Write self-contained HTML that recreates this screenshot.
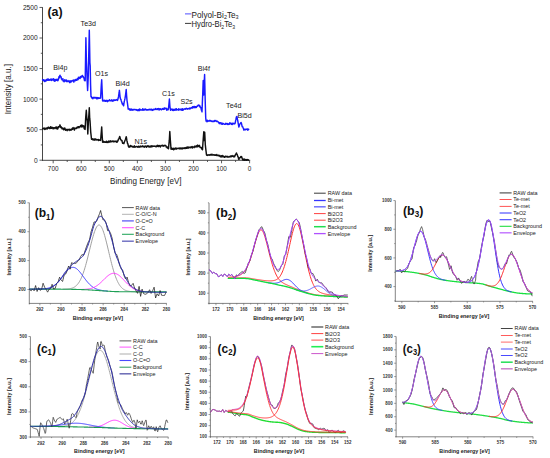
<!DOCTYPE html>
<html><head><meta charset="utf-8"><style>
html,body{margin:0;padding:0;background:#fff;}
svg{display:block;font-family:"Liberation Sans", sans-serif;}
</style></head><body>
<svg width="550" height="458" viewBox="0 0 550 458">
<rect width="550" height="458" fill="#fff"/>
<line x1="42.5" y1="7.2" x2="42.5" y2="160.8" stroke="#333" stroke-width="0.9"/>
<line x1="42.1" y1="160.3" x2="250.2" y2="160.3" stroke="#333" stroke-width="0.9"/>
<line x1="39.5" y1="160.2" x2="42.5" y2="160.2" stroke="#333" stroke-width="0.8"/>
<text x="37.6" y="162.6" font-size="6.6" text-anchor="end" font-weight="normal" fill="#222" >0</text>
<line x1="40.8" y1="144.92" x2="42.5" y2="144.92" stroke="#333" stroke-width="0.8"/>
<line x1="39.5" y1="129.65" x2="42.5" y2="129.65" stroke="#333" stroke-width="0.8"/>
<text x="37.6" y="132.05" font-size="6.6" text-anchor="end" font-weight="normal" fill="#222" >500</text>
<line x1="40.8" y1="114.37" x2="42.5" y2="114.37" stroke="#333" stroke-width="0.8"/>
<line x1="39.5" y1="99.1" x2="42.5" y2="99.1" stroke="#333" stroke-width="0.8"/>
<text x="37.6" y="101.5" font-size="6.6" text-anchor="end" font-weight="normal" fill="#222" >1000</text>
<line x1="40.8" y1="83.82" x2="42.5" y2="83.82" stroke="#333" stroke-width="0.8"/>
<line x1="39.5" y1="68.55" x2="42.5" y2="68.55" stroke="#333" stroke-width="0.8"/>
<text x="37.6" y="70.95" font-size="6.6" text-anchor="end" font-weight="normal" fill="#222" >1500</text>
<line x1="40.8" y1="53.27" x2="42.5" y2="53.27" stroke="#333" stroke-width="0.8"/>
<line x1="39.5" y1="38" x2="42.5" y2="38" stroke="#333" stroke-width="0.8"/>
<text x="37.6" y="40.4" font-size="6.6" text-anchor="end" font-weight="normal" fill="#222" >2000</text>
<line x1="40.8" y1="22.72" x2="42.5" y2="22.72" stroke="#333" stroke-width="0.8"/>
<line x1="39.5" y1="7.45" x2="42.5" y2="7.45" stroke="#333" stroke-width="0.8"/>
<text x="37.6" y="9.85" font-size="6.6" text-anchor="end" font-weight="normal" fill="#222" >2500</text>
<line x1="249.6" y1="160.3" x2="249.6" y2="163.3" stroke="#333" stroke-width="0.8"/>
<text x="249.6" y="170.6" font-size="6.4" text-anchor="middle" font-weight="normal" fill="#222" >0</text>
<line x1="235.57" y1="160.3" x2="235.57" y2="162" stroke="#333" stroke-width="0.8"/>
<line x1="221.54" y1="160.3" x2="221.54" y2="163.3" stroke="#333" stroke-width="0.8"/>
<text x="221.54" y="170.6" font-size="6.4" text-anchor="middle" font-weight="normal" fill="#222" >100</text>
<line x1="207.51" y1="160.3" x2="207.51" y2="162" stroke="#333" stroke-width="0.8"/>
<line x1="193.48" y1="160.3" x2="193.48" y2="163.3" stroke="#333" stroke-width="0.8"/>
<text x="193.48" y="170.6" font-size="6.4" text-anchor="middle" font-weight="normal" fill="#222" >200</text>
<line x1="179.45" y1="160.3" x2="179.45" y2="162" stroke="#333" stroke-width="0.8"/>
<line x1="165.42" y1="160.3" x2="165.42" y2="163.3" stroke="#333" stroke-width="0.8"/>
<text x="165.42" y="170.6" font-size="6.4" text-anchor="middle" font-weight="normal" fill="#222" >300</text>
<line x1="151.39" y1="160.3" x2="151.39" y2="162" stroke="#333" stroke-width="0.8"/>
<line x1="137.36" y1="160.3" x2="137.36" y2="163.3" stroke="#333" stroke-width="0.8"/>
<text x="137.36" y="170.6" font-size="6.4" text-anchor="middle" font-weight="normal" fill="#222" >400</text>
<line x1="123.33" y1="160.3" x2="123.33" y2="162" stroke="#333" stroke-width="0.8"/>
<line x1="109.3" y1="160.3" x2="109.3" y2="163.3" stroke="#333" stroke-width="0.8"/>
<text x="109.3" y="170.6" font-size="6.4" text-anchor="middle" font-weight="normal" fill="#222" >500</text>
<line x1="95.27" y1="160.3" x2="95.27" y2="162" stroke="#333" stroke-width="0.8"/>
<line x1="81.24" y1="160.3" x2="81.24" y2="163.3" stroke="#333" stroke-width="0.8"/>
<text x="81.24" y="170.6" font-size="6.4" text-anchor="middle" font-weight="normal" fill="#222" >600</text>
<line x1="67.21" y1="160.3" x2="67.21" y2="162" stroke="#333" stroke-width="0.8"/>
<line x1="53.18" y1="160.3" x2="53.18" y2="163.3" stroke="#333" stroke-width="0.8"/>
<text x="53.18" y="170.6" font-size="6.4" text-anchor="middle" font-weight="normal" fill="#222" >700</text>
<text x="145.8" y="183.6" font-size="8.4" text-anchor="middle" font-weight="normal" fill="#222" textLength="71.5" lengthAdjust="spacingAndGlyphs">Binding Energy [eV]</text>
<text x="0" y="0" font-size="8.2" text-anchor="middle" font-weight="normal" fill="#222" textLength="50.2" lengthAdjust="spacingAndGlyphs" transform="translate(10.7,89.1) rotate(-90)">Intensity [a.u.]</text>
<text x="47.4" y="15.8" font-size="12.9" text-anchor="start" font-weight="bold" fill="#111" textLength="15.2" lengthAdjust="spacingAndGlyphs">(a)</text>
<line x1="185" y1="13.9" x2="191.4" y2="13.9" stroke="#3a3aff" stroke-width="0.9"/>
<line x1="185" y1="23.4" x2="191.4" y2="23.4" stroke="#222" stroke-width="0.9"/>
<text x="191.6" y="17.5" font-size="9.0" text-anchor="start" font-weight="normal" fill="#222" textLength="47" lengthAdjust="spacingAndGlyphs">Polyol-Bi<tspan font-size="6" dy="1.8">2</tspan><tspan dy="-1.8">Te</tspan><tspan font-size="6" dy="1.8">3</tspan></text>
<text x="191.6" y="26.7" font-size="9.0" text-anchor="start" font-weight="normal" fill="#222" textLength="43.5" lengthAdjust="spacingAndGlyphs">Hydro-Bi<tspan font-size="6" dy="1.8">2</tspan><tspan dy="-1.8">Te</tspan><tspan font-size="6" dy="1.8">3</tspan></text>
<text x="60.35" y="70" font-size="7.1" text-anchor="middle" font-weight="normal" fill="#222" >Bi4p</text>
<text x="88.3" y="25.9" font-size="7.1" text-anchor="middle" font-weight="normal" fill="#222" >Te3d</text>
<text x="101.6" y="75.6" font-size="7.1" text-anchor="middle" font-weight="normal" fill="#222" >O1s</text>
<text x="122.6" y="86.2" font-size="7.1" text-anchor="middle" font-weight="normal" fill="#222" >Bi4d</text>
<text x="168.4" y="96.2" font-size="7.1" text-anchor="middle" font-weight="normal" fill="#222" >C1s</text>
<text x="186.55" y="104.3" font-size="7.1" text-anchor="middle" font-weight="normal" fill="#222" >S2s</text>
<text x="203.9" y="71.1" font-size="7.1" text-anchor="middle" font-weight="normal" fill="#222" >Bi4f</text>
<text x="233.8" y="107.8" font-size="7.1" text-anchor="middle" font-weight="normal" fill="#222" >Te4d</text>
<text x="244.65" y="117.5" font-size="7.1" text-anchor="middle" font-weight="normal" fill="#222" >Bi5d</text>
<text x="140.8" y="143.8" font-size="7.2" text-anchor="middle" font-weight="normal" fill="#222" >N1s</text>
<path d="M42.6,128.8 42.91,128.97 43.22,128.59 43.52,128.19 43.83,128.45 44.14,128.09 44.45,128.74 44.76,129.53 45.07,128.36 45.38,128.26 45.68,128.94 45.99,128.84 46.3,128.67 46.61,128 46.92,128.55 47.23,128.99 47.53,127.69 47.84,128.23 48.15,127.3 48.46,127.67 48.77,127.31 49.08,128.3 49.38,127.63 49.69,128.59 50,128.5 50.31,128.26 50.62,126.77 50.92,127.99 51.23,128.28 51.54,128.36 51.85,127.3 52.15,127.94 52.46,127.6 52.77,127.68 53.08,128.84 53.38,127.64 53.69,128.1 54,128.66 54.31,127.71 54.62,127.98 54.92,128.1 55.23,128.05 55.54,127.21 55.85,128.01 56.15,128.79 56.46,126.94 56.77,128.43 57.08,127.94 57.38,127.44 57.69,129.08 58,128.28 58.33,126.72 58.65,127.2 58.97,127.19 59.3,126.38 59.65,126.13 60,124.86 60.4,126.17 60.8,127.51 61.1,126.67 61.4,127.73 61.7,127.81 62,128.68 62.31,127.93 62.62,128.39 62.92,128.71 63.23,129.47 63.54,129.71 63.85,128.23 64.15,128.64 64.46,129.62 64.77,128.04 65.08,129.08 65.38,129.38 65.69,130.31 66,130.03 66.3,129.42 66.6,129.43 66.9,129.53 67.2,130.68 67.5,129.48 67.8,129.59 68.1,130.03 68.4,129.76 68.7,129.75 69,129.2 69.3,129.82 69.6,129.48 69.9,130.42 70.2,130.03 70.5,129.53 70.8,129.9 71.1,129.2 71.4,130 71.7,129.27 72,129.57 72.3,128.32 72.6,129.28 72.9,127.93 73.2,127.64 73.5,128.66 73.8,128.21 74.1,128.81 74.4,130.05 74.7,128.05 75,128.11 75.31,128.52 75.62,128.6 75.94,128.07 76.25,127.95 76.56,128.41 76.88,128.19 77.19,127.11 77.5,127.6 77.81,127.57 78.12,126.77 78.44,127.49 78.75,126.68 79.06,127.73 79.38,127.13 79.69,126.96 80,126.43 80.31,126.65 80.62,125.4 80.93,125.87 81.24,126.74 81.55,125.1 81.85,126.9 82.16,125.19 82.47,126.69 82.78,125.61 83.09,126.56 83.4,126.08 83.74,125.73 84.08,128.19 84.42,129.01 84.76,128.76 85.1,129.38 85.4,123.68 85.7,117.59 86.3,110.26 86.8,117.77 87.3,121.08 87.8,134.07 88.15,126.94 88.5,119.46 88.9,114.48 89.3,107.84 89.7,118.41 90,120.61 90.35,126.01 90.7,131.86 91.1,135.41 91.5,139.3 91.82,139.17 92.14,139.23 92.45,138.8 92.77,139.07 93.09,140.13 93.41,139.18 93.73,139.05 94.05,139.66 94.36,140.14 94.68,138.96 95,139.51 95.31,139.37 95.62,138.93 95.93,140.01 96.24,139.72 96.56,139.8 96.87,139.48 97.18,140.02 97.49,139.64 97.8,139.84 98.11,139.47 98.42,139.46 98.73,140.56 99.04,139.82 99.36,140.19 99.67,140.09 99.98,139.95 100.29,139.95 100.6,140.46 100.95,135.97 101.3,131.94 101.7,126.91 102.1,134.49 102.6,142.19 102.91,142.05 103.22,141.65 103.52,141.29 103.83,142.27 104.14,142.26 104.45,141.79 104.76,142.07 105.07,142.16 105.38,142.17 105.68,142.2 105.99,141.62 106.3,142.44 106.61,141.27 106.92,142.15 107.22,141.98 107.53,142.13 107.84,142.55 108.15,142.37 108.46,141.26 108.77,141.02 109.08,142.07 109.38,141.29 109.69,141.7 110,142.05 110.3,141 110.6,140.8 110.9,141.78 111.2,141.69 111.5,141.56 111.8,141.67 112.1,141.28 112.4,141 112.7,141.56 113,141.21 113.3,140.92 113.6,141.82 113.9,141.57 114.2,141.76 114.5,141.16 114.8,141.3 115.1,141.14 115.4,141.18 115.7,141.63 116,141.21 116.3,141.68 116.6,141.67 116.9,142.37 117.2,140.92 117.5,141.87 117.83,140.84 118.15,140.24 118.47,139.02 118.8,138.81 119.1,138.45 119.4,137.23 119.7,136.43 120.03,137.3 120.35,138.93 120.67,139.47 121,139.58 121.33,140.63 121.65,140.52 121.97,140.41 122.3,141.98 122.62,143.19 122.95,143.07 123.27,142.98 123.6,143.5 123.92,143.59 124.24,142.41 124.56,141.58 124.88,140.76 125.2,140.02 125.53,139.24 125.87,138.03 126.2,136.79 126.53,138.03 126.87,140.45 127.2,141.71 127.53,143.58 127.85,143.72 128.18,145.32 128.5,146.5 128.8,145.95 129.11,147.23 129.41,147.12 129.71,146.32 130.01,146.84 130.32,146.67 130.62,145.42 130.92,146.63 131.22,146.5 131.53,146.56 131.83,146.08 132.13,146.42 132.43,146.46 132.74,147.04 133.04,146.68 133.34,146.54 133.64,147.19 133.95,146.31 134.25,146.39 134.55,145.79 134.86,147.21 135.16,146.96 135.46,146.95 135.76,146.84 136.07,146.61 136.37,146.66 136.67,146.47 136.97,146.49 137.28,146.6 137.58,147.21 137.88,146.81 138.18,146.56 138.49,146.34 138.79,146.32 139.09,147.27 139.39,146.81 139.7,146.63 140,146.45 140.3,146.13 140.61,146.55 140.91,146.94 141.21,146.4 141.52,146.46 141.82,146.45 142.12,146.58 142.42,145.86 142.73,146.42 143.03,146.15 143.33,146.87 143.64,146.17 143.94,146.72 144.24,147.11 144.55,146.33 144.85,146.2 145.15,146.53 145.45,146.44 145.76,146.01 146.06,146.61 146.36,147.26 146.67,146.29 146.97,146.31 147.27,145.94 147.58,146.51 147.88,145.84 148.18,145.89 148.48,146.88 148.79,145.96 149.09,146.78 149.39,146.96 149.7,146.42 150,146.53 150.3,147.11 150.61,146.21 150.91,146.03 151.21,145.71 151.52,146.29 151.82,146.88 152.12,146.66 152.42,145.86 152.73,145.89 153.03,146.03 153.33,146.36 153.64,146.14 153.94,146.31 154.24,146.34 154.55,146.08 154.85,146.19 155.15,146.28 155.45,146.16 155.76,146.4 156.06,146.96 156.36,146.42 156.67,146.19 156.97,145.45 157.27,146.32 157.58,145.33 157.88,145.55 158.18,146.5 158.48,146.43 158.79,146.06 159.09,145.4 159.39,145.96 159.7,145.82 160,146.37 160.31,147.01 160.62,146.12 160.94,145.66 161.25,145.46 161.56,145.89 161.88,145.8 162.19,145.35 162.5,145.85 162.81,145.28 163.12,146.19 163.44,146.13 163.75,146.11 164.06,145.41 164.38,145.79 164.69,145.48 165,145.34 165.32,145.64 165.64,145.52 165.95,145.74 166.27,146.96 166.59,146.83 166.91,147.28 167.23,147.89 167.55,147.03 167.86,147.71 168.18,148.39 168.5,148.76 168.9,144.14 169.3,140.43 169.8,131.59 170.3,139.49 170.65,144.01 171,149.14 171.3,148.99 171.6,147.99 171.9,149.35 172.2,149.02 172.5,149.33 172.8,148.6 173.1,148.63 173.4,148.27 173.7,149.81 174,148.66 174.3,149.39 174.6,148.45 174.9,148.78 175.2,148 175.5,148.54 175.8,149.11 176.1,148.16 176.4,149.13 176.7,148.81 177,148.23 177.3,148.45 177.6,148.46 177.9,148.63 178.2,148.41 178.5,148.29 178.8,148.5 179.1,148.19 179.4,148.07 179.7,148.59 180,148.97 180.3,147.93 180.61,148.54 180.91,148.24 181.21,148.07 181.52,148.81 181.82,148.2 182.12,149.02 182.42,148.03 182.73,148.49 183.03,148.2 183.33,147.95 183.64,148.48 183.94,148.14 184.24,148.43 184.55,148.13 184.85,147.66 185.15,148.04 185.45,148.08 185.76,148.43 186.06,147.61 186.36,147.95 186.67,147.21 186.97,148.18 187.27,147.42 187.58,147.08 187.88,147.79 188.18,148.25 188.48,147.11 188.79,147.26 189.09,147.38 189.39,147.19 189.7,147.79 190,147.26 190.3,147.25 190.6,147.74 190.9,147.13 191.2,147.58 191.5,146.94 191.8,146.79 192.1,146.48 192.4,147.98 192.7,147.02 193,147.2 193.3,147.04 193.6,147.07 193.9,146.97 194.2,147.7 194.5,146.41 194.8,146.15 195.1,146.32 195.4,146.14 195.7,146.96 196,146.94 196.3,146.13 196.6,145.89 196.9,146.26 197.2,146.93 197.5,145.1 197.8,146.44 198.1,145.7 198.4,146.53 198.7,145.57 199,145.84 199.3,145.27 199.64,145.91 199.98,147.32 200.32,147.5 200.66,147.41 201,147.63 201.3,147.56 201.6,148.55 201.9,149.07 202.2,149.4 202.5,149.76 202.9,143.43 203.3,137.97 203.8,131.78 204.3,140.54 204.7,132.28 205,138.19 205.3,144.68 205.7,148.37 206.1,151.54 206.5,154.89 206.81,155.16 207.11,154.74 207.42,155.42 207.72,155.11 208.03,155.25 208.33,155.06 208.64,154.82 208.94,154.71 209.25,155 209.56,154.86 209.86,155.18 210.17,155.06 210.47,154.48 210.78,155.07 211.08,154.47 211.39,154.76 211.69,154.89 212,154.13 212.3,155.05 212.6,155.09 212.9,154.98 213.2,154.88 213.5,154.92 213.8,154.68 214.1,154.99 214.4,154.89 214.7,155.17 215,154.64 215.3,155.26 215.6,155.24 215.9,155.14 216.2,155.03 216.5,155.46 216.8,154.54 217.1,155.45 217.4,155.37 217.7,155.4 218,155.46 218.3,155.15 218.6,155.43 218.9,155.93 219.2,155.96 219.5,155.99 219.8,155.38 220.1,156.37 220.4,156.75 220.7,156.8 221,156.6 221.3,155.85 221.61,156.91 221.91,156.46 222.22,155.47 222.52,156.7 222.83,155.93 223.13,156.02 223.43,156.3 223.74,157.11 224.04,156.43 224.35,156.71 224.65,157.34 224.96,157.28 225.26,156.58 225.57,156.53 225.87,156.11 226.17,156.36 226.48,156.84 226.78,156.83 227.09,156.72 227.39,157.1 227.7,156.37 228,156.68 228.3,156.99 228.61,156.92 228.91,157.11 229.22,156.81 229.52,156.5 229.83,156.77 230.13,156.19 230.43,155.91 230.74,156.83 231.04,156.55 231.35,156.69 231.65,155.83 231.96,156.38 232.26,156.27 232.57,156.14 232.87,155.54 233.17,156.34 233.48,156.84 233.78,156.61 234.09,156.19 234.39,156.42 234.7,156.73 235,155.24 235.4,155.15 235.8,154.23 236.15,153.49 236.5,153.11 236.8,153.74 237.1,154.26 237.4,155.13 237.72,156.31 238.05,156.72 238.38,157.91 238.7,159.28 239.02,159.37 239.35,158.13 239.68,157.83 240,157.58 240.4,157.63 240.8,156.62 241.2,156.82 241.53,156.56 241.87,157.66 242.2,158.42 242.6,159.43 243,160.14 243.3,159.08 243.6,159.34 243.9,159.87 244.2,159.46 244.5,159.11 244.8,160.2 245.1,159.98 245.4,159.99 245.7,159.59 246,160.23 246.31,159.72 246.62,160.31 246.94,159.49 247.25,159.54 247.56,160.01 247.88,159.66 248.19,160.26 248.5,160.11" fill="none" stroke="#111" stroke-width="1.45" stroke-linejoin="round" stroke-linecap="round" />
<path d="M42.6,79.72 42.91,80.33 43.22,80.04 43.52,80.81 43.83,79.82 44.14,79.92 44.45,80.94 44.76,81.56 45.07,81.39 45.38,80.15 45.68,80.23 45.99,81.04 46.3,79.97 46.61,79.41 46.92,80.08 47.23,80.27 47.53,79.44 47.84,78.91 48.15,79.02 48.46,80.32 48.77,79.41 49.08,79.77 49.38,79.98 49.69,80.21 50,79.59 50.31,80.1 50.62,79.22 50.92,79.54 51.23,79.11 51.54,80.46 51.85,79.71 52.15,79.25 52.46,79.49 52.77,79.56 53.08,80.13 53.38,78.67 53.69,79.01 54,79.41 54.31,81.23 54.62,80.23 54.92,79.55 55.23,80.05 55.54,80.89 55.85,79.43 56.15,79.34 56.46,80.32 56.77,79.86 57.08,79.96 57.38,79.2 57.69,80.72 58,80.58 58.33,79.36 58.65,78.93 58.97,76.72 59.3,77.9 59.65,76.08 60,75.17 60.4,76.48 60.8,76.98 61.1,76.81 61.4,78.78 61.7,78.76 62,79.69 62.31,79.62 62.62,79.88 62.92,78.75 63.23,81.07 63.54,80.56 63.85,81.2 64.15,81.85 64.46,80.71 64.77,79.66 65.08,80.34 65.38,80.24 65.69,80.78 66,81.25 66.3,79.98 66.6,81.5 66.9,80.37 67.2,81.55 67.5,81.33 67.8,81.24 68.1,81.43 68.4,81.18 68.7,81.17 69,80.54 69.3,81.52 69.6,82.63 69.9,82.65 70.2,82.17 70.5,81.72 70.8,80.78 71.1,82.05 71.4,81.04 71.7,80.97 72,80.77 72.3,80.94 72.6,80.55 72.9,80.7 73.2,80.01 73.5,80.39 73.8,82 74.1,80.45 74.4,80.28 74.7,80.7 75,80.75 75.31,79.43 75.62,79.83 75.94,80.37 76.25,79.79 76.56,79.53 76.88,80.27 77.19,78.69 77.5,79 77.81,78.45 78.12,79.55 78.44,77.21 78.75,77.85 79.06,77.77 79.38,78.36 79.69,78.15 80,78.48 80.33,76.43 80.67,77.71 81,76.87 81.33,76.45 81.67,77.02 82,75.92 82.36,75.41 82.72,76.71 83.08,76.22 83.44,76.97 83.8,77.83 84.15,78.75 84.5,80.5 84.85,80.32 85.2,80.76 85.55,59.43 85.9,37.71 86.4,61.49 86.7,67.98 87.1,79.73 87.6,90.47 87.95,83.44 88.3,74.95 88.63,60.12 88.97,44.98 89.3,30.17 89.6,45.97 89.9,62.52 90.2,66.18 90.6,85.16 91,96.77 91.33,96.52 91.67,97.6 92,98.09 92.31,98.26 92.62,97.57 92.92,98.79 93.23,98.12 93.54,97.54 93.85,97.3 94.15,97.87 94.46,97.92 94.77,97.62 95.08,97.93 95.38,97.59 95.69,98.06 96,97.5 96.31,97.84 96.61,98.32 96.92,99.04 97.23,97.59 97.53,97.87 97.84,97.77 98.15,98.5 98.45,97.74 98.76,98.08 99.07,98.32 99.37,97.98 99.68,98.04 99.99,98.29 100.29,97.66 100.6,97.99 100.95,91.63 101.3,85.06 101.7,79.72 102.1,89.25 102.6,100.61 102.9,101.12 103.2,101.01 103.5,100.73 103.8,100.38 104.1,101.01 104.4,100.49 104.7,100.23 105,100.37 105.3,101.31 105.6,100.78 105.9,101.16 106.2,100.47 106.5,101.05 106.8,100.39 107.1,100.57 107.4,101.67 107.7,100.93 108,100.39 108.31,100.54 108.62,100.69 108.94,101.03 109.25,100.29 109.56,99.74 109.88,100.33 110.19,100.43 110.5,100.45 110.81,100.93 111.12,100.48 111.44,100.67 111.75,99.84 112.06,100.64 112.38,101.13 112.69,100.55 113,100.31 113.32,100.25 113.64,100.92 113.96,99.77 114.28,100.1 114.6,100.33 114.92,100.43 115.24,99.92 115.56,100.22 115.88,99.96 116.2,100.12 116.52,100 116.84,99.56 117.16,100.02 117.48,100.38 117.8,99.59 118.13,98.23 118.47,96.95 118.8,94.55 119.1,92.98 119.4,90.35 119.8,94.38 120.2,97.97 120.56,99.05 120.92,99.31 121.28,100.91 121.64,101.85 122,103.04 122.32,104.09 122.64,103.33 122.96,104.76 123.28,104.74 123.6,105.79 123.92,103.64 124.24,101.64 124.56,100.4 124.88,98.95 125.2,97.02 125.53,95 125.87,92.38 126.2,89.5 126.6,95.58 127,100.29 127.4,102.96 127.8,105.83 128.2,109.14 128.5,108.66 128.8,108.7 129.1,109.07 129.4,109.8 129.7,108.87 130,110.1 130.3,109.34 130.61,109.15 130.91,110.15 131.21,109.58 131.52,109.08 131.82,109.49 132.12,110.03 132.42,110.15 132.73,109.48 133.03,109.83 133.33,109.97 133.64,109.4 133.94,109.83 134.24,109.67 134.55,109.47 134.85,109.49 135.15,109.73 135.45,109.72 135.76,109.48 136.06,109.54 136.36,110.19 136.67,109.82 136.97,110.11 137.27,110.25 137.58,110 137.88,110.71 138.18,109.42 138.48,110.11 138.79,109.64 139.09,110.56 139.39,110.5 139.7,108.97 140,109.39 140.3,110.07 140.61,110.12 140.91,110.09 141.21,109.75 141.52,109.96 141.82,110.04 142.12,109.72 142.42,110.18 142.73,108.8 143.03,110.01 143.33,109.3 143.64,110.13 143.94,109.63 144.24,109.34 144.55,109.87 144.85,109.32 145.15,109.31 145.45,109.03 145.76,109.67 146.06,109.89 146.36,110.1 146.67,109.61 146.97,110.1 147.27,109.66 147.58,109.61 147.88,109.88 148.18,110.08 148.48,109.49 148.79,109.52 149.09,109.55 149.39,109.65 149.7,109.23 150,110.03 150.3,109.42 150.61,109.78 150.91,109.23 151.21,109.71 151.52,109.72 151.82,109.37 152.12,110.39 152.42,109.68 152.73,110.26 153.03,109.91 153.33,109.22 153.64,109.33 153.94,109.66 154.24,109.5 154.55,109.48 154.85,109.33 155.15,108.69 155.45,109.34 155.76,108.5 156.06,109.57 156.36,109.1 156.67,109.1 156.97,109.3 157.27,109.5 157.58,108.77 157.88,108.63 158.18,108.91 158.48,108.49 158.79,108.93 159.09,110 159.39,108.87 159.7,109.58 160,108.72 160.31,109.38 160.61,109.08 160.92,109.14 161.22,109.36 161.53,109.82 161.83,109.12 162.14,109.04 162.44,108.54 162.75,109.15 163.06,108.75 163.36,109.16 163.67,108.75 163.97,109.45 164.28,107.84 164.58,108.51 164.89,108.96 165.19,108.4 165.5,108.17 165.84,108.55 166.18,108.25 166.51,109.04 166.85,110.17 167.19,109.79 167.52,109.01 167.86,109.27 168.2,109.63 168.6,107.32 169,103.65 169.4,99.01 169.9,106.37 170.5,110.26 170.81,109.73 171.11,109.41 171.42,109.22 171.73,109.57 172.03,108.91 172.34,110.16 172.65,109.57 172.95,110.02 173.26,110.6 173.56,110.3 173.87,109.31 174.18,110.15 174.48,110.26 174.79,109.45 175.1,109.35 175.4,109.7 175.71,109.06 176.02,110.34 176.32,108.71 176.63,109.24 176.94,109.58 177.24,109.59 177.55,109.75 177.85,109.78 178.16,109.57 178.47,110.13 178.77,108.74 179.08,109.63 179.39,109.32 179.69,109.67 180,109.69 180.3,109.18 180.61,109.26 180.91,109.82 181.21,109.6 181.52,109.13 181.82,110.24 182.12,110.32 182.42,108.69 182.73,109.4 183.03,110.29 183.33,109.53 183.64,109.26 183.94,109.04 184.24,108.86 184.55,108.97 184.85,108.79 185.15,109.29 185.45,108.78 185.76,108.72 186.06,108.37 186.36,108.82 186.67,108.42 186.97,108.69 187.27,109.16 187.58,108.84 187.88,108.87 188.18,108.77 188.48,108.61 188.79,108.49 189.09,108.38 189.39,108.79 189.7,107.98 190,108.96 190.3,108.32 190.6,107.91 190.9,107.92 191.2,107.76 191.5,108.02 191.8,107.56 192.1,108.25 192.4,107.35 192.7,106.64 193,107.19 193.3,106.57 193.6,107.3 193.9,107.67 194.2,107.41 194.5,106.49 194.8,106.64 195.1,107.62 195.4,106.91 195.7,106.69 196,107.04 196.3,107.5 196.6,106.89 196.9,106.28 197.2,106.24 197.5,106.22 197.8,105.58 198.1,105.26 198.4,105.6 198.7,105.06 199,105.3 199.3,105.24 199.64,106.74 199.98,105.96 200.32,106.83 200.66,107.37 201,108.18 201.33,109.84 201.67,110.59 202,111.86 202.35,102.91 202.7,94.61 203.2,80.53 203.7,95.02 204,87.71 204.3,81.11 204.6,74.41 205.2,100.21 205.7,117.75 206.1,121.09 206.41,120.43 206.72,120.7 207.03,121.85 207.34,120.24 207.65,121.01 207.96,121.23 208.27,120.97 208.58,120.78 208.89,121.08 209.21,121.09 209.52,121.05 209.83,120.29 210.14,121 210.45,120.69 210.76,120.81 211.07,121.13 211.38,121.29 211.69,121.39 212,120.79 212.31,121.4 212.62,121.52 212.94,121.51 213.25,121.63 213.56,121 213.87,121 214.18,121.43 214.49,120.52 214.81,121.19 215.12,120.89 215.43,120.97 215.74,120.41 216.05,120.78 216.36,121.16 216.68,121.55 216.99,121.6 217.3,121.17 217.64,121.44 217.98,121.49 218.32,122.33 218.66,122.38 219,123.05 219.31,123.65 219.63,123.01 219.94,122.51 220.26,122.9 220.57,122.76 220.89,122.98 221.2,124.15 221.51,123.71 221.82,122.99 222.13,123.92 222.44,124.18 222.75,123.52 223.05,123.4 223.36,123.55 223.67,123.83 223.98,123.99 224.29,124.23 224.6,124.26 224.91,124.26 225.22,124.35 225.53,124.07 225.84,123.16 226.15,123.76 226.45,123.96 226.76,123.68 227.07,124.24 227.38,123.72 227.69,123.5 228,124.51 228.3,124.17 228.61,123.97 228.91,124.25 229.22,124.29 229.52,123.98 229.83,122.79 230.13,123.52 230.43,123.6 230.74,123.37 231.04,123.85 231.35,124.26 231.65,123.54 231.96,123.25 232.26,124.57 232.57,123.51 232.87,123.17 233.17,123.78 233.48,123.84 233.78,123.36 234.09,123.97 234.39,123.42 234.7,123.23 235,123.68 235.33,122.39 235.67,120.27 236,119.14 236.35,117.11 236.7,116.49 237,116.57 237.3,119.01 237.6,119.98 237.93,121.57 238.25,123.55 238.57,125.25 238.9,127.03 239.27,125.8 239.63,124.58 240,123.77 240.37,123.51 240.73,122.84 241.1,122.49 241.47,123.44 241.83,125.08 242.2,126.64 242.52,126.89 242.85,127.03 243.18,127.98 243.5,128.7 243.81,129.96 244.12,128.92 244.44,129.78 244.75,129.5 245.06,129.96 245.38,129.65 245.69,129.17 246,129.12 246.34,129.3 246.68,129.4 247.01,129.16 247.35,129.44 247.69,130.19 248.02,128.86 248.36,129.75 248.7,129.32" fill="none" stroke="#1a1aff" stroke-width="1.45" stroke-linejoin="round" stroke-linecap="round" />
<line x1="29.3" y1="202.7" x2="29.3" y2="303.8" stroke="#5a5a5a" stroke-width="0.75"/>
<line x1="29" y1="303.4" x2="166.7" y2="303.4" stroke="#5a5a5a" stroke-width="0.75"/>
<line x1="27.4" y1="289.5" x2="29.3" y2="289.5" stroke="#5a5a5a" stroke-width="0.6"/>
<text x="25.8" y="291.1" font-size="4.7" text-anchor="end" font-weight="bold" fill="#333" textLength="7.35" lengthAdjust="spacingAndGlyphs">200</text>
<line x1="28.2" y1="275.05" x2="29.3" y2="275.05" stroke="#5a5a5a" stroke-width="0.6"/>
<line x1="27.4" y1="260.6" x2="29.3" y2="260.6" stroke="#5a5a5a" stroke-width="0.6"/>
<text x="25.8" y="262.2" font-size="4.7" text-anchor="end" font-weight="bold" fill="#333" textLength="7.35" lengthAdjust="spacingAndGlyphs">300</text>
<line x1="28.2" y1="246.15" x2="29.3" y2="246.15" stroke="#5a5a5a" stroke-width="0.6"/>
<line x1="27.4" y1="231.7" x2="29.3" y2="231.7" stroke="#5a5a5a" stroke-width="0.6"/>
<text x="25.8" y="233.3" font-size="4.7" text-anchor="end" font-weight="bold" fill="#333" textLength="7.35" lengthAdjust="spacingAndGlyphs">400</text>
<line x1="28.2" y1="217.25" x2="29.3" y2="217.25" stroke="#5a5a5a" stroke-width="0.6"/>
<line x1="27.4" y1="202.8" x2="29.3" y2="202.8" stroke="#5a5a5a" stroke-width="0.6"/>
<text x="25.8" y="204.4" font-size="4.7" text-anchor="end" font-weight="bold" fill="#333" textLength="7.35" lengthAdjust="spacingAndGlyphs">500</text>
<line x1="166.45" y1="303.4" x2="166.45" y2="305.3" stroke="#5a5a5a" stroke-width="0.6"/>
<text x="166.45" y="311" font-size="5.0" text-anchor="middle" font-weight="bold" fill="#333" textLength="7.35" lengthAdjust="spacingAndGlyphs">280</text>
<line x1="155.9" y1="303.4" x2="155.9" y2="304.5" stroke="#5a5a5a" stroke-width="0.6"/>
<line x1="145.35" y1="303.4" x2="145.35" y2="305.3" stroke="#5a5a5a" stroke-width="0.6"/>
<text x="145.35" y="311" font-size="5.0" text-anchor="middle" font-weight="bold" fill="#333" textLength="7.35" lengthAdjust="spacingAndGlyphs">282</text>
<line x1="134.8" y1="303.4" x2="134.8" y2="304.5" stroke="#5a5a5a" stroke-width="0.6"/>
<line x1="124.25" y1="303.4" x2="124.25" y2="305.3" stroke="#5a5a5a" stroke-width="0.6"/>
<text x="124.25" y="311" font-size="5.0" text-anchor="middle" font-weight="bold" fill="#333" textLength="7.35" lengthAdjust="spacingAndGlyphs">284</text>
<line x1="113.7" y1="303.4" x2="113.7" y2="304.5" stroke="#5a5a5a" stroke-width="0.6"/>
<line x1="103.15" y1="303.4" x2="103.15" y2="305.3" stroke="#5a5a5a" stroke-width="0.6"/>
<text x="103.15" y="311" font-size="5.0" text-anchor="middle" font-weight="bold" fill="#333" textLength="7.35" lengthAdjust="spacingAndGlyphs">286</text>
<line x1="92.6" y1="303.4" x2="92.6" y2="304.5" stroke="#5a5a5a" stroke-width="0.6"/>
<line x1="82.05" y1="303.4" x2="82.05" y2="305.3" stroke="#5a5a5a" stroke-width="0.6"/>
<text x="82.05" y="311" font-size="5.0" text-anchor="middle" font-weight="bold" fill="#333" textLength="7.35" lengthAdjust="spacingAndGlyphs">288</text>
<line x1="71.5" y1="303.4" x2="71.5" y2="304.5" stroke="#5a5a5a" stroke-width="0.6"/>
<line x1="60.95" y1="303.4" x2="60.95" y2="305.3" stroke="#5a5a5a" stroke-width="0.6"/>
<text x="60.95" y="311" font-size="5.0" text-anchor="middle" font-weight="bold" fill="#333" textLength="7.35" lengthAdjust="spacingAndGlyphs">290</text>
<line x1="50.4" y1="303.4" x2="50.4" y2="304.5" stroke="#5a5a5a" stroke-width="0.6"/>
<line x1="39.85" y1="303.4" x2="39.85" y2="305.3" stroke="#5a5a5a" stroke-width="0.6"/>
<text x="39.85" y="311" font-size="5.0" text-anchor="middle" font-weight="bold" fill="#333" textLength="7.35" lengthAdjust="spacingAndGlyphs">292</text>
<line x1="29.3" y1="303.4" x2="29.3" y2="304.5" stroke="#5a5a5a" stroke-width="0.6"/>
<text x="97.9" y="319.6" font-size="5.8" text-anchor="middle" font-weight="bold" fill="#222" textLength="50.5" lengthAdjust="spacingAndGlyphs">Binding energy [eV]</text>
<text x="0" y="0" font-size="5.5" text-anchor="middle" font-weight="bold" fill="#222" textLength="37" lengthAdjust="spacingAndGlyphs" transform="translate(10.6,257) rotate(-90)">Intensity [a.u.]</text>
<text x="34.7" y="217.4" font-size="12.9" text-anchor="start" font-weight="bold" fill="#111" textLength="19.8" lengthAdjust="spacingAndGlyphs">(b<tspan font-size="8.4" dy="2.3">1</tspan><tspan dy="-2.3">)</tspan></text>
<path d="M63.1,289.15 63.6,289.14 64.1,289.13 64.6,289.12 65.1,289.11 65.6,289.09 66.1,289.07 66.6,289.05 67.1,289.02 67.6,288.98 68.1,288.93 68.6,288.88 69.1,288.81 69.6,288.74 70.1,288.65 70.6,288.54 71.1,288.42 71.6,288.28 72.1,288.12 72.6,287.94 73.1,287.74 73.6,287.5 74.1,287.24 74.6,286.94 75.1,286.6 75.6,286.22 76.1,285.8 76.6,285.33 77.1,284.81 77.6,284.24 78.1,283.61 78.6,282.92 79.1,282.16 79.6,281.34 80.1,280.45 80.6,279.48 81.1,278.44 81.6,277.32 82.1,276.12 82.6,274.84 83.1,273.49 83.6,272.05 84.1,270.54 84.6,268.94 85.1,267.28 85.6,265.55 86.1,263.75 86.6,261.89 87.1,259.98 87.6,258.03 88.1,256.04 88.6,254.01 89.1,251.97 89.6,249.92 90.1,247.88 90.6,245.84 91.1,243.83 91.6,241.87 92.1,239.95 92.6,238.09 93.1,236.31 93.6,234.62 94.1,233.03 94.6,231.56 95.1,230.21 95.6,229 96.1,227.93 96.6,227.01 97.1,226.26 97.6,225.68 98.1,225.27 98.6,225.04 99.1,224.98 99.6,225.11 100.1,225.42 100.6,225.9 101.1,226.55 101.6,227.37 102.1,228.36 102.6,229.49 103.1,230.78 103.6,232.19 104.1,233.73 104.6,235.39 105.1,237.15 105.6,238.99 106.1,240.91 106.6,242.9 107.1,244.94 107.6,247.02 108.1,249.12 108.6,251.24 109.1,253.35 109.6,255.46 110.1,257.54 110.6,259.6 111.1,261.61 111.6,263.58 112.1,265.49 112.6,267.33 113.1,269.11 113.6,270.81 114.1,272.44 114.6,273.99 115.1,275.46 115.6,276.84 116.1,278.15 116.6,279.37 117.1,280.52 117.6,281.59 118.1,282.58 118.6,283.5 119.1,284.35 119.6,285.12 120.1,285.84 120.6,286.49 121.1,287.08 121.6,287.62 122.1,288.11 122.6,288.55 123.1,288.94 123.6,289.3 124.1,289.61 124.6,289.9 125.1,290.15 125.6,290.37 126.1,290.56 126.6,290.73 127.1,290.89 127.6,291.02 128.1,291.13 128.6,291.23 129.1,291.32 129.6,291.4 130.1,291.46 130.6,291.52 131.1,291.56 131.6,291.61 132.1,291.64 132.6,291.67 133.1,291.7 133.6,291.72 134.1,291.74 134.6,291.76 135.1,291.77" fill="none" stroke="#a0a0a0" stroke-width="1.0" stroke-linejoin="round" stroke-linecap="round" />
<path d="M38.6,289.04 39.1,289.03 39.6,289.02 40.1,289.01 40.6,288.99 41.1,288.97 41.6,288.95 42.1,288.92 42.6,288.89 43.1,288.86 43.6,288.82 44.1,288.78 44.6,288.73 45.1,288.67 45.6,288.61 46.1,288.53 46.6,288.45 47.1,288.36 47.6,288.26 48.1,288.15 48.6,288.02 49.1,287.88 49.6,287.73 50.1,287.55 50.6,287.37 51.1,287.16 51.6,286.94 52.1,286.7 52.6,286.44 53.1,286.15 53.6,285.85 54.1,285.52 54.6,285.17 55.1,284.79 55.6,284.39 56.1,283.97 56.6,283.52 57.1,283.05 57.6,282.55 58.1,282.03 58.6,281.49 59.1,280.93 59.6,280.35 60.1,279.75 60.6,279.13 61.1,278.5 61.6,277.86 62.1,277.2 62.6,276.55 63.1,275.88 63.6,275.22 64.1,274.57 64.6,273.91 65.1,273.27 65.6,272.65 66.1,272.04 66.6,271.45 67.1,270.89 67.6,270.36 68.1,269.87 68.6,269.41 69.1,268.98 69.6,268.61 70.1,268.27 70.6,267.99 71.1,267.75 71.6,267.57 72.1,267.45 72.6,267.37 73.1,267.35 73.6,267.39 74.1,267.48 74.6,267.63 75.1,267.83 75.6,268.09 76.1,268.39 76.6,268.75 77.1,269.14 77.6,269.59 78.1,270.07 78.6,270.59 79.1,271.14 79.6,271.72 80.1,272.33 80.6,272.96 81.1,273.61 81.6,274.27 82.1,274.95 82.6,275.63 83.1,276.31 83.6,277 84.1,277.68 84.6,278.36 85.1,279.03 85.6,279.68 86.1,280.33 86.6,280.96 87.1,281.57 87.6,282.17 88.1,282.74 88.6,283.29 89.1,283.83 89.6,284.33 90.1,284.82 90.6,285.28 91.1,285.71 91.6,286.13 92.1,286.51 92.6,286.88 93.1,287.22 93.6,287.54 94.1,287.84 94.6,288.11 95.1,288.37 95.6,288.61 96.1,288.83 96.6,289.03 97.1,289.22 97.6,289.4 98.1,289.56 98.6,289.71 99.1,289.85 99.6,289.97 100.1,290.09 100.6,290.2 101.1,290.3 101.6,290.39 102.1,290.48 102.6,290.56 103.1,290.63 103.6,290.7 104.1,290.76 104.6,290.82 105.1,290.88 105.6,290.93 106.1,290.98 106.6,291.03 107.1,291.08 107.6,291.13" fill="none" stroke="#3a3aff" stroke-width="1.0" stroke-linejoin="round" stroke-linecap="round" />
<path d="M78.6,289.43 79.1,289.44 79.6,289.44 80.1,289.44 80.6,289.44 81.1,289.44 81.6,289.44 82.1,289.43 82.6,289.42 83.1,289.41 83.6,289.39 84.1,289.37 84.6,289.35 85.1,289.32 85.6,289.28 86.1,289.24 86.6,289.2 87.1,289.15 87.6,289.09 88.1,289.02 88.6,288.95 89.1,288.87 89.6,288.77 90.1,288.67 90.6,288.55 91.1,288.42 91.6,288.27 92.1,288.11 92.6,287.93 93.1,287.74 93.6,287.53 94.1,287.3 94.6,287.06 95.1,286.79 95.6,286.51 96.1,286.21 96.6,285.89 97.1,285.55 97.6,285.19 98.1,284.82 98.6,284.43 99.1,284.02 99.6,283.6 100.1,283.16 100.6,282.71 101.1,282.25 101.6,281.77 102.1,281.29 102.6,280.8 103.1,280.3 103.6,279.8 104.1,279.3 104.6,278.81 105.1,278.31 105.6,277.83 106.1,277.36 106.6,276.9 107.1,276.46 107.6,276.04 108.1,275.64 108.6,275.26 109.1,274.91 109.6,274.59 110.1,274.3 110.6,274.04 111.1,273.82 111.6,273.64 112.1,273.49 112.6,273.37 113.1,273.3 113.6,273.27 114.1,273.27 114.6,273.32 115.1,273.4 115.6,273.53 116.1,273.69 116.6,273.9 117.1,274.14 117.6,274.42 118.1,274.73 118.6,275.08 119.1,275.45 119.6,275.86 120.1,276.29 120.6,276.74 121.1,277.22 121.6,277.71 122.1,278.21 122.6,278.73 123.1,279.26 123.6,279.79 124.1,280.33 124.6,280.87 125.1,281.41 125.6,281.94 126.1,282.47 126.6,282.99 127.1,283.5 127.6,284 128.1,284.48 128.6,284.96 129.1,285.41 129.6,285.85 130.1,286.27 130.6,286.68 131.1,287.06 131.6,287.43 132.1,287.78 132.6,288.11 133.1,288.42 133.6,288.71 134.1,288.99 134.6,289.24 135.1,289.48 135.6,289.71 136.1,289.91 136.6,290.1 137.1,290.28 137.6,290.44 138.1,290.59 138.6,290.72 139.1,290.84 139.6,290.96 140.1,291.06 140.6,291.15 141.1,291.23 141.6,291.31 142.1,291.38 142.6,291.44 143.1,291.49 143.6,291.54 144.1,291.58 144.6,291.62 145.1,291.65 145.6,291.68 146.1,291.71 146.6,291.73 147.1,291.75 147.6,291.77 148.1,291.79 148.6,291.8 149.1,291.81 149.6,291.82" fill="none" stroke="#ff33ff" stroke-width="1.0" stroke-linejoin="round" stroke-linecap="round" />
<path d="M29.6,289.1 30.1,289.1 30.6,289.1 31.1,289.1 31.6,289.1 32.1,289.1 32.6,289.1 33.1,289.1 33.6,289.1 34.1,289.1 34.6,289.1 35.1,289.1 35.6,289.1 36.1,289.1 36.6,289.1 37.1,289.1 37.6,289.1 38.1,289.1 38.6,289.1 39.1,289.1 39.6,289.1 40.1,289.1 40.6,289.1 41.1,289.1 41.6,289.1 42.1,289.1 42.6,289.1 43.1,289.1 43.6,289.1 44.1,289.1 44.6,289.1 45.1,289.1 45.6,289.1 46.1,289.1 46.6,289.1 47.1,289.1 47.6,289.1 48.1,289.1 48.6,289.1 49.1,289.1 49.6,289.1 50.1,289.1 50.6,289.1 51.1,289.1 51.6,289.1 52.1,289.1 52.6,289.1 53.1,289.11 53.6,289.11 54.1,289.11 54.6,289.11 55.1,289.12 55.6,289.12 56.1,289.13 56.6,289.13 57.1,289.13 57.6,289.14 58.1,289.14 58.6,289.15 59.1,289.15 59.6,289.16 60.1,289.16 60.6,289.17 61.1,289.18 61.6,289.18 62.1,289.19 62.6,289.19 63.1,289.2 63.6,289.21 64.1,289.21 64.6,289.22 65.1,289.23 65.6,289.24 66.1,289.24 66.6,289.25 67.1,289.26 67.6,289.26 68.1,289.27 68.6,289.28 69.1,289.29 69.6,289.29 70.1,289.3 70.6,289.31 71.1,289.32 71.6,289.33 72.1,289.33 72.6,289.34 73.1,289.35 73.6,289.36 74.1,289.37 74.6,289.39 75.1,289.4 75.6,289.41 76.1,289.42 76.6,289.43 77.1,289.45 77.6,289.46 78.1,289.47 78.6,289.49 79.1,289.5 79.6,289.52 80.1,289.53 80.6,289.55 81.1,289.56 81.6,289.58 82.1,289.6 82.6,289.61 83.1,289.63 83.6,289.65 84.1,289.67 84.6,289.68 85.1,289.7 85.6,289.72 86.1,289.75 86.6,289.77 87.1,289.8 87.6,289.82 88.1,289.85 88.6,289.88 89.1,289.91 89.6,289.94 90.1,289.97 90.6,290.01 91.1,290.04 91.6,290.07 92.1,290.11 92.6,290.14 93.1,290.17 93.6,290.21 94.1,290.24 94.6,290.27 95.1,290.31 95.6,290.34 96.1,290.37 96.6,290.41 97.1,290.44 97.6,290.48 98.1,290.51 98.6,290.55 99.1,290.58 99.6,290.62 100.1,290.66 100.6,290.69 101.1,290.73 101.6,290.77 102.1,290.8 102.6,290.84 103.1,290.87 103.6,290.91 104.1,290.94 104.6,290.97 105.1,291.01 105.6,291.04 106.1,291.07 106.6,291.11 107.1,291.15 107.6,291.18 108.1,291.22 108.6,291.25 109.1,291.29 109.6,291.32 110.1,291.36 110.6,291.39 111.1,291.42 111.6,291.45 112.1,291.48 112.6,291.51 113.1,291.53 113.6,291.56 114.1,291.57 114.6,291.59 115.1,291.6 115.6,291.61 116.1,291.62 116.6,291.63 117.1,291.64 117.6,291.65 118.1,291.66 118.6,291.67 119.1,291.68 119.6,291.69 120.1,291.7 120.6,291.71 121.1,291.71 121.6,291.72 122.1,291.73 122.6,291.73 123.1,291.74 123.6,291.75 124.1,291.75 124.6,291.76 125.1,291.76 125.6,291.77 126.1,291.77 126.6,291.78 127.1,291.78 127.6,291.79 128.1,291.79 128.6,291.79 129.1,291.8 129.6,291.8 130.1,291.8 130.6,291.8 131.1,291.81 131.6,291.81 132.1,291.81 132.6,291.81 133.1,291.81 133.6,291.82 134.1,291.82 134.6,291.82 135.1,291.82 135.6,291.83 136.1,291.83 136.6,291.83 137.1,291.83 137.6,291.83 138.1,291.84 138.6,291.84 139.1,291.84 139.6,291.84 140.1,291.84 140.6,291.85 141.1,291.85 141.6,291.85 142.1,291.85 142.6,291.85 143.1,291.86 143.6,291.86 144.1,291.86 144.6,291.86 145.1,291.86 145.6,291.86 146.1,291.87 146.6,291.87 147.1,291.87 147.6,291.87 148.1,291.87 148.6,291.87 149.1,291.87 149.6,291.88 150.1,291.88 150.6,291.88 151.1,291.88 151.6,291.88 152.1,291.88 152.6,291.88 153.1,291.88 153.6,291.89 154.1,291.89 154.6,291.89 155.1,291.89 155.6,291.89 156.1,291.89 156.6,291.89 157.1,291.89 157.6,291.89 158.1,291.89 158.6,291.89 159.1,291.89 159.6,291.9 160.1,291.9 160.6,291.9 161.1,291.9 161.6,291.9 162.1,291.9 162.6,291.9 163.1,291.9 163.6,291.9 164.1,291.9 164.6,291.9 165.1,291.9 165.6,291.9 166.1,291.9" fill="none" stroke="#1fa055" stroke-width="1.1" stroke-linejoin="round" stroke-linecap="round" />
<path d="M29.6,289.51 30.1,289.99 30.6,290.47 31.1,290.95 31.6,290.29 32.1,289.63 32.6,288.97 33.1,289.57 33.6,290.17 34.1,290.78 34.6,289.04 35.1,287.3 35.6,285.56 36.1,287.53 36.6,289.5 37.1,291.47 37.6,290.21 38.1,288.95 38.6,287.69 39.1,288.58 39.6,289.48 40.1,290.37 40.6,290.04 41.1,289.71 41.6,289.38 42.1,287.33 42.6,285.29 43.1,283.25 43.6,284.57 44.1,285.9 44.6,287.22 45.1,287.91 45.6,288.61 46.1,289.3 46.6,290.25 47.1,291.2 47.6,292.15 48.1,291.19 48.6,290.2 49.1,289.17 49.6,289 50.1,288.79 50.6,288.55 51.1,287.07 51.6,285.56 52.1,284.3 52.6,285.87 53.1,287.42 53.6,288.96 54.1,288.84 54.6,288.71 55.1,288.57 55.6,286.97 56.1,285.35 56.6,283.71 57.1,283.07 57.6,282.4 58.1,281.71 58.6,280.22 59.1,278.71 59.6,277.17 60.1,278.2 60.6,279.19 61.1,280.13 61.6,280.58 62.1,281.01 62.6,281.43 63.1,279.31 63.6,277.2 64.1,275.1 64.6,274.72 65.1,274.39 65.6,274.1 66.1,272.99 66.6,271.89 67.1,270.8 67.6,269.19 68.1,267.6 68.6,266.04 69.1,267.06 69.6,268.11 70.1,269.19 70.6,267.02 71.1,264.85 71.6,262.69 72.1,262.93 72.6,263.18 73.1,263.45 73.6,263.37 74.1,263.31 74.6,263.26 75.1,263.28 75.6,263.31 76.1,263.34 76.6,262.65 77.1,261.97 77.6,261.28 78.1,260.89 78.6,260.49 79.1,260.1 79.6,258.96 80.1,257.81 80.6,256.67 81.1,255.94 81.6,255.2 82.1,254.45 82.6,254.83 83.1,255.05 83.6,255.16 84.1,253.76 84.6,252.28 85.1,250.74 85.6,249.29 86.1,247.82 86.6,246.29 87.1,245.13 87.6,243.88 88.1,242.54 88.6,241.59 89.1,240.56 89.6,239.48 90.1,236.94 90.6,234.37 91.1,231.71 91.6,230.21 92.1,228.68 92.6,227.19 93.1,225.27 93.6,223.5 94.1,221.94 94.6,221.96 95.1,222.12 95.6,222.38 96.1,221.65 96.6,220.97 97.1,220.32 97.6,218.27 98.1,217.12 98.6,215.96 99.1,214.75 99.6,213.5 100.1,212.06 100.6,210.5 101.1,212.69 101.6,214.78 102.1,216.72 102.6,218.33 103.1,219.96 103.6,219.88 104.1,219.94 104.6,220.11 105.1,221 105.6,221.94 106.1,222.93 106.6,225.42 107.1,227.96 107.6,230.57 108.1,230.51 108.6,230.49 109.1,230.52 109.6,231.44 110.1,232.42 110.6,233.47 111.1,235.01 111.6,236.6 112.1,238.21 112.6,241.06 113.1,243.93 113.6,246.97 114.1,249.03 114.6,251.13 115.1,253.13 115.6,253.8 116.1,254.14 116.6,254.31 117.1,255.81 117.6,257.28 118.1,258.72 118.6,260.91 119.1,263.09 119.6,265.27 120.1,266.47 120.6,267.67 121.1,268.87 121.6,269.23 122.1,269.58 122.6,269.93 123.1,271.93 123.6,273.92 124.1,275.88 124.6,276.94 125.1,277.97 125.6,278.96 126.1,278.38 126.6,277.76 127.1,277.1 127.6,278.95 128.1,280.76 128.6,282.5 129.1,283.68 129.6,284.8 130.1,285.87 130.6,285.74 131.1,285.57 131.6,285.36 132.1,284.72 132.6,284.05 133.1,283.36 133.6,284.92 134.1,286.46 134.6,287.99 135.1,288.97 135.6,289.95 136.1,290.92 136.6,291.74 137.1,292.54 137.6,293.33 138.1,291.04 138.6,288.72 139.1,286.38 139.6,289.73 140.1,293.05 140.6,296.35 141.1,293.96 141.6,291.56 142.1,289.16 142.6,290.64 143.1,292.11 143.6,293.57 144.1,293.82 144.6,294.07 145.1,294.3 145.6,294.18 146.1,294.04 146.6,293.9 147.1,293.37 147.6,292.84 148.1,292.31 148.6,291.46 149.1,290.61 149.6,289.76 150.1,290.98 150.6,292.19 151.1,293.41 151.6,292.54 152.1,291.66 152.6,290.79 153.1,289.6 153.6,288.41 154.1,287.22 154.6,290.81 155.1,294.39 155.6,297.97 156.1,296.57 156.6,295.16 157.1,293.76 157.6,294.51 158.1,295.25 158.6,296 159.1,294.18 159.6,292.36 160.1,290.54 160.6,292.13 161.1,293.71 161.6,295.29 162.1,295.37 162.6,295.44 163.1,295.51 163.6,295.47 164.1,295.43 164.6,295.39 165.1,294.32 165.6,293.25 166.1,292.18" fill="none" stroke="#222" stroke-width="0.8" stroke-linejoin="round" stroke-linecap="round" />
<path d="M29.6,289.1 30.1,289.1 30.6,289.1 31.1,289.1 31.6,289.1 32.1,289.1 32.6,289.09 33.1,289.09 33.6,289.08 34.1,289.08 34.6,289.07 35.1,289.06 35.6,289.06 36.1,289.05 36.6,289.04 37.1,289.04 37.6,289.03 38.1,289.02 38.6,289.02 39.1,289.01 39.6,289 40.1,289 40.6,288.99 41.1,288.98 41.6,288.97 42.1,288.96 42.6,288.95 43.1,288.93 43.6,288.92 44.1,288.9 44.6,288.88 45.1,288.86 45.6,288.84 46.1,288.81 46.6,288.79 47.1,288.76 47.6,288.73 48.1,288.7 48.6,288.64 49.1,288.54 49.6,288.39 50.1,288.2 50.6,287.98 51.1,287.72 51.6,287.44 52.1,287.13 52.6,286.8 53.1,286.45 53.6,286.09 54.1,285.72 54.6,285.35 55.1,284.96 55.6,284.54 56.1,284.11 56.6,283.65 57.1,283.17 57.6,282.67 58.1,282.14 58.6,281.59 59.1,281.01 59.6,280.41 60.1,279.77 60.6,279.09 61.1,278.36 61.6,277.6 62.1,276.82 62.6,276.03 63.1,275.23 63.6,274.44 64.1,273.67 64.6,272.93 65.1,272.22 65.6,271.57 66.1,270.95 66.6,270.33 67.1,269.72 67.6,269.13 68.1,268.56 68.6,268.01 69.1,267.48 69.6,266.99 70.1,266.52 70.6,266.06 71.1,265.6 71.6,265.15 72.1,264.71 72.6,264.29 73.1,263.87 73.6,263.46 74.1,263.08 74.6,262.7 75.1,262.32 75.6,261.95 76.1,261.57 76.6,261.2 77.1,260.82 77.6,260.45 78.1,260.08 78.6,259.7 79.1,259.32 79.6,258.95 80.1,258.57 80.6,258.19 81.1,257.81 81.6,257.43 82.1,257.03 82.6,256.5 83.1,255.83 83.6,255.04 84.1,254.15 84.6,253.18 85.1,252.16 85.6,251.11 86.1,250.04 86.6,248.91 87.1,247.71 87.6,246.44 88.1,245.07 88.6,243.6 89.1,242.06 89.6,240.46 90.1,238.82 90.6,237.17 91.1,235.41 91.6,233.57 92.1,231.71 92.6,229.88 93.1,228.15 93.6,226.58 94.1,225.21 94.6,224.02 95.1,222.96 95.6,222.01 96.1,221.14 96.6,220.3 97.1,219.5 97.6,218.77 98.1,218.11 98.6,217.54 99.1,217.07 99.6,216.71 100.1,216.48 100.6,216.4 101.1,216.48 101.6,216.71 102.1,217.09 102.6,217.56 103.1,218.13 103.6,218.81 104.1,219.62 104.6,220.54 105.1,221.51 105.6,222.52 106.1,223.59 106.6,224.71 107.1,225.9 107.6,227.16 108.1,228.46 108.6,229.8 109.1,231.2 109.6,232.66 110.1,234.19 110.6,235.78 111.1,237.43 111.6,239.12 112.1,240.85 112.6,242.59 113.1,244.36 113.6,246.29 114.1,248.38 114.6,250.5 115.1,252.52 115.6,254.31 116.1,255.76 116.6,257.05 117.1,258.29 117.6,259.5 118.1,260.69 118.6,261.86 119.1,263.03 119.6,264.2 120.1,265.37 120.6,266.55 121.1,267.72 121.6,268.89 122.1,270.05 122.6,271.21 123.1,272.37 123.6,273.52 124.1,274.64 124.6,275.73 125.1,276.79 125.6,277.82 126.1,278.81 126.6,279.76 127.1,280.67 127.6,281.54 128.1,282.36 128.6,283.12 129.1,283.82 129.6,284.46 130.1,285.04 130.6,285.57 131.1,286.06 131.6,286.5 132.1,286.91 132.6,287.29 133.1,287.63 133.6,287.96 134.1,288.26 134.6,288.56 135.1,288.85 135.6,289.14 136.1,289.41 136.6,289.68 137.1,289.94 137.6,290.17 138.1,290.39 138.6,290.59 139.1,290.76 139.6,290.9 140.1,291.02 140.6,291.13 141.1,291.23 141.6,291.32 142.1,291.42 142.6,291.5 143.1,291.58 143.6,291.66 144.1,291.73 144.6,291.78 145.1,291.83 145.6,291.87 146.1,291.91 146.6,291.93 147.1,291.96 147.6,291.99 148.1,292.01 148.6,292.04 149.1,292.06 149.6,292.09 150.1,292.11 150.6,292.13 151.1,292.16 151.6,292.18 152.1,292.2 152.6,292.22 153.1,292.24 153.6,292.25 154.1,292.27 154.6,292.29 155.1,292.3 155.6,292.31 156.1,292.32 156.6,292.33 157.1,292.34 157.6,292.35 158.1,292.36 158.6,292.36 159.1,292.37 159.6,292.37 160.1,292.37 160.6,292.37 161.1,292.36 161.6,292.36 162.1,292.35 162.6,292.34 163.1,292.33 163.6,292.32 164.1,292.3 164.6,292.28 165.1,292.27 165.6,292.24 166.1,292.22" fill="none" stroke="#2626a8" stroke-width="1.0" stroke-linejoin="round" stroke-linecap="round" />
<line x1="122" y1="207.6" x2="133.8" y2="207.6" stroke="#444" stroke-width="0.9"/>
<text x="135.6" y="209.5" font-size="5.4" text-anchor="start" font-weight="normal" fill="#1a1a1a" >RAW data</text>
<line x1="122" y1="214.3" x2="133.8" y2="214.3" stroke="#aaa" stroke-width="0.9"/>
<text x="135.6" y="216.2" font-size="5.4" text-anchor="start" font-weight="normal" fill="#1a1a1a" >C-O/C-N</text>
<line x1="122" y1="220.9" x2="133.8" y2="220.9" stroke="#6a6af5" stroke-width="1.4"/>
<text x="135.6" y="222.8" font-size="5.4" text-anchor="start" font-weight="normal" fill="#1a1a1a" >O-C=O</text>
<line x1="122" y1="227.7" x2="133.8" y2="227.7" stroke="#ff55ff" stroke-width="1.1"/>
<text x="135.6" y="229.6" font-size="5.4" text-anchor="start" font-weight="normal" fill="#1a1a1a" >C-C</text>
<line x1="122" y1="234.3" x2="133.8" y2="234.3" stroke="#2aa860" stroke-width="1.1"/>
<text x="135.6" y="236.2" font-size="5.4" text-anchor="start" font-weight="normal" fill="#1a1a1a" >Background</text>
<line x1="122" y1="241.2" x2="133.8" y2="241.2" stroke="#6a6ac0" stroke-width="1.4"/>
<text x="135.6" y="243.1" font-size="5.4" text-anchor="start" font-weight="normal" fill="#1a1a1a" >Envelope</text>
<line x1="209" y1="202.9" x2="209" y2="303.8" stroke="#5a5a5a" stroke-width="0.75"/>
<line x1="208.7" y1="303.4" x2="348.2" y2="303.4" stroke="#5a5a5a" stroke-width="0.75"/>
<line x1="207.9" y1="303.25" x2="209" y2="303.25" stroke="#5a5a5a" stroke-width="0.6"/>
<line x1="207.1" y1="293.2" x2="209" y2="293.2" stroke="#5a5a5a" stroke-width="0.6"/>
<text x="205.5" y="294.8" font-size="4.7" text-anchor="end" font-weight="bold" fill="#333" textLength="7.35" lengthAdjust="spacingAndGlyphs">100</text>
<line x1="207.9" y1="283.15" x2="209" y2="283.15" stroke="#5a5a5a" stroke-width="0.6"/>
<line x1="207.1" y1="273.1" x2="209" y2="273.1" stroke="#5a5a5a" stroke-width="0.6"/>
<text x="205.5" y="274.7" font-size="4.7" text-anchor="end" font-weight="bold" fill="#333" textLength="7.35" lengthAdjust="spacingAndGlyphs">200</text>
<line x1="207.9" y1="263.05" x2="209" y2="263.05" stroke="#5a5a5a" stroke-width="0.6"/>
<line x1="207.1" y1="253" x2="209" y2="253" stroke="#5a5a5a" stroke-width="0.6"/>
<text x="205.5" y="254.6" font-size="4.7" text-anchor="end" font-weight="bold" fill="#333" textLength="7.35" lengthAdjust="spacingAndGlyphs">300</text>
<line x1="207.9" y1="242.95" x2="209" y2="242.95" stroke="#5a5a5a" stroke-width="0.6"/>
<line x1="207.1" y1="232.9" x2="209" y2="232.9" stroke="#5a5a5a" stroke-width="0.6"/>
<text x="205.5" y="234.5" font-size="4.7" text-anchor="end" font-weight="bold" fill="#333" textLength="7.35" lengthAdjust="spacingAndGlyphs">400</text>
<line x1="207.9" y1="222.85" x2="209" y2="222.85" stroke="#5a5a5a" stroke-width="0.6"/>
<line x1="207.1" y1="212.8" x2="209" y2="212.8" stroke="#5a5a5a" stroke-width="0.6"/>
<text x="205.5" y="214.4" font-size="4.7" text-anchor="end" font-weight="bold" fill="#333" textLength="7.35" lengthAdjust="spacingAndGlyphs">500</text>
<line x1="207.9" y1="202.75" x2="209" y2="202.75" stroke="#5a5a5a" stroke-width="0.6"/>
<line x1="348" y1="303.4" x2="348" y2="304.5" stroke="#5a5a5a" stroke-width="0.6"/>
<line x1="341.05" y1="303.4" x2="341.05" y2="305.3" stroke="#5a5a5a" stroke-width="0.6"/>
<text x="341.05" y="311" font-size="5.0" text-anchor="middle" font-weight="bold" fill="#333" textLength="7.35" lengthAdjust="spacingAndGlyphs">154</text>
<line x1="334.1" y1="303.4" x2="334.1" y2="304.5" stroke="#5a5a5a" stroke-width="0.6"/>
<line x1="327.15" y1="303.4" x2="327.15" y2="305.3" stroke="#5a5a5a" stroke-width="0.6"/>
<text x="327.15" y="311" font-size="5.0" text-anchor="middle" font-weight="bold" fill="#333" textLength="7.35" lengthAdjust="spacingAndGlyphs">156</text>
<line x1="320.2" y1="303.4" x2="320.2" y2="304.5" stroke="#5a5a5a" stroke-width="0.6"/>
<line x1="313.25" y1="303.4" x2="313.25" y2="305.3" stroke="#5a5a5a" stroke-width="0.6"/>
<text x="313.25" y="311" font-size="5.0" text-anchor="middle" font-weight="bold" fill="#333" textLength="7.35" lengthAdjust="spacingAndGlyphs">158</text>
<line x1="306.3" y1="303.4" x2="306.3" y2="304.5" stroke="#5a5a5a" stroke-width="0.6"/>
<line x1="299.35" y1="303.4" x2="299.35" y2="305.3" stroke="#5a5a5a" stroke-width="0.6"/>
<text x="299.35" y="311" font-size="5.0" text-anchor="middle" font-weight="bold" fill="#333" textLength="7.35" lengthAdjust="spacingAndGlyphs">160</text>
<line x1="292.4" y1="303.4" x2="292.4" y2="304.5" stroke="#5a5a5a" stroke-width="0.6"/>
<line x1="285.45" y1="303.4" x2="285.45" y2="305.3" stroke="#5a5a5a" stroke-width="0.6"/>
<text x="285.45" y="311" font-size="5.0" text-anchor="middle" font-weight="bold" fill="#333" textLength="7.35" lengthAdjust="spacingAndGlyphs">162</text>
<line x1="278.5" y1="303.4" x2="278.5" y2="304.5" stroke="#5a5a5a" stroke-width="0.6"/>
<line x1="271.55" y1="303.4" x2="271.55" y2="305.3" stroke="#5a5a5a" stroke-width="0.6"/>
<text x="271.55" y="311" font-size="5.0" text-anchor="middle" font-weight="bold" fill="#333" textLength="7.35" lengthAdjust="spacingAndGlyphs">164</text>
<line x1="264.6" y1="303.4" x2="264.6" y2="304.5" stroke="#5a5a5a" stroke-width="0.6"/>
<line x1="257.65" y1="303.4" x2="257.65" y2="305.3" stroke="#5a5a5a" stroke-width="0.6"/>
<text x="257.65" y="311" font-size="5.0" text-anchor="middle" font-weight="bold" fill="#333" textLength="7.35" lengthAdjust="spacingAndGlyphs">166</text>
<line x1="250.7" y1="303.4" x2="250.7" y2="304.5" stroke="#5a5a5a" stroke-width="0.6"/>
<line x1="243.75" y1="303.4" x2="243.75" y2="305.3" stroke="#5a5a5a" stroke-width="0.6"/>
<text x="243.75" y="311" font-size="5.0" text-anchor="middle" font-weight="bold" fill="#333" textLength="7.35" lengthAdjust="spacingAndGlyphs">168</text>
<line x1="236.8" y1="303.4" x2="236.8" y2="304.5" stroke="#5a5a5a" stroke-width="0.6"/>
<line x1="229.85" y1="303.4" x2="229.85" y2="305.3" stroke="#5a5a5a" stroke-width="0.6"/>
<text x="229.85" y="311" font-size="5.0" text-anchor="middle" font-weight="bold" fill="#333" textLength="7.35" lengthAdjust="spacingAndGlyphs">170</text>
<line x1="222.9" y1="303.4" x2="222.9" y2="304.5" stroke="#5a5a5a" stroke-width="0.6"/>
<line x1="215.95" y1="303.4" x2="215.95" y2="305.3" stroke="#5a5a5a" stroke-width="0.6"/>
<text x="215.95" y="311" font-size="5.0" text-anchor="middle" font-weight="bold" fill="#333" textLength="7.35" lengthAdjust="spacingAndGlyphs">172</text>
<line x1="209" y1="303.4" x2="209" y2="304.5" stroke="#5a5a5a" stroke-width="0.6"/>
<text x="278.5" y="319.6" font-size="5.8" text-anchor="middle" font-weight="bold" fill="#222" textLength="50.5" lengthAdjust="spacingAndGlyphs">Binding energy [eV]</text>
<text x="0" y="0" font-size="5.5" text-anchor="middle" font-weight="bold" fill="#222" textLength="37" lengthAdjust="spacingAndGlyphs" transform="translate(189.6,257) rotate(-90)">Intensity [a.u.]</text>
<text x="216.1" y="217.4" font-size="12.9" text-anchor="start" font-weight="bold" fill="#111" textLength="20.4" lengthAdjust="spacingAndGlyphs">(b<tspan font-size="8.4" dy="2.3">2</tspan><tspan dy="-2.3">)</tspan></text>
<path d="M228.3,277.3 228.8,277.26 229.3,277.23 229.8,277.19 230.3,277.15 230.8,277.1 231.3,277.05 231.8,277 232.3,276.95 232.8,276.89 233.3,276.82 233.8,276.75 234.3,276.68 234.8,276.6 235.3,276.51 235.8,276.41 236.3,276.31 236.8,276.19 237.3,276.06 237.8,275.92 238.3,275.76 238.8,275.58 239.3,275.38 239.8,275.16 240.3,274.91 240.8,274.63 241.3,274.32 241.8,273.98 242.3,273.6 242.8,273.18 243.3,272.72 243.8,272.2 244.3,271.63 244.8,271 245.3,270.31 245.8,269.55 246.3,268.71 246.8,267.81 247.3,266.82 247.8,265.76 248.3,264.64 248.8,263.44 249.3,262.17 249.8,260.83 250.3,259.41 250.8,257.93 251.3,256.37 251.8,254.75 252.3,253.07 252.8,251.34 253.3,249.57 253.8,247.76 254.3,245.95 254.8,244.14 255.3,242.34 255.8,240.59 256.3,238.9 256.8,237.29 257.3,235.77 257.8,234.39 258.3,233.15 258.8,232.08 259.3,231.2 259.8,230.52 260.3,230.07 260.8,229.86 261.3,229.89 261.8,230.16 262.3,230.68 262.8,231.42 263.3,232.38 263.8,233.55 264.3,234.89 264.8,236.4 265.3,238.04 265.8,239.8 266.3,241.65 266.8,243.56 267.3,245.53 267.8,247.53 268.3,249.53 268.8,251.54 269.3,253.53 269.8,255.48 270.3,257.4 270.8,259.26 271.3,261.07 271.8,262.81 272.3,264.47 272.8,266.07 273.3,267.59 273.8,269.02 274.3,270.38 274.8,271.66 275.3,272.85 275.8,273.97 276.3,275 276.8,275.96 277.3,276.85 277.8,277.67 278.3,278.42 278.8,279.1 279.3,279.72 279.8,280.29 280.3,280.81 280.8,281.28 281.3,281.71 281.8,282.1 282.3,282.46 282.8,282.79 283.3,283.1 283.8,283.39 284.3,283.66 284.8,283.92 285.3,284.17 285.8,284.41 286.3,284.64 286.8,284.87 287.3,285.09 287.8,285.31 288.3,285.52 288.8,285.73 289.3,285.94 289.8,286.15 290.3,286.35 290.8,286.56 291.3,286.76 291.8,286.96 292.3,287.17 292.8,287.38 293.3,287.59 293.8,287.81 294.3,288.03 294.8,288.25 295.3,288.46 295.8,288.68 296.3,288.89 296.8,289.1 297.3,289.3 297.8,289.5 298.3,289.69 298.8,289.87 299.3,290.05 299.8,290.23 300.3,290.4 300.8,290.57 301.3,290.74 301.8,290.9 302.3,291.07 302.8,291.23 303.3,291.39 303.8,291.55 304.3,291.71 304.8,291.87 305.3,292.03 305.8,292.2 306.3,292.36 306.8,292.52 307.3,292.69 307.8,292.84 308.3,293 308.8,293.15 309.3,293.3 309.8,293.44 310.3,293.57 310.8,293.7 311.3,293.82 311.8,293.94 312.3,294.06 312.8,294.18 313.3,294.29 313.8,294.4 314.3,294.51 314.8,294.61 315.3,294.71 315.8,294.8 316.3,294.88 316.8,294.95 317.3,295.01 317.8,295.07 318.3,295.13 318.8,295.19 319.3,295.24 319.8,295.29 320.3,295.34 320.8,295.38 321.3,295.43 321.8,295.47 322.3,295.51 322.8,295.55 323.3,295.59 323.8,295.63 324.3,295.67 324.8,295.7 325.3,295.74 325.8,295.77 326.3,295.81 326.8,295.84 327.3,295.87 327.8,295.9 328.3,295.93 328.8,295.96 329.3,296 329.8,296.03 330.3,296.06 330.8,296.09 331.3,296.12 331.8,296.15 332.3,296.18 332.8,296.21 333.3,296.24 333.8,296.27 334.3,296.3 334.8,296.33 335.3,296.36 335.8,296.38 336.3,296.41 336.8,296.44 337.3,296.47 337.8,296.49 338.3,296.52 338.8,296.54 339.3,296.57 339.8,296.59 340.3,296.62 340.8,296.64 341.3,296.67 341.8,296.69 342.3,296.71 342.8,296.73 343.3,296.76 343.8,296.78 344.3,296.8 344.8,296.82 345.3,296.84 345.8,296.86 346.3,296.87 346.8,296.89 347.3,296.91" fill="none" stroke="#ff3030" stroke-width="1.0" stroke-linejoin="round" stroke-linecap="round" />
<path d="M228.3,278.04 228.8,278.04 229.3,278.03 229.8,278.02 230.3,278.02 230.8,278.01 231.3,278 231.8,277.99 232.3,277.97 232.8,277.96 233.3,277.95 233.8,277.94 234.3,277.93 234.8,277.91 235.3,277.9 235.8,277.89 236.3,277.88 236.8,277.86 237.3,277.85 237.8,277.84 238.3,277.83 238.8,277.82 239.3,277.8 239.8,277.79 240.3,277.78 240.8,277.77 241.3,277.77 241.8,277.76 242.3,277.77 242.8,277.77 243.3,277.78 243.8,277.79 244.3,277.81 244.8,277.83 245.3,277.85 245.8,277.87 246.3,277.89 246.8,277.92 247.3,277.94 247.8,277.98 248.3,278.03 248.8,278.09 249.3,278.17 249.8,278.25 250.3,278.34 250.8,278.44 251.3,278.53 251.8,278.63 252.3,278.73 252.8,278.82 253.3,278.9 253.8,278.98 254.3,279.06 254.8,279.14 255.3,279.22 255.8,279.3 256.3,279.38 256.8,279.46 257.3,279.54 257.8,279.62 258.3,279.69 258.8,279.77 259.3,279.84 259.8,279.92 260.3,279.99 260.8,280.06 261.3,280.13 261.8,280.2 262.3,280.26 262.8,280.33 263.3,280.39 263.8,280.46 264.3,280.51 264.8,280.57 265.3,280.62 265.8,280.67 266.3,280.72 266.8,280.76 267.3,280.79 267.8,280.82 268.3,280.84 268.8,280.86 269.3,280.87 269.8,280.87 270.3,280.86 270.8,280.85 271.3,280.83 271.8,280.8 272.3,280.75 272.8,280.69 273.3,280.62 273.8,280.53 274.3,280.42 274.8,280.29 275.3,280.13 275.8,279.93 276.3,279.7 276.8,279.42 277.3,279.1 277.8,278.72 278.3,278.28 278.8,277.78 279.3,277.21 279.8,276.56 280.3,275.82 280.8,275.01 281.3,274.1 281.8,273.1 282.3,272.01 282.8,270.82 283.3,269.52 283.8,268.13 284.3,266.64 284.8,265.04 285.3,263.35 285.8,261.56 286.3,259.68 286.8,257.71 287.3,255.66 287.8,253.54 288.3,251.37 288.8,249.14 289.3,246.88 289.8,244.6 290.3,242.32 290.8,240.06 291.3,237.84 291.8,235.68 292.3,233.62 292.8,231.68 293.3,229.89 293.8,228.27 294.3,226.85 294.8,225.66 295.3,224.72 295.8,224.05 296.3,223.67 296.8,223.57 297.3,223.78 297.8,224.29 298.3,225.08 298.8,226.16 299.3,227.5 299.8,229.08 300.3,230.88 300.8,232.86 301.3,235.01 301.8,237.3 302.3,239.69 302.8,242.17 303.3,244.7 303.8,247.27 304.3,249.85 304.8,252.42 305.3,254.97 305.8,257.49 306.3,259.94 306.8,262.34 307.3,264.65 307.8,266.87 308.3,269.01 308.8,271.03 309.3,272.96 309.8,274.77 310.3,276.47 310.8,278.06 311.3,279.55 311.8,280.93 312.3,282.21 312.8,283.39 313.3,284.48 313.8,285.48 314.3,286.4 314.8,287.23 315.3,287.99 315.8,288.67 316.3,289.28 316.8,289.84 317.3,290.33 317.8,290.77 318.3,291.17 318.8,291.53 319.3,291.85 319.8,292.14 320.3,292.41 320.8,292.64 321.3,292.86 321.8,293.06 322.3,293.24 322.8,293.4 323.3,293.55 323.8,293.69 324.3,293.82 324.8,293.94 325.3,294.05 325.8,294.15 326.3,294.25 326.8,294.34 327.3,294.43 327.8,294.51 328.3,294.59 328.8,294.67 329.3,294.74 329.8,294.82 330.3,294.89 330.8,294.95 331.3,295.02 331.8,295.08 332.3,295.15 332.8,295.21 333.3,295.27 333.8,295.32 334.3,295.38 334.8,295.43 335.3,295.49 335.8,295.54 336.3,295.59 336.8,295.64 337.3,295.69 337.8,295.73 338.3,295.78 338.8,295.82 339.3,295.87 339.8,295.91 340.3,295.95 340.8,295.99 341.3,296.03 341.8,296.07 342.3,296.1 342.8,296.14 343.3,296.18 343.8,296.21 344.3,296.24 344.8,296.28 345.3,296.31 345.8,296.34 346.3,296.37 346.8,296.4 347.3,296.43" fill="none" stroke="#ff3030" stroke-width="1.0" stroke-linejoin="round" stroke-linecap="round" />
<path d="M268.3,282.72 268.8,282.79 269.3,282.86 269.8,282.93 270.3,282.99 270.8,283.05 271.3,283.1 271.8,283.14 272.3,283.18 272.8,283.21 273.3,283.23 273.8,283.24 274.3,283.24 274.8,283.22 275.3,283.19 275.8,283.15 276.3,283.08 276.8,282.99 277.3,282.88 277.8,282.75 278.3,282.59 278.8,282.41 279.3,282.21 279.8,281.99 280.3,281.76 280.8,281.51 281.3,281.25 281.8,280.99 282.3,280.73 282.8,280.47 283.3,280.23 283.8,280.01 284.3,279.82 284.8,279.65 285.3,279.52 285.8,279.43 286.3,279.38 286.8,279.38 287.3,279.43 287.8,279.53 288.3,279.67 288.8,279.87 289.3,280.11 289.8,280.4 290.3,280.73 290.8,281.11 291.3,281.51 291.8,281.95 292.3,282.43 292.8,282.92 293.3,283.44 293.8,283.98 294.3,284.52 294.8,285.06 295.3,285.6 295.8,286.14 296.3,286.66 296.8,287.16 297.3,287.64 297.8,288.1 298.3,288.54 298.8,288.94 299.3,289.33 299.8,289.69 300.3,290.03 300.8,290.35 301.3,290.65 301.8,290.92 302.3,291.19 302.8,291.43 303.3,291.66 303.8,291.88 304.3,292.09 304.8,292.29 305.3,292.48 305.8,292.66 306.3,292.84 306.8,293.02 307.3,293.19 307.8,293.35" fill="none" stroke="#3030ff" stroke-width="1.0" stroke-linejoin="round" stroke-linecap="round" />
<path d="M295.3,289.44 295.8,289.61 296.3,289.78 296.8,289.94 297.3,290.1 297.8,290.24 298.3,290.37 298.8,290.49 299.3,290.6 299.8,290.7 300.3,290.78 300.8,290.86 301.3,290.92 301.8,290.97 302.3,291 302.8,291.01 303.3,291.01 303.8,291 304.3,290.96 304.8,290.91 305.3,290.83 305.8,290.74 306.3,290.63 306.8,290.5 307.3,290.35 307.8,290.18 308.3,289.98 308.8,289.77 309.3,289.54 309.8,289.29 310.3,289.02 310.8,288.74 311.3,288.46 311.8,288.17 312.3,287.89 312.8,287.61 313.3,287.35 313.8,287.1 314.3,286.87 314.8,286.66 315.3,286.47 315.8,286.31 316.3,286.18 316.8,286.08 317.3,286.02 317.8,286 318.3,286.01 318.8,286.08 319.3,286.18 319.8,286.33 320.3,286.52 320.8,286.75 321.3,287.01 321.8,287.31 322.3,287.64 322.8,287.99 323.3,288.37 323.8,288.77 324.3,289.18 324.8,289.6 325.3,290.03 325.8,290.45 326.3,290.88 326.8,291.3 327.3,291.71 327.8,292.12 328.3,292.5 328.8,292.87 329.3,293.23 329.8,293.56 330.3,293.88 330.8,294.18 331.3,294.45 331.8,294.71 332.3,294.94 332.8,295.16 333.3,295.35 333.8,295.53 334.3,295.69 334.8,295.84 335.3,295.97 335.8,296.09 336.3,296.2 336.8,296.29 337.3,296.37 337.8,296.45 338.3,296.52 338.8,296.58 339.3,296.63 339.8,296.68 340.3,296.72 340.8,296.76 341.3,296.8" fill="none" stroke="#5a5aff" stroke-width="1.0" stroke-linejoin="round" stroke-linecap="round" />
<path d="M228.3,278.4 228.8,278.4 229.3,278.4 229.8,278.39 230.3,278.39 230.8,278.39 231.3,278.38 231.8,278.38 232.3,278.37 232.8,278.37 233.3,278.36 233.8,278.36 234.3,278.35 234.8,278.35 235.3,278.34 235.8,278.33 236.3,278.33 236.8,278.32 237.3,278.32 237.8,278.31 238.3,278.31 238.8,278.31 239.3,278.3 239.8,278.3 240.3,278.3 240.8,278.3 241.3,278.3 241.8,278.31 242.3,278.32 242.8,278.34 243.3,278.36 243.8,278.38 244.3,278.41 244.8,278.43 245.3,278.47 245.8,278.5 246.3,278.53 246.8,278.57 247.3,278.61 247.8,278.66 248.3,278.72 248.8,278.8 249.3,278.89 249.8,278.99 250.3,279.09 250.8,279.2 251.3,279.32 251.8,279.43 252.3,279.55 252.8,279.66 253.3,279.76 253.8,279.86 254.3,279.96 254.8,280.06 255.3,280.16 255.8,280.26 256.3,280.36 256.8,280.47 257.3,280.57 257.8,280.67 258.3,280.77 258.8,280.88 259.3,280.98 259.8,281.08 260.3,281.18 260.8,281.28 261.3,281.39 261.8,281.49 262.3,281.59 262.8,281.69 263.3,281.8 263.8,281.9 264.3,282 264.8,282.1 265.3,282.2 265.8,282.3 266.3,282.4 266.8,282.5 267.3,282.59 267.8,282.69 268.3,282.78 268.8,282.87 269.3,282.96 269.8,283.05 270.3,283.15 270.8,283.24 271.3,283.34 271.8,283.44 272.3,283.54 272.8,283.64 273.3,283.75 273.8,283.87 274.3,283.98 274.8,284.1 275.3,284.22 275.8,284.34 276.3,284.47 276.8,284.59 277.3,284.71 277.8,284.83 278.3,284.94 278.8,285.06 279.3,285.16 279.8,285.27 280.3,285.37 280.8,285.47 281.3,285.56 281.8,285.66 282.3,285.75 282.8,285.85 283.3,285.95 283.8,286.05 284.3,286.15 284.8,286.26 285.3,286.38 285.8,286.5 286.3,286.62 286.8,286.75 287.3,286.89 287.8,287.02 288.3,287.16 288.8,287.31 289.3,287.46 289.8,287.61 290.3,287.76 290.8,287.92 291.3,288.07 291.8,288.23 292.3,288.4 292.8,288.57 293.3,288.75 293.8,288.93 294.3,289.12 294.8,289.3 295.3,289.49 295.8,289.68 296.3,289.87 296.8,290.05 297.3,290.23 297.8,290.4 298.3,290.57 298.8,290.73 299.3,290.88 299.8,291.04 300.3,291.19 300.8,291.34 301.3,291.49 301.8,291.64 302.3,291.79 302.8,291.93 303.3,292.08 303.8,292.23 304.3,292.37 304.8,292.52 305.3,292.67 305.8,292.82 306.3,292.97 306.8,293.12 307.3,293.26 307.8,293.41 308.3,293.55 308.8,293.69 309.3,293.83 309.8,293.96 310.3,294.08 310.8,294.2 311.3,294.31 311.8,294.42 312.3,294.54 312.8,294.64 313.3,294.75 313.8,294.85 314.3,294.95 314.8,295.05 315.3,295.13 315.8,295.21 316.3,295.29 316.8,295.35 317.3,295.41 317.8,295.46 318.3,295.51 318.8,295.56 319.3,295.61 319.8,295.65 320.3,295.69 320.8,295.74 321.3,295.77 321.8,295.81 322.3,295.85 322.8,295.88 323.3,295.92 323.8,295.95 324.3,295.98 324.8,296.01 325.3,296.04 325.8,296.07 326.3,296.1 326.8,296.13 327.3,296.16 327.8,296.18 328.3,296.21 328.8,296.24 329.3,296.27 329.8,296.29 330.3,296.32 330.8,296.35 331.3,296.38 331.8,296.4 332.3,296.43 332.8,296.46 333.3,296.48 333.8,296.51 334.3,296.53 334.8,296.56 335.3,296.59 335.8,296.61 336.3,296.64 336.8,296.66 337.3,296.68 337.8,296.71 338.3,296.73 338.8,296.75 339.3,296.78 339.8,296.8 340.3,296.82 340.8,296.84 341.3,296.86 341.8,296.88 342.3,296.9 342.8,296.92 343.3,296.94 343.8,296.96 344.3,296.98 344.8,297 345.3,297.02 345.8,297.03 346.3,297.05 346.8,297.06 347.3,297.08" fill="none" stroke="#10dd40" stroke-width="1.3" stroke-linejoin="round" stroke-linecap="round" />
<path d="M209.3,269.98 209.8,270.27 210.3,270.57 210.8,270.86 211.3,271.71 211.8,272.56 212.3,273.41 212.8,273.02 213.3,272.63 213.8,272.23 214.3,272.66 214.8,273.1 215.3,273.53 215.8,273.63 216.3,273.73 216.8,273.83 217.3,274.79 217.8,275.75 218.3,276.7 218.8,276.51 219.3,276.31 219.8,276.11 220.3,275.6 220.8,275.09 221.3,274.59 221.8,275.2 222.3,275.82 222.8,276.44 223.3,275.65 223.8,274.87 224.3,274.08 224.8,274.35 225.3,274.62 225.8,274.88 226.3,275.5 226.8,276.11 227.3,276.73 227.8,275.87 228.3,275.01 228.8,274.16 229.3,274.65 229.8,275.14 230.3,275.63 230.8,275.26 231.3,274.88 231.8,274.5 232.3,275.2 232.8,275.9 233.3,276.6 233.8,277.33 234.3,278.06 234.8,278.79 235.3,277.83 235.8,276.88 236.3,274.88 236.8,275.18 237.3,275.46 237.8,275.73 238.3,275.08 238.8,274.41 239.3,273.71 239.8,273.37 240.3,273 240.8,272.61 241.3,272.25 241.8,271.86 242.3,271.44 242.8,272.18 243.3,272.87 243.8,273.51 244.3,273.32 244.8,273.07 245.3,272.76 245.8,271.17 246.3,269.51 246.8,267.78 247.3,266.26 247.8,264.67 248.3,263.01 248.8,262.42 249.3,261.75 249.8,261.01 250.3,259.13 250.8,257.17 251.3,255.15 251.8,254.01 252.3,252.8 252.8,251.55 253.3,249.53 253.8,247.49 254.3,245.43 254.8,243.59 255.3,241.78 255.8,240 256.3,238.42 256.8,236.93 257.3,235.54 257.8,233.61 258.3,231.83 258.8,230.22 259.3,229.39 259.8,228.76 260.3,228.36 260.8,227.54 261.3,226.97 261.8,226.63 262.3,227.67 262.8,228.93 263.3,230.4 263.8,231.1 264.3,231.98 264.8,233.01 265.3,235.15 265.8,237.41 266.3,239.75 266.8,241.25 267.3,242.8 267.8,244.37 268.3,246.75 268.8,249.12 269.3,251.46 269.8,253.46 270.3,255.39 270.8,257.26 271.3,258.09 271.8,258.84 272.3,259.48 272.8,261.1 273.3,262.61 273.8,264.01 274.3,264.97 274.8,265.8 275.3,266.5 275.8,267.86 276.3,269.09 276.8,270.17 277.3,270.8 277.8,271.28 278.3,271.62 278.8,271.03 279.3,270.29 279.8,269.41 280.3,268.24 280.8,266.93 281.3,265.48 281.8,265.21 282.3,264.81 282.8,264.29 283.3,261.58 283.8,258.76 284.3,255.84 284.8,255.43 285.3,254.93 285.8,254.35 286.3,251.47 286.8,248.54 287.3,245.56 287.8,242.56 288.3,239.54 288.8,236.51 289.3,236.75 289.8,237.02 290.3,237.33 290.8,234.86 291.3,232.47 291.8,230.17 292.3,227.32 292.8,224.61 293.3,222.06 293.8,221.34 294.3,220.83 294.8,220.54 295.3,219.8 295.8,219.32 296.3,219.12 296.8,219.49 297.3,220.14 297.8,221.06 298.3,221.43 298.8,222.04 299.3,222.89 299.8,224.99 300.3,227.28 300.8,229.72 301.3,232.45 301.8,235.28 302.3,238.19 302.8,240.54 303.3,242.92 303.8,245.31 304.3,248.21 304.8,251.07 305.3,253.88 305.8,255.72 306.3,257.48 306.8,259.14 307.3,262.17 307.8,265.09 308.3,267.89 308.8,268.25 309.3,268.5 309.8,268.62 310.3,270.37 310.8,272 311.3,273.52 311.8,273.58 312.3,273.53 312.8,273.4 313.3,274.42 313.8,275.36 314.3,276.24 314.8,277.9 315.3,279.5 315.8,281.07 316.3,280.51 316.8,279.92 317.3,279.32 317.8,280.33 318.3,281.34 318.8,282.36 319.3,282.49 319.8,282.63 320.3,282.79 320.8,282.8 321.3,282.82 321.8,282.86 322.3,283.63 322.8,284.43 323.3,285.23 323.8,285.66 324.3,286.1 324.8,286.54 325.3,287.07 325.8,287.59 326.3,288.1 326.8,289.13 327.3,290.14 327.8,291.14 328.3,291.54 328.8,291.92 329.3,292.28 329.8,292.13 330.3,291.96 330.8,291.77 331.3,291.95 331.8,292.1 332.3,292.23 332.8,293 333.3,293.75 333.8,294.47 334.3,294.5 334.8,294.52 335.3,294.51 335.8,295.15 336.3,295.77 336.8,296.38 337.3,297.2 337.8,298.01 338.3,298.8 338.8,298.1 339.3,297.4 339.8,296.68 340.3,296.37 340.8,296.05 341.3,295.73 341.8,295.72 342.3,295.71 342.8,295.7 343.3,295.44 343.8,295.19 344.3,294.93 344.8,294.95 345.3,294.96 345.8,294.98 346.3,294.97 346.8,294.96 347.3,294.95" fill="none" stroke="#222" stroke-width="0.75" stroke-linejoin="round" stroke-linecap="round" />
<path d="M209.3,269.98 209.8,270.27 210.3,270.57 210.8,270.86 211.3,271.71 211.8,272.56 212.3,273.41 212.8,273.02 213.3,272.63 213.8,272.23 214.3,272.66 214.8,273.1 215.3,273.53 215.8,273.63 216.3,273.73 216.8,273.83 217.3,274.79 217.8,275.75 218.3,276.7 218.8,276.51 219.3,276.31 219.8,276.11 220.3,275.6 220.8,275.09 221.3,274.59 221.8,275.2 222.3,275.82 222.8,276.44 223.3,275.65 223.8,274.87 224.3,274.08 224.8,274.35 225.3,274.62 225.8,274.88 226.3,275.5 226.8,276.11 227.3,276.73 227.8,275.87 228.3,275.01 228.8,274.16 229.3,274.65 229.8,275.14 230.3,275.63 230.8,275.26 231.3,274.88 231.8,274.5 232.3,275.2 232.8,275.9 233.3,276.6 233.8,277.33 234.3,278.06 234.8,278.79 235.3,277.83 235.8,276.88 236.3,275.85 236.8,275.73 237.3,275.59 237.8,275.44 238.3,275.27 238.8,275.09 239.3,274.88 239.8,274.65 240.3,274.39 240.8,274.1 241.3,273.78 241.8,273.43 242.3,273.05 242.8,272.62 243.3,272.14 243.8,271.62 244.3,271.04 244.8,270.4 245.3,269.69 245.8,268.92 246.3,268.07 246.8,267.15 247.3,266.15 247.8,265.08 248.3,263.94 248.8,262.73 249.3,261.45 249.8,260.09 250.3,258.66 250.8,257.16 251.3,255.59 251.8,253.95 252.3,252.25 252.8,250.5 253.3,248.71 253.8,246.89 254.3,245.05 254.8,243.22 255.3,241.41 255.8,239.63 256.3,237.92 256.8,236.28 257.3,234.75 257.8,233.34 258.3,232.07 258.8,230.97 259.3,230.06 259.8,229.36 260.3,228.88 260.8,228.64 261.3,228.63 261.8,228.87 262.3,229.35 262.8,230.05 263.3,230.98 263.8,232.1 264.3,233.4 264.8,234.86 265.3,236.45 265.8,238.15 266.3,239.94 266.8,241.79 267.3,243.69 267.8,245.61 268.3,247.53 268.8,249.45 269.3,251.33 269.8,253.17 270.3,254.96 270.8,256.68 271.3,258.32 271.8,259.87 272.3,261.33 272.8,262.68 273.3,263.93 273.8,265.07 274.3,266.08 274.8,266.97 275.3,267.73 275.8,268.36 276.3,268.85 276.8,269.2 277.3,269.41 277.8,269.48 278.3,269.4 278.8,269.18 279.3,268.81 279.8,268.3 280.3,267.65 280.8,266.86 281.3,265.94 281.8,264.88 282.3,263.69 282.8,262.39 283.3,260.97 283.8,259.44 284.3,257.81 284.8,256.09 285.3,254.28 285.8,252.4 286.3,250.46 286.8,248.46 287.3,246.41 287.8,244.33 288.3,242.23 288.8,240.12 289.3,238.01 289.8,235.93 290.3,233.88 290.8,231.88 291.3,229.96 291.8,228.12 292.3,226.4 292.8,224.82 293.3,223.4 293.8,222.16 294.3,221.13 294.8,220.32 295.3,219.75 295.8,219.44 296.3,219.39 296.8,219.63 297.3,220.14 297.8,220.93 298.3,221.98 298.8,223.28 299.3,224.82 299.8,226.57 300.3,228.51 300.8,230.61 301.3,232.84 301.8,235.17 302.3,237.58 302.8,240.04 303.3,242.53 303.8,245.02 304.3,247.49 304.8,249.93 305.3,252.32 305.8,254.65 306.3,256.89 306.8,259.03 307.3,261.08 307.8,263.01 308.3,264.83 308.8,266.53 309.3,268.1 309.8,269.55 310.3,270.88 310.8,272.09 311.3,273.19 311.8,274.18 312.3,275.08 312.8,275.89 313.3,276.62 313.8,277.28 314.3,277.87 314.8,278.41 315.3,278.9 315.8,279.35 316.3,279.77 316.8,280.16 317.3,280.54 317.8,280.91 318.3,281.29 318.8,281.67 319.3,282.05 319.8,282.46 320.3,282.87 320.8,283.3 321.3,283.75 321.8,284.21 322.3,284.69 322.8,285.18 323.3,285.68 323.8,286.19 324.3,286.7 324.8,287.21 325.3,287.72 325.8,288.23 326.3,288.73 326.8,289.22 327.3,289.7 327.8,290.16 328.3,290.6 328.8,291.03 329.3,291.44 329.8,291.82 330.3,292.18 330.8,292.52 331.3,292.84 331.8,293.14 332.3,293.41 332.8,293.66 333.3,293.89 333.8,294.11 334.3,294.3 334.8,294.48 335.3,294.64 335.8,294.79 336.3,294.92 336.8,295.05 337.3,295.16 337.8,295.26 338.3,295.35 338.8,295.44 339.3,295.51 339.8,295.59 340.3,295.65 340.8,295.71 341.3,295.77 341.8,295.82 342.3,295.87 342.8,295.92 343.3,295.96 343.8,296.01 344.3,296.05 344.8,296.08 345.3,296.12 345.8,296.16 346.3,296.19 346.8,296.22 347.3,296.25" fill="none" stroke="#b040ff" stroke-width="1.0" stroke-linejoin="round" stroke-linecap="round" />
<line x1="314" y1="193.2" x2="325.7" y2="193.2" stroke="#222" stroke-width="0.9"/>
<text x="327.7" y="195.1" font-size="5.4" text-anchor="start" font-weight="normal" fill="#1a1a1a" >RAW data</text>
<line x1="314" y1="200.5" x2="325.7" y2="200.5" stroke="#3535ff" stroke-width="1.3"/>
<text x="327.7" y="202.4" font-size="5.4" text-anchor="start" font-weight="normal" fill="#1a1a1a" >Bi-met</text>
<line x1="314" y1="206.8" x2="325.7" y2="206.8" stroke="#7070ff" stroke-width="1.5"/>
<text x="327.7" y="208.7" font-size="5.4" text-anchor="start" font-weight="normal" fill="#1a1a1a" >Bi-met</text>
<line x1="314" y1="213.6" x2="325.7" y2="213.6" stroke="#ff4040" stroke-width="1.0"/>
<text x="327.7" y="215.5" font-size="5.4" text-anchor="start" font-weight="normal" fill="#1a1a1a" >Bi2O3</text>
<line x1="314" y1="220.2" x2="325.7" y2="220.2" stroke="#ff4040" stroke-width="1.0"/>
<text x="327.7" y="222.1" font-size="5.4" text-anchor="start" font-weight="normal" fill="#1a1a1a" >Bi2O3</text>
<line x1="314" y1="226.7" x2="325.7" y2="226.7" stroke="#20dd50" stroke-width="1.5"/>
<text x="327.7" y="228.6" font-size="5.4" text-anchor="start" font-weight="normal" fill="#1a1a1a" >Background</text>
<line x1="314" y1="233.6" x2="325.7" y2="233.6" stroke="#b050ff" stroke-width="1.3"/>
<text x="327.7" y="235.5" font-size="5.4" text-anchor="start" font-weight="normal" fill="#1a1a1a" >Envelope</text>
<line x1="395.3" y1="200.6" x2="395.3" y2="301.7" stroke="#5a5a5a" stroke-width="0.75"/>
<line x1="395" y1="301.3" x2="532.9" y2="301.3" stroke="#5a5a5a" stroke-width="0.75"/>
<line x1="394.2" y1="300.94" x2="395.3" y2="300.94" stroke="#5a5a5a" stroke-width="0.6"/>
<line x1="393.4" y1="286.6" x2="395.3" y2="286.6" stroke="#5a5a5a" stroke-width="0.6"/>
<text x="391.8" y="288.2" font-size="4.7" text-anchor="end" font-weight="bold" fill="#333" textLength="7.35" lengthAdjust="spacingAndGlyphs">400</text>
<line x1="394.2" y1="272.26" x2="395.3" y2="272.26" stroke="#5a5a5a" stroke-width="0.6"/>
<line x1="393.4" y1="257.92" x2="395.3" y2="257.92" stroke="#5a5a5a" stroke-width="0.6"/>
<text x="391.8" y="259.52" font-size="4.7" text-anchor="end" font-weight="bold" fill="#333" textLength="7.35" lengthAdjust="spacingAndGlyphs">600</text>
<line x1="394.2" y1="243.58" x2="395.3" y2="243.58" stroke="#5a5a5a" stroke-width="0.6"/>
<line x1="393.4" y1="229.24" x2="395.3" y2="229.24" stroke="#5a5a5a" stroke-width="0.6"/>
<text x="391.8" y="230.84" font-size="4.7" text-anchor="end" font-weight="bold" fill="#333" textLength="7.35" lengthAdjust="spacingAndGlyphs">800</text>
<line x1="394.2" y1="214.9" x2="395.3" y2="214.9" stroke="#5a5a5a" stroke-width="0.6"/>
<line x1="393.4" y1="200.56" x2="395.3" y2="200.56" stroke="#5a5a5a" stroke-width="0.6"/>
<text x="391.8" y="202.16" font-size="4.7" text-anchor="end" font-weight="bold" fill="#333" textLength="9.8" lengthAdjust="spacingAndGlyphs">1000</text>
<line x1="532.64" y1="301.3" x2="532.64" y2="303.2" stroke="#5a5a5a" stroke-width="0.6"/>
<text x="532.64" y="308.9" font-size="5.0" text-anchor="middle" font-weight="bold" fill="#333" textLength="7.35" lengthAdjust="spacingAndGlyphs">570</text>
<line x1="516.29" y1="301.3" x2="516.29" y2="302.4" stroke="#5a5a5a" stroke-width="0.6"/>
<line x1="499.94" y1="301.3" x2="499.94" y2="303.2" stroke="#5a5a5a" stroke-width="0.6"/>
<text x="499.94" y="308.9" font-size="5.0" text-anchor="middle" font-weight="bold" fill="#333" textLength="7.35" lengthAdjust="spacingAndGlyphs">575</text>
<line x1="483.59" y1="301.3" x2="483.59" y2="302.4" stroke="#5a5a5a" stroke-width="0.6"/>
<line x1="467.24" y1="301.3" x2="467.24" y2="303.2" stroke="#5a5a5a" stroke-width="0.6"/>
<text x="467.24" y="308.9" font-size="5.0" text-anchor="middle" font-weight="bold" fill="#333" textLength="7.35" lengthAdjust="spacingAndGlyphs">580</text>
<line x1="450.89" y1="301.3" x2="450.89" y2="302.4" stroke="#5a5a5a" stroke-width="0.6"/>
<line x1="434.54" y1="301.3" x2="434.54" y2="303.2" stroke="#5a5a5a" stroke-width="0.6"/>
<text x="434.54" y="308.9" font-size="5.0" text-anchor="middle" font-weight="bold" fill="#333" textLength="7.35" lengthAdjust="spacingAndGlyphs">585</text>
<line x1="418.19" y1="301.3" x2="418.19" y2="302.4" stroke="#5a5a5a" stroke-width="0.6"/>
<line x1="401.84" y1="301.3" x2="401.84" y2="303.2" stroke="#5a5a5a" stroke-width="0.6"/>
<text x="401.84" y="308.9" font-size="5.0" text-anchor="middle" font-weight="bold" fill="#333" textLength="7.35" lengthAdjust="spacingAndGlyphs">590</text>
<text x="464" y="317.5" font-size="5.8" text-anchor="middle" font-weight="bold" fill="#222" textLength="50.5" lengthAdjust="spacingAndGlyphs">Binding energy [eV]</text>
<text x="0" y="0" font-size="5.5" text-anchor="middle" font-weight="bold" fill="#222" textLength="37" lengthAdjust="spacingAndGlyphs" transform="translate(372.3,253.3) rotate(-90)">Intensity [a.u.]</text>
<text x="403" y="214.5" font-size="12.9" text-anchor="start" font-weight="bold" fill="#111" textLength="20.3" lengthAdjust="spacingAndGlyphs">(b<tspan font-size="8.4" dy="2.3">3</tspan><tspan dy="-2.3">)</tspan></text>
<path d="M395.6,271 396.1,271.01 396.6,271.01 397.1,271.02 397.6,271.03 398.1,271.05 398.6,271.06 399.1,271.07 399.6,271.09 400.1,271.1 400.6,271.12 401.1,271.14 401.6,271.17 402.1,271.2 402.6,271.23 403.1,271.27 403.6,271.3 404.1,271.35 404.6,271.39 405.1,271.44 405.6,271.49 406.1,271.54 406.6,271.59 407.1,271.65 407.6,271.71 408.1,271.77 408.6,271.83 409.1,271.89 409.6,271.95 410.1,272.02 410.6,272.08 411.1,272.15 411.6,272.21 412.1,272.28 412.6,272.35 413.1,272.41 413.6,272.48 414.1,272.55 414.6,272.63 415.1,272.71 415.6,272.79 416.1,272.87 416.6,272.95 417.1,273.04 417.6,273.13 418.1,273.23 418.6,273.32 419.1,273.42 419.6,273.52 420.1,273.63 420.6,273.73 421.1,273.84 421.6,273.95 422.1,274.06 422.6,274.17 423.1,274.29 423.6,274.41 424.1,274.53 424.6,274.65 425.1,274.77 425.6,274.9 426.1,275.03 426.6,275.16 427.1,275.31 427.6,275.46 428.1,275.63 428.6,275.8 429.1,275.97 429.6,276.15 430.1,276.32 430.6,276.5 431.1,276.68 431.6,276.85 432.1,277.02 432.6,277.18 433.1,277.33 433.6,277.48 434.1,277.63 434.6,277.78 435.1,277.94 435.6,278.09 436.1,278.23 436.6,278.38 437.1,278.53 437.6,278.67 438.1,278.8 438.6,278.94 439.1,279.07 439.6,279.19 440.1,279.31 440.6,279.42 441.1,279.52 441.6,279.62 442.1,279.72 442.6,279.81 443.1,279.9 443.6,279.99 444.1,280.08 444.6,280.17 445.1,280.25 445.6,280.33 446.1,280.41 446.6,280.49 447.1,280.57 447.6,280.64 448.1,280.71 448.6,280.78 449.1,280.85 449.6,280.92 450.1,280.98 450.6,281.05 451.1,281.11 451.6,281.18 452.1,281.24 452.6,281.3 453.1,281.36 453.6,281.41 454.1,281.47 454.6,281.53 455.1,281.58 455.6,281.64 456.1,281.69 456.6,281.74 457.1,281.79 457.6,281.84 458.1,281.89 458.6,281.94 459.1,281.98 459.6,282.03 460.1,282.07 460.6,282.12 461.1,282.16 461.6,282.2 462.1,282.24 462.6,282.28 463.1,282.32 463.6,282.36 464.1,282.4 464.6,282.43 465.1,282.46 465.6,282.5 466.1,282.53 466.6,282.56 467.1,282.59 467.6,282.62 468.1,282.65 468.6,282.67 469.1,282.7 469.6,282.73 470.1,282.76 470.6,282.79 471.1,282.82 471.6,282.85 472.1,282.89 472.6,282.92 473.1,282.96 473.6,282.99 474.1,283.03 474.6,283.07 475.1,283.1 475.6,283.14 476.1,283.18 476.6,283.21 477.1,283.25 477.6,283.3 478.1,283.34 478.6,283.39 479.1,283.44 479.6,283.49 480.1,283.55 480.6,283.61 481.1,283.69 481.6,283.78 482.1,283.88 482.6,283.99 483.1,284.12 483.6,284.25 484.1,284.39 484.6,284.54 485.1,284.7 485.6,284.86 486.1,285.02 486.6,285.19 487.1,285.36 487.6,285.53 488.1,285.69 488.6,285.86 489.1,286.02 489.6,286.18 490.1,286.34 490.6,286.49 491.1,286.63 491.6,286.77 492.1,286.9 492.6,287.04 493.1,287.18 493.6,287.31 494.1,287.45 494.6,287.58 495.1,287.71 495.6,287.85 496.1,287.98 496.6,288.11 497.1,288.25 497.6,288.38 498.1,288.51 498.6,288.65 499.1,288.78 499.6,288.92 500.1,289.05 500.6,289.18 501.1,289.32 501.6,289.45 502.1,289.59 502.6,289.74 503.1,289.88 503.6,290.03 504.1,290.17 504.6,290.32 505.1,290.46 505.6,290.6 506.1,290.74 506.6,290.87 507.1,290.99 507.6,291.11 508.1,291.22 508.6,291.33 509.1,291.44 509.6,291.54 510.1,291.65 510.6,291.75 511.1,291.86 511.6,291.96 512.1,292.06 512.6,292.16 513.1,292.26 513.6,292.36 514.1,292.45 514.6,292.54 515.1,292.63 515.6,292.72 516.1,292.8 516.6,292.88 517.1,292.95 517.6,293.03 518.1,293.09 518.6,293.16 519.1,293.22 519.6,293.27 520.1,293.32 520.6,293.37 521.1,293.41 521.6,293.45 522.1,293.48 522.6,293.52 523.1,293.56 523.6,293.59 524.1,293.63 524.6,293.66 525.1,293.7 525.6,293.73 526.1,293.76 526.6,293.79 527.1,293.82 527.6,293.85 528.1,293.87 528.6,293.9 529.1,293.92 529.6,293.94 530.1,293.95 530.6,293.97 531.1,293.98 531.6,293.99 532.1,294" fill="none" stroke="#18e040" stroke-width="1.3" stroke-linejoin="round" stroke-linecap="round" />
<path d="M397.1,270.97 397.6,270.96 398.1,270.95 398.6,270.93 399.1,270.91 399.6,270.88 400.1,270.84 400.6,270.78 401.1,270.71 401.6,270.63 402.1,270.52 402.6,270.39 403.1,270.23 403.6,270.03 404.1,269.78 404.6,269.49 405.1,269.14 405.6,268.73 406.1,268.25 406.6,267.69 407.1,267.05 407.6,266.31 408.1,265.48 408.6,264.54 409.1,263.49 409.6,262.33 410.1,261.07 410.6,259.69 411.1,258.2 411.6,256.62 412.1,254.94 412.6,253.18 413.1,251.36 413.6,249.48 414.1,247.58 414.6,245.67 415.1,243.78 415.6,241.93 416.1,240.15 416.6,238.47 417.1,236.9 417.6,235.49 418.1,234.24 418.6,233.19 419.1,232.35 419.6,231.74 420.1,231.37 420.6,231.25 421.1,231.38 421.6,231.75 422.1,232.35 422.6,233.18 423.1,234.22 423.6,235.45 424.1,236.87 424.6,238.45 425.1,240.16 425.6,241.99 426.1,243.92 426.6,245.91 427.1,247.96 427.6,250.03 428.1,252.11 428.6,254.17 429.1,256.2 429.6,258.16 430.1,260.06 430.6,261.87 431.1,263.59 431.6,265.21 432.1,266.72 432.6,268.12 433.1,269.41 433.6,270.59 434.1,271.67 434.6,272.66 435.1,273.55 435.6,274.35 436.1,275.08 436.6,275.73 437.1,276.3 437.6,276.82 438.1,277.27 438.6,277.68 439.1,278.04 439.6,278.35 440.1,278.63 440.6,278.87 441.1,279.08 441.6,279.27 442.1,279.44 442.6,279.59 443.1,279.73 443.6,279.86 444.1,279.98 444.6,280.09 445.1,280.19" fill="none" stroke="#4040ff" stroke-width="1.0" stroke-linejoin="round" stroke-linecap="round" />
<path d="M419.6,273.46 420.1,273.55 420.6,273.63 421.1,273.71 421.6,273.79 422.1,273.85 422.6,273.92 423.1,273.97 423.6,274 424.1,274.03 424.6,274.03 425.1,274.02 425.6,273.98 426.1,273.91 426.6,273.82 427.1,273.71 427.6,273.56 428.1,273.38 428.6,273.15 429.1,272.87 429.6,272.54 430.1,272.16 430.6,271.71 431.1,271.2 431.6,270.63 432.1,269.98 432.6,269.27 433.1,268.5 433.6,267.67 434.1,266.79 434.6,265.87 435.1,264.92 435.6,263.95 436.1,262.97 436.6,261.99 437.1,261.03 437.6,260.09 438.1,259.19 438.6,258.35 439.1,257.58 439.6,256.9 440.1,256.3 440.6,255.82 441.1,255.45 441.6,255.2 442.1,255.09 442.6,255.11 443.1,255.26 443.6,255.52 444.1,255.89 444.6,256.37 445.1,256.94 445.6,257.61 446.1,258.36 446.6,259.19 447.1,260.09 447.6,261.05 448.1,262.05 448.6,263.09 449.1,264.15 449.6,265.23 450.1,266.32 450.6,267.4 451.1,268.47 451.6,269.51 452.1,270.53 452.6,271.52 453.1,272.46 453.6,273.36 454.1,274.22 454.6,275.02 455.1,275.77 455.6,276.47 456.1,277.12 456.6,277.72 457.1,278.27 457.6,278.77 458.1,279.22 458.6,279.63 459.1,280 459.6,280.33 460.1,280.63 460.6,280.89 461.1,281.12 461.6,281.33 462.1,281.52 462.6,281.68 463.1,281.82 463.6,281.94 464.1,282.05 464.6,282.15 465.1,282.24 465.6,282.31 466.1,282.38 466.6,282.44 467.1,282.49 467.6,282.54 468.1,282.59" fill="none" stroke="#ff3030" stroke-width="1.0" stroke-linejoin="round" stroke-linecap="round" />
<path d="M464.1,282.33 464.6,282.34 465.1,282.35 465.6,282.35 466.1,282.34 466.6,282.31 467.1,282.27 467.6,282.22 468.1,282.14 468.6,282.03 469.1,281.9 469.6,281.73 470.1,281.52 470.6,281.27 471.1,280.95 471.6,280.58 472.1,280.13 472.6,279.6 473.1,278.97 473.6,278.25 474.1,277.41 474.6,276.45 475.1,275.35 475.6,274.11 476.1,272.72 476.6,271.18 477.1,269.47 477.6,267.6 478.1,265.57 478.6,263.37 479.1,261.03 479.6,258.54 480.1,255.93 480.6,253.2 481.1,250.4 481.6,247.54 482.1,244.65 482.6,241.76 483.1,238.91 483.6,236.13 484.1,233.46 484.6,230.94 485.1,228.59 485.6,226.47 486.1,224.59 486.6,223 487.1,221.72 487.6,220.77 488.1,220.17 488.6,219.93 489.1,220.06 489.6,220.64 490.1,221.67 490.6,223.13 491.1,225 491.6,227.23 492.1,229.8 492.6,232.66 493.1,235.75 493.6,239.02 494.1,242.42 494.6,245.9 495.1,249.4 495.6,252.87 496.1,256.28 496.6,259.58 497.1,262.75 497.6,265.76 498.1,268.58 498.6,271.21 499.1,273.63 499.6,275.85 500.1,277.86 500.6,279.67 501.1,281.28 501.6,282.71 502.1,283.98 502.6,285.1 503.1,286.07 503.6,286.92 504.1,287.66 504.6,288.3 505.1,288.85 505.6,289.32 506.1,289.73 506.6,290.08 507.1,290.38 507.6,290.64 508.1,290.86 508.6,291.06 509.1,291.23 509.6,291.39 510.1,291.53 510.6,291.67 511.1,291.8" fill="none" stroke="#3030ff" stroke-width="1.0" stroke-linejoin="round" stroke-linecap="round" />
<path d="M486.1,284.97 486.6,285.12 487.1,285.27 487.6,285.42 488.1,285.56 488.6,285.69 489.1,285.81 489.6,285.91 490.1,286 490.6,286.07 491.1,286.11 491.6,286.13 492.1,286.12 492.6,286.09 493.1,286.02 493.6,285.92 494.1,285.78 494.6,285.6 495.1,285.36 495.6,285.07 496.1,284.73 496.6,284.31 497.1,283.83 497.6,283.27 498.1,282.64 498.6,281.92 499.1,281.12 499.6,280.24 500.1,279.27 500.6,278.22 501.1,277.08 501.6,275.87 502.1,274.6 502.6,273.26 503.1,271.87 503.6,270.43 504.1,268.97 504.6,267.49 505.1,266.01 505.6,264.54 506.1,263.11 506.6,261.72 507.1,260.4 507.6,259.17 508.1,258.03 508.6,257.02 509.1,256.15 509.6,255.44 510.1,254.9 510.6,254.53 511.1,254.35 511.6,254.36 512.1,254.54 512.6,254.87 513.1,255.34 513.6,255.96 514.1,256.71 514.6,257.59 515.1,258.58 515.6,259.69 516.1,260.89 516.6,262.17 517.1,263.53 517.6,264.94 518.1,266.39 518.6,267.88 519.1,269.38 519.6,270.88 520.1,272.38 520.6,273.86 521.1,275.31 521.6,276.72 522.1,278.09 522.6,279.41 523.1,280.68 523.6,281.88 524.1,283.03 524.6,284.1 525.1,285.11 525.6,286.05 526.1,286.92 526.6,287.72 527.1,288.45 527.6,289.12 528.1,289.73 528.6,290.28 529.1,290.77 529.6,291.21 530.1,291.6 530.6,291.95 531.1,292.25 531.6,292.52 532.1,292.75" fill="none" stroke="#ff3030" stroke-width="1.0" stroke-linejoin="round" stroke-linecap="round" />
<path d="M395.6,272.02 396.1,271.48 396.6,270.95 397.1,270.41 397.6,270.5 398.1,270.58 398.6,270.66 399.1,270.16 399.6,269.65 400.1,269.13 400.6,270.41 401.1,271.68 401.6,272.93 402.1,272.29 402.6,271.63 403.1,270.94 403.6,271.33 404.1,271.69 404.6,272 405.1,271.19 405.6,270.31 406.1,269.37 406.6,269.13 407.1,268.81 407.6,268.4 408.1,266.75 408.6,265 409.1,263.14 409.6,262.44 410.1,261.62 410.6,260.69 411.1,260.13 411.6,259.48 412.1,258.73 412.6,255.13 413.1,251.48 413.6,247.77 414.1,246.98 414.6,246.2 415.1,245.42 415.6,243.82 416.1,242.28 416.6,240.83 417.1,238.67 417.6,236.65 418.1,234.81 418.6,233.91 419.1,233.22 419.6,231.68 420.1,230.09 420.6,228.5 421.1,227.55 421.6,226.6 422.1,228.05 422.6,229.5 423.1,231.75 423.6,234 424.1,236.95 424.6,237.81 425.1,238.78 425.6,239.83 426.1,241.65 426.6,243.52 427.1,245.39 427.6,247.19 428.1,248.95 428.6,250.64 429.1,252.44 429.6,254.13 430.1,255.69 430.6,257.02 431.1,258.19 431.6,259.2 432.1,260.05 432.6,260.72 433.1,261.23 433.6,260.53 434.1,259.69 434.6,258.71 435.1,260.13 435.6,261.44 436.1,262.65 436.6,261.78 437.1,260.85 437.6,259.9 438.1,259.11 438.6,258.34 439.1,257.59 439.6,256.58 440.1,255.63 440.6,257.5 441.1,256.04 441.6,254.58 442.1,253.4 442.6,252.4 443.1,252.9 443.6,254.4 444.1,255.63 444.6,256.67 445.1,257.47 445.6,257.15 446.1,256.92 446.6,256.76 447.1,258.82 447.6,260.94 448.1,263.1 448.6,265.18 449.1,267.29 449.6,269.41 450.1,268.22 450.6,267.02 451.1,265.81 451.6,268.22 452.1,270.6 452.6,272.94 453.1,273.59 453.6,274.19 454.1,274.75 454.6,275.32 455.1,275.84 455.6,276.31 456.1,277.67 456.6,278.98 457.1,280.24 457.6,279.51 458.1,278.74 458.6,277.93 459.1,278.94 459.6,279.92 460.1,280.86 460.6,281.74 461.1,282.59 461.6,283.42 462.1,282.8 462.6,282.16 463.1,281.5 463.6,281.51 464.1,281.49 464.6,281.46 465.1,282.42 465.6,282.52 466.1,282.43 466.6,281.56 467.1,280.7 467.6,279.84 468.1,278.97 468.6,279.48 469.1,280.32 469.6,281.16 470.1,280.53 470.6,278.91 471.1,277.29 471.6,276.41 472.1,278.48 472.6,280.54 473.1,282.6 473.6,283.33 474.1,284.05 474.6,283.05 475.1,281.61 475.6,280.16 476.1,272.94 476.6,271.03 477.1,268.13 477.6,265.07 478.1,261.85 478.6,260.89 479.1,259.78 479.6,258.53 480.1,255.41 480.6,252.17 481.1,248.86 481.6,246.29 482.1,243.7 482.6,241.11 483.1,239.21 483.6,237.38 484.1,235.66 484.6,231.85 485.1,228.23 485.6,224.82 486.1,222.96 486.6,221.38 487.1,220.11 487.6,220.34 488.1,220.91 488.6,221.83 489.1,221.28 489.6,221.17 490.1,221.5 490.6,223.56 491.1,226.01 491.6,228.81 492.1,230.66 492.6,232.76 493.1,235.06 493.6,237.52 494.1,240.07 494.6,242.65 495.1,246.17 495.6,249.61 496.1,252.93 496.6,256.31 497.1,259.48 497.6,262.42 498.1,264.34 498.6,265.98 499.1,267.33 499.6,268.08 500.1,268.53 500.6,268.7 501.1,269.07 501.6,269.18 502.1,269.05 502.6,268.61 503.1,267.97 503.6,267.17 504.1,266.07 504.6,264.86 505.1,263.56 505.6,263.64 506.1,263.68 506.6,263.72 507.1,261.65 507.6,259.63 508.1,257.68 508.6,256.21 509.1,254.87 509.6,255.73 510.1,254.36 510.6,253 511.1,251.89 511.6,251.28 512.1,252.67 512.6,254.05 513.1,255.41 513.6,256.91 514.1,257.62 514.6,258.13 515.1,258.75 515.6,259.49 516.1,260.43 516.6,261.46 517.1,262.56 517.6,264.31 518.1,266.09 518.6,267.91 519.1,268.6 519.6,269.29 520.1,269.97 520.6,271.63 521.1,273.26 521.6,274.85 522.1,277.23 522.6,279.55 523.1,281.83 523.6,282.42 524.1,282.95 524.6,283.41 525.1,284.83 525.6,286.18 526.1,287.46 526.6,288.66 527.1,289.8 527.6,290.87 528.1,291.21 528.6,291.49 529.1,291.71 529.6,291.84 530.1,291.93 530.6,291.98 531.1,293.29 531.6,294.57 532.1,295.81" fill="none" stroke="#333" stroke-width="0.75" stroke-linejoin="round" stroke-linecap="round" />
<path d="M395.6,270.98 396.1,270.98 396.6,270.97 397.1,270.97 397.6,270.96 398.1,270.95 398.6,270.93 399.1,270.91 399.6,270.88 400.1,270.84 400.6,270.78 401.1,270.71 401.6,270.63 402.1,270.52 402.6,270.39 403.1,270.23 403.6,270.03 404.1,269.78 404.6,269.49 405.1,269.14 405.6,268.73 406.1,268.25 406.6,267.69 407.1,267.05 407.6,266.31 408.1,265.48 408.6,264.54 409.1,263.49 409.6,262.33 410.1,261.07 410.6,259.69 411.1,258.2 411.6,256.62 412.1,254.94 412.6,253.18 413.1,251.35 413.6,249.48 414.1,247.58 414.6,245.67 415.1,243.78 415.6,241.93 416.1,240.14 416.6,238.46 417.1,236.89 417.6,235.47 418.1,234.22 418.6,233.16 419.1,232.31 419.6,231.68 420.1,231.29 420.6,231.15 421.1,231.25 421.6,231.59 422.1,232.15 422.6,232.92 423.1,233.89 423.6,235.05 424.1,236.37 424.6,237.83 425.1,239.41 425.6,241.08 426.1,242.81 426.6,244.57 427.1,246.36 427.6,248.13 428.1,249.86 428.6,251.52 429.1,253.1 429.6,254.56 430.1,255.9 430.6,257.09 431.1,258.12 431.6,258.99 432.1,259.69 432.6,260.22 433.1,260.58 433.6,260.78 434.1,260.83 434.6,260.74 435.1,260.54 435.6,260.22 436.1,259.81 436.6,259.34 437.1,258.8 437.6,258.24 438.1,257.66 438.6,257.09 439.1,256.55 439.6,256.06 440.1,255.62 440.6,255.27 441.1,255.01 441.6,254.85 442.1,254.81 442.6,254.89 443.1,255.09 443.6,255.39 444.1,255.79 444.6,256.29 445.1,256.88 445.6,257.56 446.1,258.33 446.6,259.17 447.1,260.07 447.6,261.03 448.1,262.04 448.6,263.08 449.1,264.15 449.6,265.23 450.1,266.31 450.6,267.4 451.1,268.46 451.6,269.51 452.1,270.53 452.6,271.52 453.1,272.46 453.6,273.36 454.1,274.22 454.6,275.02 455.1,275.77 455.6,276.47 456.1,277.12 456.6,277.72 457.1,278.27 457.6,278.77 458.1,279.22 458.6,279.63 459.1,280 459.6,280.33 460.1,280.62 460.6,280.88 461.1,281.11 461.6,281.32 462.1,281.49 462.6,281.65 463.1,281.78 463.6,281.9 464.1,281.99 464.6,282.07 465.1,282.12 465.6,282.16 466.1,282.19 466.6,282.19 467.1,282.18 467.6,282.14 468.1,282.08 468.6,281.99 469.1,281.86 469.6,281.7 470.1,281.5 470.6,281.25 471.1,280.94 471.6,280.57 472.1,280.12 472.6,279.59 473.1,278.97 473.6,278.25 474.1,277.41 474.6,276.45 475.1,275.35 475.6,274.11 476.1,272.72 476.6,271.18 477.1,269.47 477.6,267.6 478.1,265.57 478.6,263.37 479.1,261.03 479.6,258.54 480.1,255.93 480.6,253.2 481.1,250.39 481.6,247.53 482.1,244.64 482.6,241.75 483.1,238.9 483.6,236.12 484.1,233.44 484.6,230.91 485.1,228.56 485.6,226.43 486.1,224.54 486.6,222.94 487.1,221.64 487.6,220.66 488.1,220.03 488.6,219.76 489.1,219.84 489.6,220.37 490.1,221.33 490.6,222.71 491.1,224.47 491.6,226.59 492.1,229.02 492.6,231.71 493.1,234.6 493.6,237.64 494.1,240.76 494.6,243.92 495.1,247.05 495.6,250.1 496.1,253.03 496.6,255.78 497.1,258.33 497.6,260.65 498.1,262.71 498.6,264.48 499.1,265.97 499.6,267.17 500.1,268.08 500.6,268.7 501.1,269.05 501.6,269.13 502.1,268.98 502.6,268.62 503.1,268.06 503.6,267.33 504.1,266.46 504.6,265.47 505.1,264.4 505.6,263.26 506.1,262.1 506.6,260.94 507.1,259.79 507.6,258.7 508.1,257.67 508.6,256.75 509.1,255.95 509.6,255.29 510.1,254.79 510.6,254.45 511.1,254.29 511.6,254.32 512.1,254.51 512.6,254.84 513.1,255.32 513.6,255.94 514.1,256.7 514.6,257.58 515.1,258.58 515.6,259.68 516.1,260.89 516.6,262.17 517.1,263.53 517.6,264.94 518.1,266.39 518.6,267.88 519.1,269.38 519.6,270.88 520.1,272.38 520.6,273.86 521.1,275.31 521.6,276.72 522.1,278.09 522.6,279.41 523.1,280.68 523.6,281.88 524.1,283.03 524.6,284.1 525.1,285.11 525.6,286.05 526.1,286.92 526.6,287.72 527.1,288.45 527.6,289.12 528.1,289.73 528.6,290.28 529.1,290.77 529.6,291.21 530.1,291.6 530.6,291.95 531.1,292.25 531.6,292.52 532.1,292.75" fill="none" stroke="#b050ff" stroke-width="1.0" stroke-linejoin="round" stroke-linecap="round" />
<line x1="499.6" y1="192.9" x2="511.6" y2="192.9" stroke="#555" stroke-width="1.2"/>
<text x="513.2" y="194.8" font-size="5.4" text-anchor="start" font-weight="normal" fill="#1a1a1a" >RAW data</text>
<line x1="499.6" y1="199.5" x2="511.6" y2="199.5" stroke="#ff4040" stroke-width="0.9"/>
<text x="513.2" y="201.4" font-size="5.4" text-anchor="start" font-weight="normal" fill="#1a1a1a" >Te-met</text>
<line x1="499.6" y1="206.4" x2="511.6" y2="206.4" stroke="#ff4040" stroke-width="0.9"/>
<text x="513.2" y="208.3" font-size="5.4" text-anchor="start" font-weight="normal" fill="#1a1a1a" >Te-met</text>
<line x1="499.6" y1="213" x2="511.6" y2="213" stroke="#6a6aff" stroke-width="1.4"/>
<text x="513.2" y="214.9" font-size="5.4" text-anchor="start" font-weight="normal" fill="#1a1a1a" >TeO2</text>
<line x1="499.6" y1="219.7" x2="511.6" y2="219.7" stroke="#4040ff" stroke-width="1.1"/>
<text x="513.2" y="221.6" font-size="5.4" text-anchor="start" font-weight="normal" fill="#1a1a1a" >TeO2</text>
<line x1="499.6" y1="226.3" x2="511.6" y2="226.3" stroke="#20dd40" stroke-width="1.1"/>
<text x="513.2" y="228.2" font-size="5.4" text-anchor="start" font-weight="normal" fill="#1a1a1a" >Background</text>
<line x1="499.6" y1="232.8" x2="511.6" y2="232.8" stroke="#c070ff" stroke-width="1.4"/>
<text x="513.2" y="234.7" font-size="5.4" text-anchor="start" font-weight="normal" fill="#1a1a1a" >Envelope</text>
<line x1="30.4" y1="336.5" x2="30.4" y2="437.4" stroke="#5a5a5a" stroke-width="0.75"/>
<line x1="30.1" y1="437" x2="168.4" y2="437" stroke="#5a5a5a" stroke-width="0.75"/>
<line x1="28.5" y1="437" x2="30.4" y2="437" stroke="#5a5a5a" stroke-width="0.6"/>
<text x="26.9" y="438.6" font-size="4.7" text-anchor="end" font-weight="bold" fill="#333" textLength="7.35" lengthAdjust="spacingAndGlyphs">300</text>
<line x1="29.3" y1="424.44" x2="30.4" y2="424.44" stroke="#5a5a5a" stroke-width="0.6"/>
<line x1="28.5" y1="411.88" x2="30.4" y2="411.88" stroke="#5a5a5a" stroke-width="0.6"/>
<text x="26.9" y="413.48" font-size="4.7" text-anchor="end" font-weight="bold" fill="#333" textLength="7.35" lengthAdjust="spacingAndGlyphs">350</text>
<line x1="29.3" y1="399.31" x2="30.4" y2="399.31" stroke="#5a5a5a" stroke-width="0.6"/>
<line x1="28.5" y1="386.75" x2="30.4" y2="386.75" stroke="#5a5a5a" stroke-width="0.6"/>
<text x="26.9" y="388.35" font-size="4.7" text-anchor="end" font-weight="bold" fill="#333" textLength="7.35" lengthAdjust="spacingAndGlyphs">400</text>
<line x1="29.3" y1="374.19" x2="30.4" y2="374.19" stroke="#5a5a5a" stroke-width="0.6"/>
<line x1="28.5" y1="361.62" x2="30.4" y2="361.62" stroke="#5a5a5a" stroke-width="0.6"/>
<text x="26.9" y="363.23" font-size="4.7" text-anchor="end" font-weight="bold" fill="#333" textLength="7.35" lengthAdjust="spacingAndGlyphs">450</text>
<line x1="29.3" y1="349.06" x2="30.4" y2="349.06" stroke="#5a5a5a" stroke-width="0.6"/>
<line x1="28.5" y1="336.5" x2="30.4" y2="336.5" stroke="#5a5a5a" stroke-width="0.6"/>
<text x="26.9" y="338.1" font-size="4.7" text-anchor="end" font-weight="bold" fill="#333" textLength="7.35" lengthAdjust="spacingAndGlyphs">500</text>
<line x1="168.2" y1="437" x2="168.2" y2="438.9" stroke="#5a5a5a" stroke-width="0.6"/>
<text x="168.2" y="444.6" font-size="5.0" text-anchor="middle" font-weight="bold" fill="#333" textLength="7.35" lengthAdjust="spacingAndGlyphs">280</text>
<line x1="157.6" y1="437" x2="157.6" y2="438.1" stroke="#5a5a5a" stroke-width="0.6"/>
<line x1="147" y1="437" x2="147" y2="438.9" stroke="#5a5a5a" stroke-width="0.6"/>
<text x="147" y="444.6" font-size="5.0" text-anchor="middle" font-weight="bold" fill="#333" textLength="7.35" lengthAdjust="spacingAndGlyphs">282</text>
<line x1="136.4" y1="437" x2="136.4" y2="438.1" stroke="#5a5a5a" stroke-width="0.6"/>
<line x1="125.8" y1="437" x2="125.8" y2="438.9" stroke="#5a5a5a" stroke-width="0.6"/>
<text x="125.8" y="444.6" font-size="5.0" text-anchor="middle" font-weight="bold" fill="#333" textLength="7.35" lengthAdjust="spacingAndGlyphs">284</text>
<line x1="115.2" y1="437" x2="115.2" y2="438.1" stroke="#5a5a5a" stroke-width="0.6"/>
<line x1="104.6" y1="437" x2="104.6" y2="438.9" stroke="#5a5a5a" stroke-width="0.6"/>
<text x="104.6" y="444.6" font-size="5.0" text-anchor="middle" font-weight="bold" fill="#333" textLength="7.35" lengthAdjust="spacingAndGlyphs">286</text>
<line x1="94" y1="437" x2="94" y2="438.1" stroke="#5a5a5a" stroke-width="0.6"/>
<line x1="83.4" y1="437" x2="83.4" y2="438.9" stroke="#5a5a5a" stroke-width="0.6"/>
<text x="83.4" y="444.6" font-size="5.0" text-anchor="middle" font-weight="bold" fill="#333" textLength="7.35" lengthAdjust="spacingAndGlyphs">288</text>
<line x1="72.8" y1="437" x2="72.8" y2="438.1" stroke="#5a5a5a" stroke-width="0.6"/>
<line x1="62.2" y1="437" x2="62.2" y2="438.9" stroke="#5a5a5a" stroke-width="0.6"/>
<text x="62.2" y="444.6" font-size="5.0" text-anchor="middle" font-weight="bold" fill="#333" textLength="7.35" lengthAdjust="spacingAndGlyphs">290</text>
<line x1="51.6" y1="437" x2="51.6" y2="438.1" stroke="#5a5a5a" stroke-width="0.6"/>
<line x1="41" y1="437" x2="41" y2="438.9" stroke="#5a5a5a" stroke-width="0.6"/>
<text x="41" y="444.6" font-size="5.0" text-anchor="middle" font-weight="bold" fill="#333" textLength="7.35" lengthAdjust="spacingAndGlyphs">292</text>
<line x1="30.4" y1="437" x2="30.4" y2="438.1" stroke="#5a5a5a" stroke-width="0.6"/>
<text x="99.3" y="453.2" font-size="5.8" text-anchor="middle" font-weight="bold" fill="#222" textLength="50.5" lengthAdjust="spacingAndGlyphs">Binding energy [eV]</text>
<text x="0" y="0" font-size="5.5" text-anchor="middle" font-weight="bold" fill="#222" textLength="37" lengthAdjust="spacingAndGlyphs" transform="translate(10.9,396.5) rotate(-90)">Intensity [a.u.]</text>
<text x="36.9" y="352.9" font-size="12.9" text-anchor="start" font-weight="bold" fill="#111" textLength="19" lengthAdjust="spacingAndGlyphs">(c<tspan font-size="8.4" dy="2.3">1</tspan><tspan dy="-2.3">)</tspan></text>
<path d="M56.2,426.49 56.7,426.49 57.2,426.49 57.7,426.48 58.2,426.47 58.7,426.46 59.2,426.45 59.7,426.43 60.2,426.41 60.7,426.38 61.2,426.36 61.7,426.32 62.2,426.28 62.7,426.24 63.2,426.19 63.7,426.13 64.2,426.06 64.7,425.98 65.2,425.89 65.7,425.79 66.2,425.68 66.7,425.55 67.2,425.4 67.7,425.24 68.2,425.06 68.7,424.86 69.2,424.64 69.7,424.39 70.2,424.12 70.7,423.82 71.2,423.49 71.7,423.12 72.2,422.72 72.7,422.29 73.2,421.81 73.7,421.29 74.2,420.73 74.7,420.12 75.2,419.47 75.7,418.76 76.2,418 76.7,417.19 77.2,416.32 77.7,415.39 78.2,414.4 78.7,413.35 79.2,412.23 79.7,411.06 80.2,409.81 80.7,408.51 81.2,407.14 81.7,405.71 82.2,404.22 82.7,402.66 83.2,401.05 83.7,399.37 84.2,397.65 84.7,395.87 85.2,394.05 85.7,392.18 86.2,390.28 86.7,388.34 87.2,386.38 87.7,384.4 88.2,382.4 88.7,380.39 89.2,378.38 89.7,376.39 90.2,374.4 90.7,372.44 91.2,370.52 91.7,368.63 92.2,366.8 92.7,365.02 93.2,363.3 93.7,361.66 94.2,360.11 94.7,358.64 95.2,357.28 95.7,356.01 96.2,354.86 96.7,353.83 97.2,352.93 97.7,352.15 98.2,351.5 98.7,350.99 99.2,350.62 99.7,350.39 100.2,350.31 100.7,350.37 101.2,350.57 101.7,350.92 102.2,351.41 102.7,352.03 103.2,352.79 103.7,353.69 104.2,354.71 104.7,355.84 105.2,357.1 105.7,358.46 106.2,359.92 106.7,361.48 107.2,363.12 107.7,364.84 108.2,366.63 108.7,368.48 109.2,370.38 109.7,372.33 110.2,374.31 110.7,376.31 111.2,378.34 111.7,380.38 112.2,382.42 112.7,384.45 113.2,386.47 113.7,388.47 114.2,390.45 114.7,392.4 115.2,394.31 115.7,396.17 116.2,398 116.7,399.77 117.2,401.49 117.7,403.15 118.2,404.76 118.7,406.3 119.2,407.79 119.7,409.21 120.2,410.57 120.7,411.86 121.2,413.09 121.7,414.25 122.2,415.35 122.7,416.39 123.2,417.37 123.7,418.29 124.2,419.15 124.7,419.96 125.2,420.71 125.7,421.41 126.2,422.06 126.7,422.66 127.2,423.22 127.7,423.73 128.2,424.21 128.7,424.64 129.2,425.04 129.7,425.41 130.2,425.74 130.7,426.05 131.2,426.32 131.7,426.58 132.2,426.8 132.7,427.01 133.2,427.2 133.7,427.36 134.2,427.51 134.7,427.65 135.2,427.77 135.7,427.88 136.2,427.98 136.7,428.06 137.2,428.14 137.7,428.21 138.2,428.27 138.7,428.33 139.2,428.38 139.7,428.42 140.2,428.46 140.7,428.5 141.2,428.53 141.7,428.56 142.2,428.58 142.7,428.61 143.2,428.63 143.7,428.64 144.2,428.66 144.7,428.68" fill="none" stroke="#a8a8a8" stroke-width="1.0" stroke-linejoin="round" stroke-linecap="round" />
<path d="M89.2,427.15 89.7,427.15 90.2,427.15 90.7,427.15 91.2,427.14 91.7,427.13 92.2,427.12 92.7,427.1 93.2,427.08 93.7,427.06 94.2,427.03 94.7,426.99 95.2,426.94 95.7,426.89 96.2,426.83 96.7,426.76 97.2,426.68 97.7,426.59 98.2,426.49 98.7,426.38 99.2,426.26 99.7,426.12 100.2,425.97 100.7,425.81 101.2,425.63 101.7,425.44 102.2,425.24 102.7,425.03 103.2,424.81 103.7,424.57 104.2,424.33 104.7,424.07 105.2,423.81 105.7,423.54 106.2,423.27 106.7,422.99 107.2,422.72 107.7,422.45 108.2,422.18 108.7,421.92 109.2,421.67 109.7,421.43 110.2,421.2 110.7,421 111.2,420.81 111.7,420.64 112.2,420.5 112.7,420.38 113.2,420.29 113.7,420.23 114.2,420.2 114.7,420.19 115.2,420.22 115.7,420.27 116.2,420.36 116.7,420.47 117.2,420.61 117.7,420.78 118.2,420.97 118.7,421.18 119.2,421.42 119.7,421.67 120.2,421.94 120.7,422.23 121.2,422.52 121.7,422.82 122.2,423.13 122.7,423.44 123.2,423.75 123.7,424.06 124.2,424.36 124.7,424.66 125.2,424.96 125.7,425.24 126.2,425.51 126.7,425.77 127.2,426.02 127.7,426.26 128.2,426.48 128.7,426.69 129.2,426.89 129.7,427.07 130.2,427.24 130.7,427.39 131.2,427.54 131.7,427.67 132.2,427.78 132.7,427.89 133.2,427.99 133.7,428.07 134.2,428.15 134.7,428.22 135.2,428.28 135.7,428.33 136.2,428.38 136.7,428.42 137.2,428.46 137.7,428.5 138.2,428.53 138.7,428.55 139.2,428.57 139.7,428.6 140.2,428.61" fill="none" stroke="#ff33ff" stroke-width="1.0" stroke-linejoin="round" stroke-linecap="round" />
<path d="M39.7,426.31 40.2,426.31 40.7,426.31 41.2,426.31 41.7,426.3 42.2,426.3 42.7,426.29 43.2,426.29 43.7,426.28 44.2,426.27 44.7,426.26 45.2,426.25 45.7,426.24 46.2,426.23 46.7,426.22 47.2,426.2 47.7,426.18 48.2,426.16 48.7,426.14 49.2,426.12 49.7,426.1 50.2,426.07 50.7,426.04 51.2,426.01 51.7,425.98 52.2,425.94 52.7,425.91 53.2,425.87 53.7,425.82 54.2,425.78 54.7,425.73 55.2,425.68 55.7,425.63 56.2,425.57 56.7,425.52 57.2,425.46 57.7,425.39 58.2,425.33 58.7,425.26 59.2,425.2 59.7,425.12 60.2,425.05 60.7,424.98 61.2,424.9 61.7,424.83 62.2,424.75 62.7,424.67 63.2,424.59 63.7,424.51 64.2,424.43 64.7,424.35 65.2,424.27 65.7,424.19 66.2,424.11 66.7,424.04 67.2,423.96 67.7,423.89 68.2,423.82 68.7,423.75 69.2,423.69 69.7,423.62 70.2,423.56 70.7,423.51 71.2,423.46 71.7,423.41 72.2,423.37 72.7,423.33 73.2,423.3 73.7,423.27 74.2,423.24 74.7,423.23 75.2,423.21 75.7,423.21 76.2,423.21 76.7,423.21 77.2,423.22 77.7,423.24 78.2,423.26 78.7,423.29 79.2,423.32 79.7,423.36 80.2,423.4 80.7,423.45 81.2,423.51 81.7,423.57 82.2,423.63 82.7,423.7 83.2,423.77 83.7,423.85 84.2,423.93 84.7,424.01 85.2,424.1 85.7,424.19 86.2,424.28 86.7,424.37 87.2,424.47 87.7,424.56 88.2,424.66 88.7,424.76 89.2,424.86 89.7,424.96 90.2,425.06 90.7,425.16 91.2,425.26 91.7,425.36 92.2,425.46 92.7,425.56 93.2,425.65 93.7,425.75 94.2,425.84 94.7,425.93 95.2,426.02 95.7,426.11 96.2,426.2 96.7,426.28 97.2,426.36 97.7,426.44 98.2,426.52 98.7,426.59 99.2,426.66 99.7,426.73 100.2,426.8 100.7,426.87 101.2,426.93 101.7,426.99 102.2,427.05 102.7,427.11 103.2,427.17 103.7,427.23 104.2,427.28 104.7,427.33 105.2,427.38 105.7,427.43 106.2,427.48 106.7,427.52 107.2,427.57 107.7,427.61 108.2,427.65 108.7,427.69 109.2,427.72 109.7,427.76 110.2,427.8 110.7,427.83 111.2,427.86 111.7,427.89 112.2,427.92 112.7,427.95 113.2,427.97 113.7,428 114.2,428.02" fill="none" stroke="#3c3cff" stroke-width="1.0" stroke-linejoin="round" stroke-linecap="round" />
<path d="M30.7,426.3 31.2,426.31 31.7,426.31 32.2,426.31 32.7,426.31 33.2,426.32 33.7,426.32 34.2,426.32 34.7,426.33 35.2,426.33 35.7,426.33 36.2,426.34 36.7,426.34 37.2,426.34 37.7,426.35 38.2,426.35 38.7,426.36 39.2,426.36 39.7,426.37 40.2,426.37 40.7,426.37 41.2,426.38 41.7,426.38 42.2,426.39 42.7,426.39 43.2,426.4 43.7,426.4 44.2,426.41 44.7,426.41 45.2,426.42 45.7,426.42 46.2,426.43 46.7,426.43 47.2,426.44 47.7,426.45 48.2,426.45 48.7,426.46 49.2,426.46 49.7,426.47 50.2,426.47 50.7,426.48 51.2,426.49 51.7,426.49 52.2,426.5 52.7,426.51 53.2,426.51 53.7,426.52 54.2,426.52 54.7,426.53 55.2,426.54 55.7,426.54 56.2,426.55 56.7,426.56 57.2,426.56 57.7,426.57 58.2,426.58 58.7,426.58 59.2,426.59 59.7,426.6 60.2,426.6 60.7,426.61 61.2,426.62 61.7,426.62 62.2,426.63 62.7,426.64 63.2,426.65 63.7,426.65 64.2,426.66 64.7,426.67 65.2,426.68 65.7,426.69 66.2,426.7 66.7,426.71 67.2,426.72 67.7,426.72 68.2,426.73 68.7,426.74 69.2,426.75 69.7,426.76 70.2,426.77 70.7,426.78 71.2,426.79 71.7,426.8 72.2,426.81 72.7,426.82 73.2,426.83 73.7,426.85 74.2,426.86 74.7,426.87 75.2,426.88 75.7,426.89 76.2,426.9 76.7,426.91 77.2,426.92 77.7,426.93 78.2,426.94 78.7,426.96 79.2,426.97 79.7,426.98 80.2,426.99 80.7,427 81.2,427.01 81.7,427.02 82.2,427.04 82.7,427.05 83.2,427.06 83.7,427.07 84.2,427.08 84.7,427.09 85.2,427.1 85.7,427.12 86.2,427.13 86.7,427.14 87.2,427.15 87.7,427.16 88.2,427.18 88.7,427.19 89.2,427.2 89.7,427.21 90.2,427.22 90.7,427.24 91.2,427.25 91.7,427.26 92.2,427.28 92.7,427.29 93.2,427.3 93.7,427.32 94.2,427.33 94.7,427.34 95.2,427.36 95.7,427.37 96.2,427.38 96.7,427.4 97.2,427.41 97.7,427.43 98.2,427.44 98.7,427.46 99.2,427.47 99.7,427.49 100.2,427.51 100.7,427.52 101.2,427.54 101.7,427.56 102.2,427.58 102.7,427.6 103.2,427.62 103.7,427.64 104.2,427.66 104.7,427.68 105.2,427.7 105.7,427.72 106.2,427.74 106.7,427.77 107.2,427.79 107.7,427.81 108.2,427.83 108.7,427.85 109.2,427.88 109.7,427.9 110.2,427.92 110.7,427.94 111.2,427.96 111.7,427.98 112.2,428 112.7,428.02 113.2,428.04 113.7,428.06 114.2,428.07 114.7,428.09 115.2,428.11 115.7,428.12 116.2,428.14 116.7,428.15 117.2,428.17 117.7,428.18 118.2,428.2 118.7,428.21 119.2,428.23 119.7,428.24 120.2,428.26 120.7,428.27 121.2,428.29 121.7,428.3 122.2,428.32 122.7,428.33 123.2,428.35 123.7,428.36 124.2,428.37 124.7,428.39 125.2,428.4 125.7,428.41 126.2,428.42 126.7,428.44 127.2,428.45 127.7,428.46 128.2,428.47 128.7,428.48 129.2,428.5 129.7,428.51 130.2,428.52 130.7,428.53 131.2,428.54 131.7,428.55 132.2,428.56 132.7,428.56 133.2,428.57 133.7,428.58 134.2,428.59 134.7,428.6 135.2,428.6 135.7,428.61 136.2,428.62 136.7,428.62 137.2,428.63 137.7,428.64 138.2,428.64 138.7,428.65 139.2,428.66 139.7,428.66 140.2,428.67 140.7,428.68 141.2,428.68 141.7,428.69 142.2,428.7 142.7,428.7 143.2,428.71 143.7,428.71 144.2,428.72 144.7,428.73 145.2,428.73 145.7,428.74 146.2,428.74 146.7,428.75 147.2,428.76 147.7,428.76 148.2,428.77 148.7,428.77 149.2,428.78 149.7,428.78 150.2,428.79 150.7,428.79 151.2,428.8 151.7,428.8 152.2,428.81 152.7,428.81 153.2,428.82 153.7,428.82 154.2,428.83 154.7,428.83 155.2,428.84 155.7,428.84 156.2,428.85 156.7,428.85 157.2,428.85 157.7,428.86 158.2,428.86 158.7,428.86 159.2,428.87 159.7,428.87 160.2,428.87 160.7,428.88 161.2,428.88 161.7,428.88 162.2,428.88 162.7,428.89 163.2,428.89 163.7,428.89 164.2,428.89 164.7,428.89 165.2,428.89 165.7,428.9 166.2,428.9 166.7,428.9 167.2,428.9 167.7,428.9" fill="none" stroke="#1a9a50" stroke-width="1.1" stroke-linejoin="round" stroke-linecap="round" />
<path d="M30.7,426.12 31.2,426.45 31.7,426.87 32.2,427.29 32.7,427.72 33.2,427.94 33.7,428.11 34.2,428.28 34.7,428.46 35.2,428.63 35.7,428.81 36.2,428.99 36.7,429.18 37.2,429.36 37.7,430.85 38.2,432.67 38.7,434.48 39.2,436.3 39.7,430.95 40.2,425.61 40.7,422.72 41.2,423.51 41.7,424.3 42.2,425.3 42.7,426.3 43.2,427.3 43.7,428.43 44.2,430.09 44.7,431.75 45.2,433.41 45.7,432.35 46.2,427.24 46.7,422.12 47.2,420.83 47.7,420.48 48.2,420.14 48.7,419.8 49.2,420.64 49.7,421.48 50.2,422.33 50.7,423.34 51.2,425.03 51.7,426.72 52.2,425.07 52.7,421.18 53.2,417.3 53.7,418.59 54.2,419.88 54.7,420.86 55.2,421.63 55.7,422.4 56.2,421.17 56.7,419.94 57.2,419.09 57.7,418.82 58.2,418.55 58.7,418.25 59.2,417.93 59.7,417.62 60.2,417.3 60.7,417.96 61.2,418.62 61.7,419.27 62.2,419.7 62.7,419.2 63.2,418.7 63.7,419.95 64.2,422.37 64.7,424.15 65.2,423.42 65.7,422.69 66.2,421.66 66.7,420.43 67.2,419.2 67.7,421.32 68.2,423.45 68.7,426.19 69.2,428.22 69.7,425.85 70.2,423.47 70.7,420.26 71.2,416.84 71.7,414.05 72.2,413.78 72.7,413.51 73.2,413.91 73.7,414.75 74.2,415.59 74.7,416.43 75.2,417 75.7,417.5 76.2,417.37 76.7,414.7 77.2,412.03 77.7,410.74 78.2,409.79 78.7,408.84 79.2,407.89 79.7,406.61 80.2,406.17 80.7,404.73 81.2,403.01 81.7,401.25 82.2,400.14 82.7,399.43 83.2,398.66 83.7,397.66 84.2,396.33 84.7,394.88 85.2,393.15 85.7,390.69 86.2,386 86.7,383.5 87.2,381 87.7,378.5 88.2,375.92 88.7,373.21 89.2,370.49 89.7,367.78 90.2,367.32 90.7,368.35 91.2,369.38 91.7,370.39 92.2,371.36 92.7,372.33 93.2,373.3 93.7,369.05 94.2,364.8 94.7,360.55 95.2,356.74 95.7,353.58 96.2,350.43 96.7,347.28 97.2,344.12 97.7,341.99 98.2,343.91 98.7,345.84 99.2,347.34 99.7,348.18 100.2,349.03 100.7,341.76 101.2,341.34 101.7,343.13 102.2,344.92 102.7,345.85 103.2,345.48 103.7,345.1 104.2,345.31 104.7,347.89 105.2,350.46 105.7,352.7 106.2,354.45 106.7,356.2 107.2,357.48 107.7,358.45 108.2,359.42 108.7,360.8 109.2,362.8 109.7,364.8 110.2,366.57 110.7,367.98 111.2,369.4 111.7,370.82 112.2,373.19 112.7,375.81 113.2,378.43 113.7,381.07 114.2,383.73 114.7,386.4 115.2,388.8 115.7,390.8 116.2,392.8 116.7,395.08 117.2,397.76 117.7,400.45 118.2,402.67 118.7,403.01 119.2,403.35 119.7,403.69 120.2,404.19 120.7,404.92 121.2,405.65 121.7,406.87 122.2,408.2 122.7,409.29 123.2,410.02 123.7,410.75 124.2,411.88 124.7,413.12 125.2,413.95 125.7,413.22 126.2,412.49 126.7,413 127.2,414.33 127.7,415.2 128.2,414.2 128.7,413.2 129.2,413.4 129.7,414.4 130.2,415.4 130.7,416.98 131.2,418.57 131.7,419.94 132.2,421.17 132.7,422.4 133.2,421.4 133.7,420.4 134.2,420.38 134.7,421.85 135.2,423.31 135.7,428.27 136.2,428.11 136.7,423.95 137.2,419.8 137.7,421.13 138.2,422.47 138.7,422.56 139.2,421.83 139.7,421.1 140.2,422.56 140.7,424.02 141.2,424.21 141.7,422.48 142.2,420.75 142.7,422.33 143.2,424.75 143.7,425.62 144.2,424.15 144.7,422.69 145.2,421.42 145.7,420.18 146.2,420.21 146.7,425.25 147.2,430.29 147.7,429.52 148.2,427.28 148.7,425.75 149.2,426.98 149.7,428.21 150.2,428.12 150.7,427.16 151.2,426.2 151.7,427.24 152.2,428.28 152.7,428.26 153.2,427.53 153.7,426.8 154.2,428.76 154.7,430.72 155.2,431.02 155.7,428.83 156.2,426.64 156.7,428.3 157.2,430.92 157.7,431.72 158.2,429.75 158.7,427.79 159.2,426.82 159.7,426.08 160.2,425.77 160.7,427.1 161.2,428.43 161.7,428.92 162.2,429.18 162.7,429.49 163.2,429.95 163.7,430.42 164.2,429.15 164.7,426.72 165.2,424.3 165.7,422.18 166.2,420.05 166.7,419.94 167.2,421.17 167.7,422.4" fill="none" stroke="#333" stroke-width="0.75" stroke-linejoin="round" stroke-linecap="round" />
<path d="M30.7,426.31 31.2,426.32 31.7,426.33 32.2,426.33 32.7,426.34 33.2,426.35 33.7,426.35 34.2,426.35 34.7,426.35 35.2,426.35 35.7,426.35 36.2,426.35 36.7,426.35 37.2,426.34 37.7,426.34 38.2,426.33 38.7,426.33 39.2,426.32 39.7,426.31 40.2,426.3 40.7,426.29 41.2,426.28 41.7,426.27 42.2,426.26 42.7,426.25 43.2,426.24 43.7,426.23 44.2,426.22 44.7,426.21 45.2,426.19 45.7,426.18 46.2,426.16 46.7,426.14 47.2,426.12 47.7,426.1 48.2,426.07 48.7,426.04 49.2,426.01 49.7,425.97 50.2,425.94 50.7,425.9 51.2,425.86 51.7,425.82 52.2,425.77 52.7,425.73 53.2,425.68 53.7,425.63 54.2,425.58 54.7,425.53 55.2,425.48 55.7,425.42 56.2,425.34 56.7,425.26 57.2,425.16 57.7,425.04 58.2,424.91 58.7,424.77 59.2,424.6 59.7,424.42 60.2,424.22 60.7,424 61.2,423.78 61.7,423.54 62.2,423.3 62.7,423.05 63.2,422.8 63.7,422.54 64.2,422.28 64.7,422.02 65.2,421.76 65.7,421.5 66.2,421.25 66.7,420.98 67.2,420.72 67.7,420.45 68.2,420.17 68.7,419.89 69.2,419.6 69.7,419.31 70.2,419.01 70.7,418.7 71.2,418.39 71.7,418.07 72.2,417.71 72.7,417.29 73.2,416.8 73.7,416.24 74.2,415.63 74.7,414.97 75.2,414.28 75.7,413.55 76.2,412.79 76.7,412.02 77.2,411.23 77.7,410.44 78.2,409.61 78.7,408.73 79.2,407.8 79.7,406.82 80.2,405.79 80.7,404.72 81.2,403.62 81.7,402.47 82.2,401.29 82.7,400.06 83.2,398.77 83.7,397.4 84.2,395.93 84.7,394.34 85.2,392.61 85.7,390.73 86.2,388.75 86.7,386.71 87.2,384.67 87.7,382.66 88.2,380.74 88.7,378.83 89.2,376.93 89.7,375.03 90.2,373.13 90.7,371.25 91.2,369.38 91.7,367.53 92.2,365.7 92.7,363.88 93.2,362.08 93.7,360.29 94.2,358.63 94.7,357.1 95.2,355.69 95.7,354.36 96.2,353.11 96.7,351.91 97.2,350.75 97.7,349.72 98.2,348.84 98.7,348.1 99.2,347.49 99.7,347.02 100.2,346.66 100.7,346.43 101.2,346.37 101.7,346.48 102.2,346.77 102.7,347.23 103.2,347.87 103.7,348.59 104.2,349.41 104.7,350.35 105.2,351.45 105.7,352.72 106.2,354.15 106.7,355.62 107.2,357.14 107.7,358.68 108.2,360.25 108.7,361.84 109.2,363.44 109.7,365.06 110.2,366.72 110.7,368.45 111.2,370.25 111.7,372.21 112.2,374.52 112.7,377.06 113.2,379.67 113.7,382.2 114.2,384.5 114.7,386.62 115.2,388.7 115.7,390.7 116.2,392.6 116.7,394.37 117.2,396 117.7,397.57 118.2,399.07 118.7,400.53 119.2,401.94 119.7,403.33 120.2,404.71 120.7,406.04 121.2,407.31 121.7,408.47 122.2,409.5 122.7,410.45 123.2,411.34 123.7,412.18 124.2,412.97 124.7,413.73 125.2,414.47 125.7,415.18 126.2,415.88 126.7,416.58 127.2,417.26 127.7,417.94 128.2,418.61 128.7,419.26 129.2,419.9 129.7,420.51 130.2,421.1 130.7,421.66 131.2,422.2 131.7,422.71 132.2,423.19 132.7,423.65 133.2,424.07 133.7,424.47 134.2,424.84 134.7,425.18 135.2,425.48 135.7,425.75 136.2,425.98 136.7,426.18 137.2,426.36 137.7,426.54 138.2,426.72 138.7,426.89 139.2,427.05 139.7,427.2 140.2,427.34 140.7,427.47 141.2,427.6 141.7,427.71 142.2,427.81 142.7,427.9 143.2,427.98 143.7,428.04 144.2,428.09 144.7,428.13 145.2,428.17 145.7,428.21 146.2,428.25 146.7,428.29 147.2,428.33 147.7,428.37 148.2,428.41 148.7,428.45 149.2,428.49 149.7,428.52 150.2,428.55 150.7,428.59 151.2,428.62 151.7,428.65 152.2,428.68 152.7,428.7 153.2,428.73 153.7,428.75 154.2,428.77 154.7,428.79 155.2,428.81 155.7,428.82 156.2,428.84 156.7,428.85 157.2,428.87 157.7,428.88 158.2,428.9 158.7,428.92 159.2,428.93 159.7,428.95 160.2,428.96 160.7,428.98 161.2,428.99 161.7,429 162.2,429.01 162.7,429.03 163.2,429.04 163.7,429.05 164.2,429.06 164.7,429.07 165.2,429.08 165.7,429.08 166.2,429.09 166.7,429.09 167.2,429.1 167.7,429.1" fill="none" stroke="#3030b0" stroke-width="1.0" stroke-linejoin="round" stroke-linecap="round" />
<line x1="119.5" y1="340.9" x2="131.3" y2="340.9" stroke="#444" stroke-width="0.9"/>
<text x="133.1" y="342.8" font-size="5.4" text-anchor="start" font-weight="normal" fill="#1a1a1a" >RAW data</text>
<line x1="119.5" y1="347.1" x2="131.3" y2="347.1" stroke="#ff55ff" stroke-width="1.0"/>
<text x="133.1" y="349" font-size="5.4" text-anchor="start" font-weight="normal" fill="#1a1a1a" >C-C</text>
<line x1="119.5" y1="354" x2="131.3" y2="354" stroke="#bbb" stroke-width="1.2"/>
<text x="133.1" y="355.9" font-size="5.4" text-anchor="start" font-weight="normal" fill="#1a1a1a" >C-O</text>
<line x1="119.5" y1="360.5" x2="131.3" y2="360.5" stroke="#4a4aff" stroke-width="1.1"/>
<text x="133.1" y="362.4" font-size="5.4" text-anchor="start" font-weight="normal" fill="#1a1a1a" >O-C=O</text>
<line x1="119.5" y1="367.2" x2="131.3" y2="367.2" stroke="#2a9a5a" stroke-width="1.0"/>
<text x="133.1" y="369.1" font-size="5.4" text-anchor="start" font-weight="normal" fill="#1a1a1a" >Background</text>
<line x1="119.5" y1="373.8" x2="131.3" y2="373.8" stroke="#6a6ab5" stroke-width="1.5"/>
<text x="133.1" y="375.7" font-size="5.4" text-anchor="start" font-weight="normal" fill="#1a1a1a" >Envelope</text>
<line x1="210.4" y1="336.5" x2="210.4" y2="437.2" stroke="#5a5a5a" stroke-width="0.75"/>
<line x1="210.1" y1="436.8" x2="348" y2="436.8" stroke="#5a5a5a" stroke-width="0.75"/>
<line x1="208.5" y1="436.8" x2="210.4" y2="436.8" stroke="#5a5a5a" stroke-width="0.6"/>
<text x="206.9" y="438.4" font-size="4.7" text-anchor="end" font-weight="bold" fill="#333" textLength="7.35" lengthAdjust="spacingAndGlyphs">100</text>
<line x1="209.3" y1="431.23" x2="210.4" y2="431.23" stroke="#5a5a5a" stroke-width="0.6"/>
<line x1="208.5" y1="425.66" x2="210.4" y2="425.66" stroke="#5a5a5a" stroke-width="0.6"/>
<text x="206.9" y="427.26" font-size="4.7" text-anchor="end" font-weight="bold" fill="#333" textLength="7.35" lengthAdjust="spacingAndGlyphs">200</text>
<line x1="209.3" y1="420.09" x2="210.4" y2="420.09" stroke="#5a5a5a" stroke-width="0.6"/>
<line x1="208.5" y1="414.52" x2="210.4" y2="414.52" stroke="#5a5a5a" stroke-width="0.6"/>
<text x="206.9" y="416.12" font-size="4.7" text-anchor="end" font-weight="bold" fill="#333" textLength="7.35" lengthAdjust="spacingAndGlyphs">300</text>
<line x1="209.3" y1="408.95" x2="210.4" y2="408.95" stroke="#5a5a5a" stroke-width="0.6"/>
<line x1="208.5" y1="403.38" x2="210.4" y2="403.38" stroke="#5a5a5a" stroke-width="0.6"/>
<text x="206.9" y="404.98" font-size="4.7" text-anchor="end" font-weight="bold" fill="#333" textLength="7.35" lengthAdjust="spacingAndGlyphs">400</text>
<line x1="209.3" y1="397.81" x2="210.4" y2="397.81" stroke="#5a5a5a" stroke-width="0.6"/>
<line x1="208.5" y1="392.24" x2="210.4" y2="392.24" stroke="#5a5a5a" stroke-width="0.6"/>
<text x="206.9" y="393.84" font-size="4.7" text-anchor="end" font-weight="bold" fill="#333" textLength="7.35" lengthAdjust="spacingAndGlyphs">500</text>
<line x1="209.3" y1="386.67" x2="210.4" y2="386.67" stroke="#5a5a5a" stroke-width="0.6"/>
<line x1="208.5" y1="381.1" x2="210.4" y2="381.1" stroke="#5a5a5a" stroke-width="0.6"/>
<text x="206.9" y="382.7" font-size="4.7" text-anchor="end" font-weight="bold" fill="#333" textLength="7.35" lengthAdjust="spacingAndGlyphs">600</text>
<line x1="209.3" y1="375.53" x2="210.4" y2="375.53" stroke="#5a5a5a" stroke-width="0.6"/>
<line x1="208.5" y1="369.96" x2="210.4" y2="369.96" stroke="#5a5a5a" stroke-width="0.6"/>
<text x="206.9" y="371.56" font-size="4.7" text-anchor="end" font-weight="bold" fill="#333" textLength="7.35" lengthAdjust="spacingAndGlyphs">700</text>
<line x1="209.3" y1="364.39" x2="210.4" y2="364.39" stroke="#5a5a5a" stroke-width="0.6"/>
<line x1="208.5" y1="358.82" x2="210.4" y2="358.82" stroke="#5a5a5a" stroke-width="0.6"/>
<text x="206.9" y="360.42" font-size="4.7" text-anchor="end" font-weight="bold" fill="#333" textLength="7.35" lengthAdjust="spacingAndGlyphs">800</text>
<line x1="209.3" y1="353.25" x2="210.4" y2="353.25" stroke="#5a5a5a" stroke-width="0.6"/>
<line x1="208.5" y1="347.68" x2="210.4" y2="347.68" stroke="#5a5a5a" stroke-width="0.6"/>
<text x="206.9" y="349.28" font-size="4.7" text-anchor="end" font-weight="bold" fill="#333" textLength="7.35" lengthAdjust="spacingAndGlyphs">900</text>
<line x1="209.3" y1="342.11" x2="210.4" y2="342.11" stroke="#5a5a5a" stroke-width="0.6"/>
<line x1="208.5" y1="336.54" x2="210.4" y2="336.54" stroke="#5a5a5a" stroke-width="0.6"/>
<text x="206.9" y="338.14" font-size="4.7" text-anchor="end" font-weight="bold" fill="#333" textLength="9.8" lengthAdjust="spacingAndGlyphs">1000</text>
<line x1="347.74" y1="436.8" x2="347.74" y2="438.7" stroke="#5a5a5a" stroke-width="0.6"/>
<text x="347.74" y="444.4" font-size="5.0" text-anchor="middle" font-weight="bold" fill="#333" textLength="7.35" lengthAdjust="spacingAndGlyphs">152</text>
<line x1="341.2" y1="436.8" x2="341.2" y2="437.9" stroke="#5a5a5a" stroke-width="0.6"/>
<line x1="334.66" y1="436.8" x2="334.66" y2="438.7" stroke="#5a5a5a" stroke-width="0.6"/>
<text x="334.66" y="444.4" font-size="5.0" text-anchor="middle" font-weight="bold" fill="#333" textLength="7.35" lengthAdjust="spacingAndGlyphs">154</text>
<line x1="328.12" y1="436.8" x2="328.12" y2="437.9" stroke="#5a5a5a" stroke-width="0.6"/>
<line x1="321.58" y1="436.8" x2="321.58" y2="438.7" stroke="#5a5a5a" stroke-width="0.6"/>
<text x="321.58" y="444.4" font-size="5.0" text-anchor="middle" font-weight="bold" fill="#333" textLength="7.35" lengthAdjust="spacingAndGlyphs">156</text>
<line x1="315.04" y1="436.8" x2="315.04" y2="437.9" stroke="#5a5a5a" stroke-width="0.6"/>
<line x1="308.5" y1="436.8" x2="308.5" y2="438.7" stroke="#5a5a5a" stroke-width="0.6"/>
<text x="308.5" y="444.4" font-size="5.0" text-anchor="middle" font-weight="bold" fill="#333" textLength="7.35" lengthAdjust="spacingAndGlyphs">158</text>
<line x1="301.96" y1="436.8" x2="301.96" y2="437.9" stroke="#5a5a5a" stroke-width="0.6"/>
<line x1="295.42" y1="436.8" x2="295.42" y2="438.7" stroke="#5a5a5a" stroke-width="0.6"/>
<text x="295.42" y="444.4" font-size="5.0" text-anchor="middle" font-weight="bold" fill="#333" textLength="7.35" lengthAdjust="spacingAndGlyphs">160</text>
<line x1="288.88" y1="436.8" x2="288.88" y2="437.9" stroke="#5a5a5a" stroke-width="0.6"/>
<line x1="282.34" y1="436.8" x2="282.34" y2="438.7" stroke="#5a5a5a" stroke-width="0.6"/>
<text x="282.34" y="444.4" font-size="5.0" text-anchor="middle" font-weight="bold" fill="#333" textLength="7.35" lengthAdjust="spacingAndGlyphs">162</text>
<line x1="275.8" y1="436.8" x2="275.8" y2="437.9" stroke="#5a5a5a" stroke-width="0.6"/>
<line x1="269.26" y1="436.8" x2="269.26" y2="438.7" stroke="#5a5a5a" stroke-width="0.6"/>
<text x="269.26" y="444.4" font-size="5.0" text-anchor="middle" font-weight="bold" fill="#333" textLength="7.35" lengthAdjust="spacingAndGlyphs">164</text>
<line x1="262.72" y1="436.8" x2="262.72" y2="437.9" stroke="#5a5a5a" stroke-width="0.6"/>
<line x1="256.18" y1="436.8" x2="256.18" y2="438.7" stroke="#5a5a5a" stroke-width="0.6"/>
<text x="256.18" y="444.4" font-size="5.0" text-anchor="middle" font-weight="bold" fill="#333" textLength="7.35" lengthAdjust="spacingAndGlyphs">166</text>
<line x1="249.64" y1="436.8" x2="249.64" y2="437.9" stroke="#5a5a5a" stroke-width="0.6"/>
<line x1="243.1" y1="436.8" x2="243.1" y2="438.7" stroke="#5a5a5a" stroke-width="0.6"/>
<text x="243.1" y="444.4" font-size="5.0" text-anchor="middle" font-weight="bold" fill="#333" textLength="7.35" lengthAdjust="spacingAndGlyphs">168</text>
<line x1="236.56" y1="436.8" x2="236.56" y2="437.9" stroke="#5a5a5a" stroke-width="0.6"/>
<line x1="230.02" y1="436.8" x2="230.02" y2="438.7" stroke="#5a5a5a" stroke-width="0.6"/>
<text x="230.02" y="444.4" font-size="5.0" text-anchor="middle" font-weight="bold" fill="#333" textLength="7.35" lengthAdjust="spacingAndGlyphs">170</text>
<line x1="223.48" y1="436.8" x2="223.48" y2="437.9" stroke="#5a5a5a" stroke-width="0.6"/>
<line x1="216.94" y1="436.8" x2="216.94" y2="438.7" stroke="#5a5a5a" stroke-width="0.6"/>
<text x="216.94" y="444.4" font-size="5.0" text-anchor="middle" font-weight="bold" fill="#333" textLength="7.35" lengthAdjust="spacingAndGlyphs">172</text>
<line x1="210.4" y1="436.8" x2="210.4" y2="437.9" stroke="#5a5a5a" stroke-width="0.6"/>
<text x="279.1" y="453" font-size="5.8" text-anchor="middle" font-weight="bold" fill="#222" textLength="50.5" lengthAdjust="spacingAndGlyphs">Binding energy [eV]</text>
<text x="0" y="0" font-size="5.5" text-anchor="middle" font-weight="bold" fill="#222" textLength="37" lengthAdjust="spacingAndGlyphs" transform="translate(188.7,391.5) rotate(-90)">Intensity [a.u.]</text>
<text x="217.5" y="352.7" font-size="12.9" text-anchor="start" font-weight="bold" fill="#111" textLength="19" lengthAdjust="spacingAndGlyphs">(c<tspan font-size="8.4" dy="2.3">2</tspan><tspan dy="-2.3">)</tspan></text>
<path d="M228.2,412.21 228.7,412.25 229.2,412.29 229.7,412.34 230.2,412.39 230.7,412.45 231.2,412.52 231.7,412.59 232.2,412.66 232.7,412.74 233.2,412.82 233.7,412.9 234.2,412.99 234.7,413.08 235.2,413.17 235.7,413.26 236.2,413.35 236.7,413.44 237.2,413.52 237.7,413.61 238.2,413.7 238.7,413.78 239.2,413.86 239.7,413.94 240.2,414.02 240.7,414.09 241.2,414.15 241.7,414.21 242.2,414.27 242.7,414.32 243.2,414.37 243.7,414.43 244.2,414.48 244.7,414.53 245.2,414.59 245.7,414.66 246.2,414.73 246.7,414.81 247.2,414.9 247.7,415.01 248.2,415.15 248.7,415.31 249.2,415.49 249.7,415.68 250.2,415.89 250.7,416.11 251.2,416.33 251.7,416.55 252.2,416.77 252.7,416.98 253.2,417.19 253.7,417.37 254.2,417.56 254.7,417.75 255.2,417.95 255.7,418.14 256.2,418.33 256.7,418.52 257.2,418.7 257.7,418.89 258.2,419.06 258.7,419.23 259.2,419.39 259.7,419.54 260.2,419.68 260.7,419.82 261.2,419.96 261.7,420.09 262.2,420.22 262.7,420.34 263.2,420.46 263.7,420.57 264.2,420.68 264.7,420.79 265.2,420.89 265.7,420.99 266.2,421.08 266.7,421.17 267.2,421.26 267.7,421.34 268.2,421.43 268.7,421.51 269.2,421.58 269.7,421.66 270.2,421.73 270.7,421.79 271.2,421.86 271.7,421.91 272.2,421.96 272.7,422.01 273.2,422.05 273.7,422.08 274.2,422.11 274.7,422.14 275.2,422.16 275.7,422.19 276.2,422.21 276.7,422.24 277.2,422.27 277.7,422.3 278.2,422.33 278.7,422.37 279.2,422.42 279.7,422.48 280.2,422.55 280.7,422.62 281.2,422.71 281.7,422.81 282.2,422.91 282.7,423.02 283.2,423.14 283.7,423.26 284.2,423.38 284.7,423.51 285.2,423.65 285.7,423.78 286.2,423.94 286.7,424.1 287.2,424.28 287.7,424.47 288.2,424.67 288.7,424.88 289.2,425.1 289.7,425.31 290.2,425.54 290.7,425.76 291.2,425.98 291.7,426.2 292.2,426.43 292.7,426.66 293.2,426.91 293.7,427.17 294.2,427.43 294.7,427.69 295.2,427.95 295.7,428.21 296.2,428.46 296.7,428.7 297.2,428.93 297.7,429.14 298.2,429.34 298.7,429.53 299.2,429.72 299.7,429.91 300.2,430.09 300.7,430.27 301.2,430.44 301.7,430.61 302.2,430.76 302.7,430.91 303.2,431.04 303.7,431.16 304.2,431.26 304.7,431.35 305.2,431.44 305.7,431.52 306.2,431.6 306.7,431.67 307.2,431.74 307.7,431.8 308.2,431.86 308.7,431.92 309.2,431.97 309.7,432.01 310.2,432.06 310.7,432.09 311.2,432.13 311.7,432.16 312.2,432.19 312.7,432.22 313.2,432.25 313.7,432.27 314.2,432.3 314.7,432.32 315.2,432.34 315.7,432.36 316.2,432.38 316.7,432.39 317.2,432.4 317.7,432.41 318.2,432.42 318.7,432.43 319.2,432.44 319.7,432.45 320.2,432.45 320.7,432.46 321.2,432.47 321.7,432.48 322.2,432.49 322.7,432.5 323.2,432.5 323.7,432.51 324.2,432.52 324.7,432.53 325.2,432.53 325.7,432.54 326.2,432.55 326.7,432.55 327.2,432.56 327.7,432.57 328.2,432.57 328.7,432.58 329.2,432.59 329.7,432.59 330.2,432.6 330.7,432.6 331.2,432.61 331.7,432.61 332.2,432.62 332.7,432.62 333.2,432.63 333.7,432.63 334.2,432.64 334.7,432.64 335.2,432.65 335.7,432.65 336.2,432.65 336.7,432.66 337.2,432.66 337.7,432.66 338.2,432.67 338.7,432.67 339.2,432.67 339.7,432.68 340.2,432.68 340.7,432.68 341.2,432.68 341.7,432.69 342.2,432.69 342.7,432.69 343.2,432.69 343.7,432.69 344.2,432.7 344.7,432.7 345.2,432.7" fill="none" stroke="#22dd33" stroke-width="1.4" stroke-linejoin="round" stroke-linecap="round" />
<path d="M210.7,412.08 211.2,411.3 211.7,410.51 212.2,409.73 212.7,409.66 213.2,409.59 213.7,409.51 214.2,409.7 214.7,409.88 215.2,410.07 215.7,410.41 216.2,410.75 216.7,411.09 217.2,411.15 217.7,411.2 218.2,411.26 218.7,411.22 219.2,411.17 219.7,411.13 220.2,411.37 220.7,411.62 221.2,411.87 221.7,411.09 222.2,410.31 222.7,409.53 223.2,410.5 223.7,411.47 224.2,412.44 224.7,411.78 225.2,411.12 225.7,410.45 226.2,410.75 226.7,411.05 227.2,411.35 227.7,411.46 228.2,411.57 228.7,411.69 229.2,411.45 229.7,411.2 230.2,410.96 230.7,410.91 231.2,410.86 231.7,410.8 232.2,412.85 232.7,413.49 233.2,414.12 233.7,414.69 234.2,415.16 234.7,415.62 235.2,415.82 235.7,414.93 236.2,414.04 236.7,413.65 237.2,414.04 237.7,414.42 238.2,414.99 238.7,415.61 239.2,416.23 239.7,416.12 240.2,414.92 240.7,413.72 241.2,412.82 241.7,412.39 242.2,411.95 242.7,411.51 243.2,411.07 243.7,408.99 244.2,405.81 244.7,402.63 245.2,399.45 245.7,396.27 246.2,397.42 246.7,396.93 247.2,394.82 247.7,392.61 248.2,390.31 248.7,388.35 249.2,386.29 249.7,384.14 250.2,382.34 250.7,380.47 251.2,378.53 251.7,376.42 252.2,374.28 252.7,372.15 253.2,369.62 253.7,367.15 254.2,364.78 254.7,363 255.2,361.41 255.7,360.06 256.2,358.51 256.7,357.28 257.2,356.41 257.7,356.51 258.2,357.01 258.7,357.88 259.2,358.81 259.7,360.07 260.2,361.64 260.7,363.07 261.2,364.74 261.7,366.58 262.2,369.43 262.7,372.38 263.2,375.38 263.7,377.55 264.2,379.72 264.7,381.86 265.2,384.29 265.7,386.64 266.2,388.9 266.7,390.78 267.2,392.54 267.7,394.18 268.2,396.18 268.7,398.04 269.2,399.77 269.7,401.49 270.2,403.07 270.7,404.51 271.2,404.87 271.7,405.09 272.2,405.18 272.7,406.35 273.2,407.39 273.7,408.31 274.2,408.42 274.7,408.4 275.2,408.27 275.7,408.08 276.2,407.77 276.7,407.33 277.2,406.05 277.7,404.63 278.2,403.09 278.7,402.79 279.2,402.35 279.7,401.77 280.2,400.65 280.7,399.39 281.2,397.97 281.7,395.76 282.2,393.39 282.7,390.88 283.2,388.9 283.7,386.78 284.2,384.52 284.7,381.14 285.2,377.64 285.7,374.06 286.2,372.07 286.7,370.04 287.2,368 287.7,364.66 288.2,361.38 288.7,358.2 289.2,356.02 289.7,354.03 290.2,352.28 290.7,349.56 291.2,347.18 291.7,345.2 292.2,345.23 292.7,345.74 293.2,346.73 293.7,347.18 294.2,348.1 294.7,349.46 295.2,351.82 295.7,354.53 296.2,357.54 296.7,359.97 297.2,362.57 297.7,365.32 298.2,368.75 298.7,372.24 299.2,375.75 299.7,380 300.2,384.21 300.7,388.34 301.2,390.59 301.7,392.73 302.2,394.74 302.7,397.56 303.2,400.23 303.7,402.75 304.2,405.19 304.7,407.47 305.2,409.6 305.7,411.22 306.2,412.7 306.7,414.04 307.2,416.14 307.7,418.11 308.2,419.96 308.7,421.19 309.2,422.32 309.7,423.35 310.2,423.41 310.7,423.39 311.2,423.29 311.7,423.55 312.2,423.76 312.7,423.92 313.2,425.2 313.7,426.45 314.2,427.66 314.7,427.94 315.2,428.2 315.7,428.44 316.2,428.58 316.7,428.71 317.2,428.81 317.7,429.09 318.2,429.35 318.7,429.61 319.2,429.14 319.7,428.67 320.2,428.19 320.7,428.52 321.2,428.84 321.7,429.16 322.2,428.9 322.7,428.63 323.2,428.36 323.7,428.44 324.2,428.52 324.7,428.59 325.2,429.39 325.7,430.18 326.2,430.98 326.7,430.55 327.2,430.12 327.7,429.69 328.2,430.64 328.7,431.59 329.2,432.53 329.7,431.92 330.2,431.32 330.7,430.71 331.2,430.54 331.7,430.38 332.2,430.21 332.7,430.69 333.2,431.16 333.7,431.64 334.2,431.98 334.7,432.32 335.2,432.66 335.7,432.3 336.2,431.94 336.7,431.58 337.2,431.11 337.7,430.63 338.2,430.15 338.7,430.66 339.2,431.16 339.7,431.67 340.2,432 340.7,432.33 341.2,432.65 341.7,432.12 342.2,431.58 342.7,431.05 343.2,430.98 343.7,430.92 344.2,430.86 344.7,431.42 345.2,431.97" fill="none" stroke="#222" stroke-width="0.75" stroke-linejoin="round" stroke-linecap="round" />
<path d="M210.7,412.08 211.2,411.3 211.7,410.51 212.2,409.73 212.7,409.66 213.2,409.59 213.7,409.51 214.2,409.7 214.7,409.88 215.2,410.07 215.7,410.41 216.2,410.75 216.7,411.09 217.2,411.15 217.7,411.2 218.2,411.26 218.7,411.22 219.2,411.17 219.7,411.13 220.2,411.37 220.7,411.62 221.2,411.87 221.7,411.09 222.2,410.31 222.7,409.53 223.2,410.5 223.7,411.47 224.2,412.44 224.7,411.78 225.2,411.12 225.7,410.45 226.2,410.75 226.7,411.05 227.2,411.35 227.7,411.46 228.2,411.57 228.7,411.69 229.2,411.45 229.7,411.2 230.2,410.96 230.7,410.91 231.2,410.86 231.7,410.8 232.2,409.56 232.7,409.53 233.2,409.5 233.7,409.46 234.2,409.42 234.7,409.36 235.2,409.29 235.7,409.21 236.2,409.12 236.7,409 237.2,408.87 237.7,408.71 238.2,408.52 238.7,408.3 239.2,408.03 239.7,407.73 240.2,407.38 240.7,406.97 241.2,406.51 241.7,405.97 242.2,405.37 242.7,404.68 243.2,403.91 243.7,403.06 244.2,402.11 244.7,401.06 245.2,399.91 245.7,398.66 246.2,397.29 246.7,395.81 247.2,394.22 247.7,392.53 248.2,390.75 248.7,388.87 249.2,386.91 249.7,384.85 250.2,382.71 250.7,380.5 251.2,378.22 251.7,375.91 252.2,373.56 252.7,371.22 253.2,368.89 253.7,366.63 254.2,364.48 254.7,362.48 255.2,360.67 255.7,359.11 256.2,357.84 256.7,356.88 257.2,356.29 257.7,356.06 258.2,356.23 258.7,356.78 259.2,357.69 259.7,358.95 260.2,360.52 260.7,362.36 261.2,364.42 261.7,366.67 262.2,369.06 262.7,371.54 263.2,374.08 263.7,376.64 264.2,379.19 264.7,381.71 265.2,384.16 265.7,386.54 266.2,388.83 266.7,391 267.2,393.07 267.7,395.01 268.2,396.82 268.7,398.49 269.2,400.03 269.7,401.43 270.2,402.69 270.7,403.81 271.2,404.8 271.7,405.64 272.2,406.36 272.7,406.94 273.2,407.4 273.7,407.72 274.2,407.92 274.7,408 275.2,407.95 275.7,407.79 276.2,407.5 276.7,407.08 277.2,406.54 277.7,405.87 278.2,405.08 278.7,404.14 279.2,403.07 279.7,401.87 280.2,400.52 280.7,399.03 281.2,397.39 281.7,395.6 282.2,393.66 282.7,391.57 283.2,389.33 283.7,386.95 284.2,384.44 284.7,381.8 285.2,379.04 285.7,376.2 286.2,373.29 286.7,370.35 287.2,367.39 287.7,364.46 288.2,361.58 288.7,358.79 289.2,356.15 289.7,353.7 290.2,351.5 290.7,349.59 291.2,348.03 291.7,346.86 292.2,346.13 292.7,345.87 293.2,346.11 293.7,346.83 294.2,348.03 294.7,349.67 295.2,351.72 295.7,354.12 296.2,356.82 296.7,359.76 297.2,362.89 297.7,366.15 298.2,369.49 298.7,372.89 299.2,376.3 299.7,379.7 300.2,383.05 300.7,386.32 301.2,389.49 301.7,392.55 302.2,395.48 302.7,398.27 303.2,400.91 303.7,403.38 304.2,405.7 304.7,407.85 305.2,409.85 305.7,411.7 306.2,413.4 306.7,414.96 307.2,416.4 307.7,417.7 308.2,418.89 308.7,419.96 309.2,420.93 309.7,421.8 310.2,422.59 310.7,423.29 311.2,423.93 311.7,424.49 312.2,425.01 312.7,425.47 313.2,425.89 313.7,426.26 314.2,426.6 314.7,426.91 315.2,427.19 315.7,427.44 316.2,427.67 316.7,427.88 317.2,428.07 317.7,428.25 318.2,428.41 318.7,428.57 319.2,428.71 319.7,428.84 320.2,428.97 320.7,429.09 321.2,429.21 321.7,429.31 322.2,429.42 322.7,429.51 323.2,429.61 323.7,429.7 324.2,429.78 324.7,429.87 325.2,429.95 325.7,430.02 326.2,430.09 326.7,430.16 327.2,430.23 327.7,430.3 328.2,430.36 328.7,430.42 329.2,430.48 329.7,430.53 330.2,430.59 330.7,430.64 331.2,430.69 331.7,430.74 332.2,430.79 332.7,430.83 333.2,430.88 333.7,430.92 334.2,430.96 334.7,431 335.2,431.04 335.7,431.08 336.2,431.11 336.7,431.15 337.2,431.18 337.7,431.21 338.2,431.25 338.7,431.28 339.2,431.31 339.7,431.33 340.2,431.36 340.7,431.39 341.2,431.42 341.7,431.44 342.2,431.47 342.7,431.49 343.2,431.51 343.7,431.53 344.2,431.56 344.7,431.58 345.2,431.6" fill="none" stroke="#cc44cc" stroke-width="1.0" stroke-linejoin="round" stroke-linecap="round" />
<path d="M228.2,410.35 228.7,410.33 229.2,410.31 229.7,410.29 230.2,410.27 230.7,410.26 231.2,410.24 231.7,410.23 232.2,410.21 232.7,410.19 233.2,410.17 233.7,410.14 234.2,410.11 234.7,410.06 235.2,410.01 235.7,409.94 236.2,409.86 236.7,409.76 237.2,409.63 237.7,409.49 238.2,409.31 238.7,409.1 239.2,408.86 239.7,408.57 240.2,408.23 240.7,407.84 241.2,407.39 241.7,406.87 242.2,406.29 242.7,405.62 243.2,404.87 243.7,404.03 244.2,403.1 244.7,402.08 245.2,400.95 245.7,399.71 246.2,398.37 246.7,396.91 247.2,395.35 247.7,393.68 248.2,391.92 248.7,390.07 249.2,388.13 249.7,386.1 250.2,383.99 250.7,381.81 251.2,379.57 251.7,377.28 252.2,374.97 252.7,372.66 253.2,370.37 253.7,368.14 254.2,366.02 254.7,364.06 255.2,362.3 255.7,360.78 256.2,359.55 256.7,358.64 257.2,358.09 257.7,357.92 258.2,358.13 258.7,358.73 259.2,359.71 259.7,361.02 260.2,362.65 260.7,364.55 261.2,366.68 261.7,369 262.2,371.46 262.7,374.01 263.2,376.63 263.7,379.28 264.2,381.91 264.7,384.52 265.2,387.08 265.7,389.56 266.2,391.95 266.7,394.25 267.2,396.44 267.7,398.51 268.2,400.46 268.7,402.3 269.2,404 269.7,405.59 270.2,407.05 270.7,408.39 271.2,409.62 271.7,410.74 272.2,411.76 272.7,412.67 273.2,413.5 273.7,414.23 274.2,414.9 274.7,415.49 275.2,416.02 275.7,416.49 276.2,416.92 276.7,417.3 277.2,417.65 277.7,417.96 278.2,418.26 278.7,418.53 279.2,418.78 279.7,419.02 280.2,419.26 280.7,419.5 281.2,419.72 281.7,419.95 282.2,420.17 282.7,420.39 283.2,420.61 283.7,420.83 284.2,421.04 284.7,421.25 285.2,421.47 285.7,421.68 286.2,421.9 286.7,422.13 287.2,422.37 287.7,422.63 288.2,422.88 288.7,423.15 289.2,423.41 289.7,423.68 290.2,423.95 290.7,424.22 291.2,424.48 291.7,424.74 292.2,425.01 292.7,425.29 293.2,425.57 293.7,425.86 294.2,426.15 294.7,426.45 295.2,426.74 295.7,427.03 296.2,427.31 296.7,427.58 297.2,427.83 297.7,428.07 298.2,428.3 298.7,428.51 299.2,428.73 299.7,428.94 300.2,429.14 300.7,429.34 301.2,429.54 301.7,429.72 302.2,429.9 302.7,430.06 303.2,430.21 303.7,430.35 304.2,430.47 304.7,430.57 305.2,430.68 305.7,430.77 306.2,430.86 306.7,430.95 307.2,431.03 307.7,431.11 308.2,431.18 308.7,431.25 309.2,431.32 309.7,431.37 310.2,431.43 310.7,431.48 311.2,431.52 311.7,431.57 312.2,431.61 312.7,431.65 313.2,431.69 313.7,431.72 314.2,431.76 314.7,431.79 315.2,431.82 315.7,431.84 316.2,431.87 316.7,431.89 317.2,431.91 317.7,431.93 318.2,431.94 318.7,431.96 319.2,431.98 319.7,431.99 320.2,432.01 320.7,432.02 321.2,432.04 321.7,432.05 322.2,432.07 322.7,432.08 323.2,432.1 323.7,432.11 324.2,432.12 324.7,432.14 325.2,432.15 325.7,432.16 326.2,432.18 326.7,432.19 327.2,432.2 327.7,432.21 328.2,432.22 328.7,432.23 329.2,432.24 329.7,432.25 330.2,432.26 330.7,432.28 331.2,432.28 331.7,432.29 332.2,432.3 332.7,432.31 333.2,432.32 333.7,432.33 334.2,432.34 334.7,432.35 335.2,432.36 335.7,432.36 336.2,432.37 336.7,432.38 337.2,432.38 337.7,432.39 338.2,432.4 338.7,432.4 339.2,432.41 339.7,432.42 340.2,432.42 340.7,432.43 341.2,432.43 341.7,432.44 342.2,432.44 342.7,432.45 343.2,432.45 343.7,432.46 344.2,432.46 344.7,432.47 345.2,432.47" fill="none" stroke="#ff3030" stroke-width="0.9" stroke-linejoin="round" stroke-linecap="round" />
<path d="M228.2,411.64 228.7,411.67 229.2,411.7 229.7,411.74 230.2,411.79 230.7,411.84 231.2,411.89 231.7,411.95 232.2,412.02 232.7,412.08 233.2,412.15 233.7,412.23 234.2,412.3 234.7,412.38 235.2,412.45 235.7,412.53 236.2,412.61 236.7,412.68 237.2,412.76 237.7,412.83 238.2,412.91 238.7,412.98 239.2,413.04 239.7,413.1 240.2,413.16 240.7,413.22 241.2,413.27 241.7,413.31 242.2,413.35 242.7,413.38 243.2,413.42 243.7,413.45 244.2,413.48 244.7,413.52 245.2,413.56 245.7,413.6 246.2,413.65 246.7,413.71 247.2,413.78 247.7,413.86 248.2,413.97 248.7,414.11 249.2,414.26 249.7,414.43 250.2,414.61 250.7,414.8 251.2,414.99 251.7,415.18 252.2,415.37 252.7,415.55 253.2,415.71 253.7,415.86 254.2,416.02 254.7,416.17 255.2,416.32 255.7,416.47 256.2,416.62 256.7,416.76 257.2,416.9 257.7,417.03 258.2,417.16 258.7,417.27 259.2,417.38 259.7,417.47 260.2,417.56 260.7,417.63 261.2,417.7 261.7,417.76 262.2,417.82 262.7,417.87 263.2,417.91 263.7,417.94 264.2,417.96 264.7,417.98 265.2,417.98 265.7,417.97 266.2,417.96 266.7,417.93 267.2,417.89 267.7,417.84 268.2,417.78 268.7,417.7 269.2,417.61 269.7,417.5 270.2,417.37 270.7,417.21 271.2,417.03 271.7,416.81 272.2,416.57 272.7,416.28 273.2,415.95 273.7,415.57 274.2,415.14 274.7,414.65 275.2,414.1 275.7,413.49 276.2,412.79 276.7,412.02 277.2,411.16 277.7,410.21 278.2,409.15 278.7,407.99 279.2,406.71 279.7,405.32 280.2,403.8 280.7,402.16 281.2,400.38 281.7,398.46 282.2,396.4 282.7,394.2 283.2,391.86 283.7,389.38 284.2,386.78 284.7,384.06 285.2,381.23 285.7,378.31 286.2,375.33 286.7,372.32 287.2,369.3 287.7,366.3 288.2,363.37 288.7,360.53 289.2,357.84 289.7,355.34 290.2,353.09 290.7,351.13 291.2,349.53 291.7,348.31 292.2,347.54 292.7,347.25 293.2,347.45 293.7,348.14 294.2,349.3 294.7,350.91 295.2,352.93 295.7,355.29 296.2,357.96 296.7,360.88 297.2,363.98 297.7,367.22 298.2,370.54 298.7,373.91 299.2,377.3 299.7,380.67 300.2,383.99 300.7,387.25 301.2,390.4 301.7,393.44 302.2,396.35 302.7,399.12 303.2,401.74 303.7,404.19 304.2,406.49 304.7,408.63 305.2,410.61 305.7,412.44 306.2,414.13 306.7,415.68 307.2,417.1 307.7,418.39 308.2,419.56 308.7,420.62 309.2,421.58 309.7,422.44 310.2,423.22 310.7,423.91 311.2,424.53 311.7,425.09 312.2,425.59 312.7,426.04 313.2,426.45 313.7,426.81 314.2,427.14 314.7,427.44 315.2,427.71 315.7,427.96 316.2,428.18 316.7,428.38 317.2,428.56 317.7,428.73 318.2,428.89 318.7,429.03 319.2,429.17 319.7,429.3 320.2,429.42 320.7,429.53 321.2,429.64 321.7,429.74 322.2,429.84 322.7,429.93 323.2,430.01 323.7,430.1 324.2,430.18 324.7,430.25 325.2,430.33 325.7,430.4 326.2,430.47 326.7,430.53 327.2,430.59 327.7,430.65 328.2,430.71 328.7,430.77 329.2,430.82 329.7,430.87 330.2,430.92 330.7,430.97 331.2,431.01 331.7,431.06 332.2,431.1 332.7,431.14 333.2,431.18 333.7,431.22 334.2,431.26 334.7,431.29 335.2,431.33 335.7,431.36 336.2,431.4 336.7,431.43 337.2,431.46 337.7,431.49 338.2,431.51 338.7,431.54 339.2,431.57 339.7,431.59 340.2,431.62 340.7,431.64 341.2,431.67 341.7,431.69 342.2,431.71 342.7,431.73 343.2,431.75 343.7,431.77 344.2,431.79 344.7,431.81 345.2,431.83" fill="none" stroke="#ff3030" stroke-width="0.9" stroke-linejoin="round" stroke-linecap="round" />
<line x1="311.3" y1="327" x2="323.3" y2="327" stroke="#444" stroke-width="1.2"/>
<text x="325" y="328.9" font-size="5.4" text-anchor="start" font-weight="normal" fill="#1a1a1a" >RAW data</text>
<line x1="311.3" y1="333.6" x2="323.3" y2="333.6" stroke="#ff4040" stroke-width="1.0"/>
<text x="325" y="335.5" font-size="5.4" text-anchor="start" font-weight="normal" fill="#1a1a1a" >Bi2O3</text>
<line x1="311.3" y1="340.1" x2="323.3" y2="340.1" stroke="#ff5050" stroke-width="1.0"/>
<text x="325" y="342" font-size="5.4" text-anchor="start" font-weight="normal" fill="#1a1a1a" >Bi2O3</text>
<line x1="311.3" y1="346.7" x2="323.3" y2="346.7" stroke="#22ee55" stroke-width="1.6"/>
<text x="325" y="348.6" font-size="5.4" text-anchor="start" font-weight="normal" fill="#1a1a1a" >Background</text>
<line x1="311.3" y1="353.6" x2="323.3" y2="353.6" stroke="#cc55cc" stroke-width="1.0"/>
<text x="325" y="355.5" font-size="5.4" text-anchor="start" font-weight="normal" fill="#1a1a1a" >Envelope</text>
<line x1="396.1" y1="336.5" x2="396.1" y2="437.2" stroke="#5a5a5a" stroke-width="0.75"/>
<line x1="395.8" y1="436.8" x2="533.2" y2="436.8" stroke="#5a5a5a" stroke-width="0.75"/>
<line x1="395" y1="436.8" x2="396.1" y2="436.8" stroke="#5a5a5a" stroke-width="0.6"/>
<line x1="394.2" y1="430.11" x2="396.1" y2="430.11" stroke="#5a5a5a" stroke-width="0.6"/>
<text x="392.6" y="431.71" font-size="4.7" text-anchor="end" font-weight="bold" fill="#333" textLength="7.35" lengthAdjust="spacingAndGlyphs">400</text>
<line x1="395" y1="423.42" x2="396.1" y2="423.42" stroke="#5a5a5a" stroke-width="0.6"/>
<line x1="394.2" y1="416.73" x2="396.1" y2="416.73" stroke="#5a5a5a" stroke-width="0.6"/>
<text x="392.6" y="418.33" font-size="4.7" text-anchor="end" font-weight="bold" fill="#333" textLength="7.35" lengthAdjust="spacingAndGlyphs">600</text>
<line x1="395" y1="410.04" x2="396.1" y2="410.04" stroke="#5a5a5a" stroke-width="0.6"/>
<line x1="394.2" y1="403.35" x2="396.1" y2="403.35" stroke="#5a5a5a" stroke-width="0.6"/>
<text x="392.6" y="404.95" font-size="4.7" text-anchor="end" font-weight="bold" fill="#333" textLength="7.35" lengthAdjust="spacingAndGlyphs">800</text>
<line x1="395" y1="396.66" x2="396.1" y2="396.66" stroke="#5a5a5a" stroke-width="0.6"/>
<line x1="394.2" y1="389.97" x2="396.1" y2="389.97" stroke="#5a5a5a" stroke-width="0.6"/>
<text x="392.6" y="391.57" font-size="4.7" text-anchor="end" font-weight="bold" fill="#333" textLength="9.8" lengthAdjust="spacingAndGlyphs">1000</text>
<line x1="395" y1="383.28" x2="396.1" y2="383.28" stroke="#5a5a5a" stroke-width="0.6"/>
<line x1="394.2" y1="376.59" x2="396.1" y2="376.59" stroke="#5a5a5a" stroke-width="0.6"/>
<text x="392.6" y="378.19" font-size="4.7" text-anchor="end" font-weight="bold" fill="#333" textLength="9.8" lengthAdjust="spacingAndGlyphs">1200</text>
<line x1="395" y1="369.9" x2="396.1" y2="369.9" stroke="#5a5a5a" stroke-width="0.6"/>
<line x1="394.2" y1="363.21" x2="396.1" y2="363.21" stroke="#5a5a5a" stroke-width="0.6"/>
<text x="392.6" y="364.81" font-size="4.7" text-anchor="end" font-weight="bold" fill="#333" textLength="9.8" lengthAdjust="spacingAndGlyphs">1400</text>
<line x1="395" y1="356.52" x2="396.1" y2="356.52" stroke="#5a5a5a" stroke-width="0.6"/>
<line x1="394.2" y1="349.83" x2="396.1" y2="349.83" stroke="#5a5a5a" stroke-width="0.6"/>
<text x="392.6" y="351.43" font-size="4.7" text-anchor="end" font-weight="bold" fill="#333" textLength="9.8" lengthAdjust="spacingAndGlyphs">1600</text>
<line x1="395" y1="343.14" x2="396.1" y2="343.14" stroke="#5a5a5a" stroke-width="0.6"/>
<line x1="394.2" y1="336.45" x2="396.1" y2="336.45" stroke="#5a5a5a" stroke-width="0.6"/>
<text x="392.6" y="338.05" font-size="4.7" text-anchor="end" font-weight="bold" fill="#333" textLength="9.8" lengthAdjust="spacingAndGlyphs">1800</text>
<line x1="533.02" y1="436.8" x2="533.02" y2="438.7" stroke="#5a5a5a" stroke-width="0.6"/>
<text x="533.02" y="444.4" font-size="5.0" text-anchor="middle" font-weight="bold" fill="#333" textLength="7.35" lengthAdjust="spacingAndGlyphs">570</text>
<line x1="516.72" y1="436.8" x2="516.72" y2="437.9" stroke="#5a5a5a" stroke-width="0.6"/>
<line x1="500.42" y1="436.8" x2="500.42" y2="438.7" stroke="#5a5a5a" stroke-width="0.6"/>
<text x="500.42" y="444.4" font-size="5.0" text-anchor="middle" font-weight="bold" fill="#333" textLength="7.35" lengthAdjust="spacingAndGlyphs">575</text>
<line x1="484.12" y1="436.8" x2="484.12" y2="437.9" stroke="#5a5a5a" stroke-width="0.6"/>
<line x1="467.82" y1="436.8" x2="467.82" y2="438.7" stroke="#5a5a5a" stroke-width="0.6"/>
<text x="467.82" y="444.4" font-size="5.0" text-anchor="middle" font-weight="bold" fill="#333" textLength="7.35" lengthAdjust="spacingAndGlyphs">580</text>
<line x1="451.52" y1="436.8" x2="451.52" y2="437.9" stroke="#5a5a5a" stroke-width="0.6"/>
<line x1="435.22" y1="436.8" x2="435.22" y2="438.7" stroke="#5a5a5a" stroke-width="0.6"/>
<text x="435.22" y="444.4" font-size="5.0" text-anchor="middle" font-weight="bold" fill="#333" textLength="7.35" lengthAdjust="spacingAndGlyphs">585</text>
<line x1="418.92" y1="436.8" x2="418.92" y2="437.9" stroke="#5a5a5a" stroke-width="0.6"/>
<line x1="402.62" y1="436.8" x2="402.62" y2="438.7" stroke="#5a5a5a" stroke-width="0.6"/>
<text x="402.62" y="444.4" font-size="5.0" text-anchor="middle" font-weight="bold" fill="#333" textLength="7.35" lengthAdjust="spacingAndGlyphs">590</text>
<text x="464.55" y="453" font-size="5.8" text-anchor="middle" font-weight="bold" fill="#222" textLength="50.5" lengthAdjust="spacingAndGlyphs">Binding energy [eV]</text>
<text x="0" y="0" font-size="5.5" text-anchor="middle" font-weight="bold" fill="#222" textLength="37" lengthAdjust="spacingAndGlyphs" transform="translate(373.4,396.5) rotate(-90)">Intensity [a.u.]</text>
<text x="402.7" y="352.7" font-size="12.9" text-anchor="start" font-weight="bold" fill="#111" textLength="18.2" lengthAdjust="spacingAndGlyphs">(c<tspan font-size="8.4" dy="2.3">3</tspan><tspan dy="-2.3">)</tspan></text>
<path d="M402.9,402.7 403.4,402.73 403.9,402.77 404.4,402.81 404.9,402.86 405.4,402.91 405.9,402.96 406.4,403.01 406.9,403.07 407.4,403.13 407.9,403.19 408.4,403.25 408.9,403.32 409.4,403.39 409.9,403.46 410.4,403.53 410.9,403.6 411.4,403.68 411.9,403.75 412.4,403.83 412.9,403.92 413.4,404.01 413.9,404.1 414.4,404.2 414.9,404.31 415.4,404.42 415.9,404.53 416.4,404.65 416.9,404.77 417.4,404.9 417.9,405.02 418.4,405.15 418.9,405.28 419.4,405.41 419.9,405.54 420.4,405.67 420.9,405.8 421.4,405.93 421.9,406.05 422.4,406.18 422.9,406.3 423.4,406.42 423.9,406.55 424.4,406.67 424.9,406.8 425.4,406.93 425.9,407.06 426.4,407.19 426.9,407.32 427.4,407.45 427.9,407.58 428.4,407.71 428.9,407.83 429.4,407.95 429.9,408.07 430.4,408.18 430.9,408.29 431.4,408.39 431.9,408.5 432.4,408.6 432.9,408.71 433.4,408.81 433.9,408.91 434.4,409.01 434.9,409.11 435.4,409.2 435.9,409.3 436.4,409.39 436.9,409.49 437.4,409.58 437.9,409.67 438.4,409.76 438.9,409.85 439.4,409.94 439.9,410.03 440.4,410.11 440.9,410.2 441.4,410.29 441.9,410.37 442.4,410.46 442.9,410.54 443.4,410.63 443.9,410.71 444.4,410.79 444.9,410.88 445.4,410.96 445.9,411.04 446.4,411.12 446.9,411.2 447.4,411.27 447.9,411.35 448.4,411.43 448.9,411.5 449.4,411.57 449.9,411.64 450.4,411.71 450.9,411.78 451.4,411.85 451.9,411.91 452.4,411.98 452.9,412.04 453.4,412.1 453.9,412.16 454.4,412.21 454.9,412.27 455.4,412.33 455.9,412.38 456.4,412.44 456.9,412.49 457.4,412.54 457.9,412.6 458.4,412.65 458.9,412.7 459.4,412.75 459.9,412.8 460.4,412.85 460.9,412.9 461.4,412.95 461.9,413.01 462.4,413.06 462.9,413.11 463.4,413.16 463.9,413.21 464.4,413.26 464.9,413.31 465.4,413.36 465.9,413.41 466.4,413.46 466.9,413.51 467.4,413.55 467.9,413.6 468.4,413.65 468.9,413.7 469.4,413.75 469.9,413.8 470.4,413.85 470.9,413.9 471.4,413.95 471.9,414 472.4,414.05 472.9,414.11 473.4,414.17 473.9,414.22 474.4,414.28 474.9,414.34 475.4,414.41 475.9,414.47 476.4,414.54 476.9,414.6 477.4,414.67 477.9,414.74 478.4,414.81 478.9,414.88 479.4,414.95 479.9,415.02 480.4,415.09 480.9,415.16 481.4,415.23 481.9,415.3 482.4,415.37 482.9,415.44 483.4,415.51 483.9,415.59 484.4,415.66 484.9,415.74 485.4,415.81 485.9,415.89 486.4,415.96 486.9,416.04 487.4,416.12 487.9,416.19 488.4,416.27 488.9,416.35 489.4,416.43 489.9,416.52 490.4,416.6 490.9,416.68 491.4,416.77 491.9,416.85 492.4,416.94 492.9,417.03 493.4,417.11 493.9,417.2 494.4,417.29 494.9,417.38 495.4,417.47 495.9,417.57 496.4,417.66 496.9,417.76 497.4,417.85 497.9,417.95 498.4,418.05 498.9,418.15 499.4,418.26 499.9,418.36 500.4,418.47 500.9,418.58 501.4,418.69 501.9,418.81 502.4,418.94 502.9,419.08 503.4,419.22 503.9,419.36 504.4,419.5 504.9,419.64 505.4,419.78 505.9,419.92 506.4,420.05 506.9,420.17 507.4,420.28 507.9,420.38 508.4,420.47 508.9,420.56 509.4,420.65 509.9,420.74 510.4,420.83 510.9,420.91 511.4,420.99 511.9,421.07 512.4,421.15 512.9,421.22 513.4,421.3 513.9,421.37 514.4,421.44 514.9,421.51 515.4,421.58 515.9,421.64 516.4,421.71 516.9,421.77 517.4,421.83 517.9,421.89 518.4,421.94 518.9,421.99 519.4,422.05 519.9,422.1 520.4,422.14 520.9,422.19 521.4,422.24 521.9,422.28 522.4,422.32 522.9,422.37 523.4,422.41 523.9,422.45 524.4,422.49 524.9,422.53 525.4,422.57 525.9,422.61 526.4,422.64 526.9,422.68 527.4,422.71 527.9,422.75 528.4,422.78 528.9,422.81 529.4,422.84 529.9,422.87 530.4,422.89 530.9,422.92 531.4,422.94 531.9,422.96 532.4,422.98" fill="none" stroke="#22dd44" stroke-width="1.3" stroke-linejoin="round" stroke-linecap="round" />
<path d="M402.9,402.38 403.4,402.31 403.9,402.22 404.4,402.1 404.9,401.94 405.4,401.74 405.9,401.48 406.4,401.16 406.9,400.76 407.4,400.27 407.9,399.69 408.4,398.99 408.9,398.16 409.4,397.2 409.9,396.1 410.4,394.84 410.9,393.41 411.4,391.82 411.9,390.07 412.4,388.15 412.9,386.08 413.4,383.88 413.9,381.56 414.4,379.15 414.9,376.67 415.4,374.16 415.9,371.66 416.4,369.21 416.9,366.85 417.4,364.62 417.9,362.58 418.4,360.76 418.9,359.2 419.4,357.94 419.9,357.01 420.4,356.44 420.9,356.23 421.4,356.39 421.9,356.93 422.4,357.84 422.9,359.09 423.4,360.66 423.9,362.52 424.4,364.65 424.9,366.99 425.4,369.49 425.9,372.13 426.4,374.84 426.9,377.59 427.4,380.34 427.9,383.03 428.4,385.66 428.9,388.17 429.4,390.56 429.9,392.8 430.4,394.87 430.9,396.78 431.4,398.52 431.9,400.09 432.4,401.5 432.9,402.74 433.4,403.84 433.9,404.81 434.4,405.65 434.9,406.37 435.4,406.99 435.9,407.53 436.4,407.98 436.9,408.37 437.4,408.71 437.9,408.99 438.4,409.24 438.9,409.45 439.4,409.63 439.9,409.8 440.4,409.94 440.9,410.07 441.4,410.19 441.9,410.3" fill="none" stroke="#4545ff" stroke-width="1.0" stroke-linejoin="round" stroke-linecap="round" />
<path d="M423.9,406.49 424.4,406.6 424.9,406.7 425.4,406.8 425.9,406.89 426.4,406.97 426.9,407.04 427.4,407.09 427.9,407.12 428.4,407.13 428.9,407.12 429.4,407.07 429.9,406.99 430.4,406.87 430.9,406.7 431.4,406.49 431.9,406.22 432.4,405.9 432.9,405.53 433.4,405.09 433.9,404.59 434.4,404.03 434.9,403.4 435.4,402.7 435.9,401.95 436.4,401.14 436.9,400.28 437.4,399.38 437.9,398.45 438.4,397.5 438.9,396.54 439.4,395.59 439.9,394.66 440.4,393.77 440.9,392.93 441.4,392.17 441.9,391.49 442.4,390.91 442.9,390.44 443.4,390.1 443.9,389.89 444.4,389.82 444.9,389.89 445.4,390.1 445.9,390.44 446.4,390.92 446.9,391.53 447.4,392.25 447.9,393.07 448.4,393.98 448.9,394.97 449.4,396.01 449.9,397.09 450.4,398.2 450.9,399.31 451.4,400.42 451.9,401.51 452.4,402.58 452.9,403.6 453.4,404.57 453.9,405.49 454.4,406.35 454.9,407.15 455.4,407.88 455.9,408.55 456.4,409.15 456.9,409.7 457.4,410.19 457.9,410.62 458.4,411 458.9,411.33 459.4,411.63 459.9,411.89 460.4,412.11 460.9,412.31 461.4,412.48 461.9,412.63 462.4,412.76 462.9,412.88 463.4,412.98 463.9,413.07 464.4,413.15 464.9,413.23 465.4,413.3" fill="none" stroke="#ff3535" stroke-width="1.0" stroke-linejoin="round" stroke-linecap="round" />
<path d="M466.4,413.4 466.9,413.43 467.4,413.45 467.9,413.47 468.4,413.47 468.9,413.46 469.4,413.43 469.9,413.39 470.4,413.32 470.9,413.21 471.4,413.07 471.9,412.88 472.4,412.64 472.9,412.34 473.4,411.96 473.9,411.49 474.4,410.92 474.9,410.23 475.4,409.42 475.9,408.46 476.4,407.35 476.9,406.06 477.4,404.59 477.9,402.92 478.4,401.05 478.9,398.97 479.4,396.68 479.9,394.19 480.4,391.5 480.9,388.63 481.4,385.6 481.9,382.43 482.4,379.15 482.9,375.81 483.4,372.45 483.9,369.1 484.4,365.83 484.9,362.69 485.4,359.73 485.9,357 486.4,354.55 486.9,352.44 487.4,350.7 487.9,349.37 488.4,348.47 488.9,348.04 489.4,348.07 489.9,348.58 490.4,349.54 490.9,350.95 491.4,352.77 491.9,354.98 492.4,357.52 492.9,360.36 493.4,363.45 493.9,366.72 494.4,370.13 494.9,373.63 495.4,377.16 495.9,380.67 496.4,384.13 496.9,387.49 497.4,390.72 497.9,393.79 498.4,396.69 498.9,399.4 499.4,401.9 499.9,404.19 500.4,406.28 500.9,408.16 501.4,409.86 501.9,411.37 502.4,412.71 502.9,413.9 503.4,414.94 503.9,415.85 504.4,416.65 504.9,417.34 505.4,417.93 505.9,418.44 506.4,418.88 506.9,419.25 507.4,419.56 507.9,419.82 508.4,420.04 508.9,420.23 509.4,420.4 509.9,420.55 510.4,420.68 510.9,420.8 511.4,420.91 511.9,421.01" fill="none" stroke="#3535ff" stroke-width="1.0" stroke-linejoin="round" stroke-linecap="round" />
<path d="M489.4,416.37 489.9,416.44 490.4,416.5 490.9,416.55 491.4,416.6 491.9,416.64 492.4,416.67 492.9,416.69 493.4,416.7 493.9,416.69 494.4,416.66 494.9,416.6 495.4,416.52 495.9,416.41 496.4,416.27 496.9,416.08 497.4,415.85 497.9,415.58 498.4,415.25 498.9,414.86 499.4,414.41 499.9,413.9 500.4,413.31 500.9,412.65 501.4,411.92 501.9,411.12 502.4,410.25 502.9,409.31 503.4,408.3 503.9,407.22 504.4,406.08 504.9,404.88 505.4,403.64 505.9,402.37 506.4,401.06 506.9,399.75 507.4,398.43 507.9,397.14 508.4,395.88 508.9,394.69 509.4,393.57 509.9,392.55 510.4,391.64 510.9,390.87 511.4,390.23 511.9,389.75 512.4,389.43 512.9,389.28 513.4,389.3 513.9,389.48 514.4,389.82 514.9,390.31 515.4,390.93 515.9,391.7 516.4,392.59 516.9,393.59 517.4,394.7 517.9,395.89 518.4,397.16 518.9,398.48 519.4,399.84 519.9,401.24 520.4,402.64 520.9,404.05 521.4,405.44 521.9,406.81 522.4,408.14 522.9,409.43 523.4,410.66 523.9,411.84 524.4,412.95 524.9,414 525.4,414.97 525.9,415.88 526.4,416.71 526.9,417.48 527.4,418.17 527.9,418.8 528.4,419.37 528.9,419.88 529.4,420.33 529.9,420.73 530.4,421.08 530.9,421.39 531.4,421.66 531.9,421.89 532.4,422.09" fill="none" stroke="#ff3535" stroke-width="1.0" stroke-linejoin="round" stroke-linecap="round" />
<path d="M402.9,402 403.4,403.56 403.9,404.53 404.4,403.15 404.9,401.78 405.4,401.23 405.9,400.9 406.4,400.57 406.9,400.51 407.4,400.38 407.9,399.99 408.4,399.22 408.9,398.34 409.4,397.4 409.9,396.65 410.4,395.75 410.9,394.68 411.4,392.94 411.9,391.03 412.4,388.96 412.9,386.24 413.4,383.25 413.9,380.15 414.4,377.83 414.9,376.03 415.4,374.2 415.9,372.18 416.4,369.89 416.9,367.7 417.4,365.58 417.9,363.38 418.4,361.41 418.9,359.7 419.4,358.64 419.9,357.9 420.4,357.52 420.9,356.92 421.4,356.54 421.9,356.53 422.4,357.12 422.9,358.23 423.4,359.65 423.9,361.68 424.4,364.43 424.9,367.39 425.4,370.25 425.9,372.15 426.4,374.13 426.9,376.13 427.4,378.42 427.9,380.65 428.4,382.78 428.9,385.96 429.4,389.27 429.9,392.41 430.4,394.33 430.9,395.36 431.4,396.18 431.9,397.07 432.4,398.2 432.9,399.11 433.4,399.71 433.9,399.7 434.4,399.5 434.9,399.12 435.4,398.98 435.9,398.69 436.4,398.27 436.9,397.76 437.4,397.16 437.9,396.48 438.4,395.87 438.9,395.31 439.4,394.72 439.9,394.14 440.4,393.55 440.9,393.01 441.4,392.3 441.9,390.73 442.4,389.25 442.9,387.88 443.4,388.6 443.9,389.44 444.4,390.42 444.9,390.17 445.4,389.72 445.9,389.41 446.4,389.65 446.9,390.29 447.4,391.05 447.9,392.14 448.4,393.65 448.9,395.23 449.4,396.7 449.9,397.52 450.4,398.37 450.9,399.23 451.4,399.84 451.9,400.43 452.4,400.99 452.9,402.84 453.4,404.97 453.9,407.06 454.4,407.82 454.9,407.69 455.4,407.49 455.9,407.75 456.4,408.74 456.9,409.67 457.4,410.45 457.9,410.87 458.4,411.23 458.9,411.55 459.4,412.26 459.9,412.94 460.4,413.58 460.9,413.34 461.4,412.87 461.9,412.38 462.4,412.56 462.9,413.17 463.4,413.78 463.9,413.93 464.4,413.41 464.9,412.87 465.4,412.58 465.9,413.28 466.4,413.96 466.9,414.64 467.4,414.02 467.9,413.39 468.4,412.75 468.9,412.72 469.4,412.84 469.9,412.93 470.4,413.38 470.9,414.05 471.4,414.69 471.9,414.75 472.4,413.97 472.9,413.12 473.4,412.29 473.9,411.75 474.4,411.11 474.9,410.35 475.4,410.27 475.9,410.05 476.4,409.67 476.9,408.01 477.4,405.89 477.9,403.58 478.4,401.2 478.9,398.72 479.4,396.03 479.9,393.51 480.4,391.35 480.9,389.01 481.4,386.27 481.9,382.44 482.4,378.51 482.9,374.51 483.4,371.94 483.9,369.39 484.4,366.91 484.9,363.95 485.4,361.01 485.9,358.31 486.4,355.5 486.9,352.77 487.4,350.41 487.9,348.7 488.4,347.78 488.9,347.32 489.4,347.38 489.9,348.14 490.4,349.36 490.9,351.01 491.4,352.74 491.9,354.85 492.4,357.28 492.9,359.77 493.4,362.43 493.9,365.26 494.4,368.74 494.9,372.62 495.4,376.51 495.9,379.78 496.4,382.1 496.9,384.28 497.4,386.58 497.9,389.84 498.4,392.86 498.9,395.63 499.4,397.59 499.9,399.27 500.4,400.67 500.9,401.83 501.4,402.72 501.9,403.36 502.4,403.84 502.9,404.15 503.4,404.24 503.9,403.84 504.4,402.82 504.9,401.65 505.4,400.56 505.9,400.29 506.4,399.91 506.9,399.47 507.4,398.1 507.9,396.7 508.4,395.31 508.9,394.03 509.4,392.83 509.9,391.71 510.4,390.64 510.9,389.65 511.4,388.8 511.9,388.22 512.4,387.97 512.9,387.9 513.4,388.08 513.9,388.8 514.4,389.67 514.9,390.69 515.4,390.87 515.9,391.18 516.4,391.62 516.9,392.81 517.4,394.27 517.9,395.82 518.4,397.43 518.9,399.1 519.4,400.81 519.9,402.4 520.4,403.8 520.9,405.19 521.4,406.61 521.9,408.16 522.4,409.67 522.9,411.14 523.4,411.74 523.9,412.28 524.4,412.75 524.9,413.45 525.4,414.16 525.9,414.79 526.4,415.95 526.9,417.44 527.4,418.86 527.9,419.83 528.4,420.15 528.9,420.41 529.4,420.73 529.9,421.41 530.4,422.04 530.9,422.63 531.4,422.51 531.9,422.36 532.4,422.18" fill="none" stroke="#222" stroke-width="0.75" stroke-linejoin="round" stroke-linecap="round" />
<path d="M402.9,402.38 403.4,402.31 403.9,402.22 404.4,402.1 404.9,401.94 405.4,401.74 405.9,401.48 406.4,401.16 406.9,400.76 407.4,400.27 407.9,399.69 408.4,398.99 408.9,398.16 409.4,397.2 409.9,396.1 410.4,394.84 410.9,393.41 411.4,391.82 411.9,390.07 412.4,388.15 412.9,386.08 413.4,383.88 413.9,381.56 414.4,379.15 414.9,376.67 415.4,374.16 415.9,371.66 416.4,369.21 416.9,366.85 417.4,364.62 417.9,362.58 418.4,360.76 418.9,359.2 419.4,357.94 419.9,357.01 420.4,356.43 420.9,356.22 421.4,356.38 421.9,356.92 422.4,357.81 422.9,359.05 423.4,360.61 423.9,362.46 424.4,364.57 424.9,366.88 425.4,369.36 425.9,371.95 426.4,374.62 426.9,377.31 427.4,379.97 427.9,382.58 428.4,385.08 428.9,387.46 429.4,389.68 429.9,391.72 430.4,393.56 430.9,395.19 431.4,396.61 431.9,397.81 432.4,398.8 432.9,399.56 433.4,400.13 433.9,400.49 434.4,400.66 434.9,400.66 435.4,400.49 435.9,400.18 436.4,399.73 436.9,399.17 437.4,398.51 437.9,397.77 438.4,396.98 438.9,396.14 439.4,395.29 439.9,394.43 440.4,393.6 440.9,392.81 441.4,392.07 441.9,391.42 442.4,390.86 442.9,390.41 443.4,390.08 443.9,389.87 444.4,389.81 444.9,389.88 445.4,390.09 445.9,390.44 446.4,390.92 446.9,391.53 447.4,392.25 447.9,393.07 448.4,393.98 448.9,394.97 449.4,396.01 449.9,397.09 450.4,398.2 450.9,399.31 451.4,400.42 451.9,401.51 452.4,402.58 452.9,403.6 453.4,404.57 453.9,405.49 454.4,406.35 454.9,407.15 455.4,407.88 455.9,408.55 456.4,409.15 456.9,409.7 457.4,410.19 457.9,410.62 458.4,411 458.9,411.33 459.4,411.63 459.9,411.88 460.4,412.11 460.9,412.3 461.4,412.47 461.9,412.62 462.4,412.75 462.9,412.87 463.4,412.97 463.9,413.06 464.4,413.14 464.9,413.21 465.4,413.27 465.9,413.32 466.4,413.37 466.9,413.41 467.4,413.43 467.9,413.45 468.4,413.46 468.9,413.45 469.4,413.43 469.9,413.38 470.4,413.31 470.9,413.21 471.4,413.07 471.9,412.88 472.4,412.64 472.9,412.34 473.4,411.96 473.9,411.49 474.4,410.92 474.9,410.23 475.4,409.42 475.9,408.46 476.4,407.35 476.9,406.06 477.4,404.59 477.9,402.92 478.4,401.05 478.9,398.97 479.4,396.68 479.9,394.19 480.4,391.5 480.9,388.63 481.4,385.6 481.9,382.43 482.4,379.15 482.9,375.81 483.4,372.44 483.9,369.1 484.4,365.83 484.9,362.69 485.4,359.72 485.9,356.99 486.4,354.54 486.9,352.42 487.4,350.68 487.9,349.34 488.4,348.44 488.9,347.99 489.4,348.01 489.9,348.5 490.4,349.44 490.9,350.82 491.4,352.61 491.9,354.77 492.4,357.26 492.9,360.03 493.4,363.03 493.9,366.2 494.4,369.49 494.9,372.85 495.4,376.2 495.9,379.51 496.4,382.73 496.9,385.81 497.4,388.72 497.9,391.42 498.4,393.89 498.9,396.1 499.4,398.05 499.9,399.73 500.4,401.12 500.9,402.24 501.4,403.08 501.9,403.67 502.4,404.02 502.9,404.13 503.4,404.02 503.9,403.71 504.4,403.22 504.9,402.58 505.4,401.79 505.9,400.89 506.4,399.89 506.9,398.83 507.4,397.72 507.9,396.58 508.4,395.45 508.9,394.36 509.4,393.32 509.9,392.36 510.4,391.5 510.9,390.76 511.4,390.15 511.9,389.69 512.4,389.39 512.9,389.25 513.4,389.28 513.9,389.47 514.4,389.81 514.9,390.3 515.4,390.93 515.9,391.7 516.4,392.59 516.9,393.59 517.4,394.7 517.9,395.89 518.4,397.16 518.9,398.48 519.4,399.84 519.9,401.24 520.4,402.64 520.9,404.05 521.4,405.44 521.9,406.81 522.4,408.14 522.9,409.43 523.4,410.66 523.9,411.84 524.4,412.95 524.9,414 525.4,414.97 525.9,415.88 526.4,416.71 526.9,417.48 527.4,418.17 527.9,418.8 528.4,419.37 528.9,419.88 529.4,420.33 529.9,420.73 530.4,421.08 530.9,421.39 531.4,421.66 531.9,421.89 532.4,422.09" fill="none" stroke="#c066dd" stroke-width="1.0" stroke-linejoin="round" stroke-linecap="round" />
<line x1="500.9" y1="328.5" x2="512.7" y2="328.5" stroke="#444" stroke-width="1.0"/>
<text x="514.5" y="330.4" font-size="5.4" text-anchor="start" font-weight="normal" fill="#1a1a1a" >RAW data</text>
<line x1="500.9" y1="335.5" x2="512.7" y2="335.5" stroke="#ff4a4a" stroke-width="0.9"/>
<text x="514.5" y="337.4" font-size="5.4" text-anchor="start" font-weight="normal" fill="#1a1a1a" >Te-met</text>
<line x1="500.9" y1="342.1" x2="512.7" y2="342.1" stroke="#ff6a6a" stroke-width="1.0"/>
<text x="514.5" y="344" font-size="5.4" text-anchor="start" font-weight="normal" fill="#1a1a1a" >Te-met</text>
<line x1="500.9" y1="349" x2="512.7" y2="349" stroke="#6a6aff" stroke-width="1.2"/>
<text x="514.5" y="350.9" font-size="5.4" text-anchor="start" font-weight="normal" fill="#1a1a1a" >TeO2</text>
<line x1="500.9" y1="355.5" x2="512.7" y2="355.5" stroke="#4a4aff" stroke-width="1.0"/>
<text x="514.5" y="357.4" font-size="5.4" text-anchor="start" font-weight="normal" fill="#1a1a1a" >TeO2</text>
<line x1="500.9" y1="362.2" x2="512.7" y2="362.2" stroke="#30e060" stroke-width="1.6"/>
<text x="514.5" y="364.1" font-size="5.4" text-anchor="start" font-weight="normal" fill="#1a1a1a" >Background</text>
<line x1="500.9" y1="368.8" x2="512.7" y2="368.8" stroke="#cc80cc" stroke-width="1.5"/>
<text x="514.5" y="370.7" font-size="5.4" text-anchor="start" font-weight="normal" fill="#1a1a1a" >Envelope</text>
</svg>
</body></html>
